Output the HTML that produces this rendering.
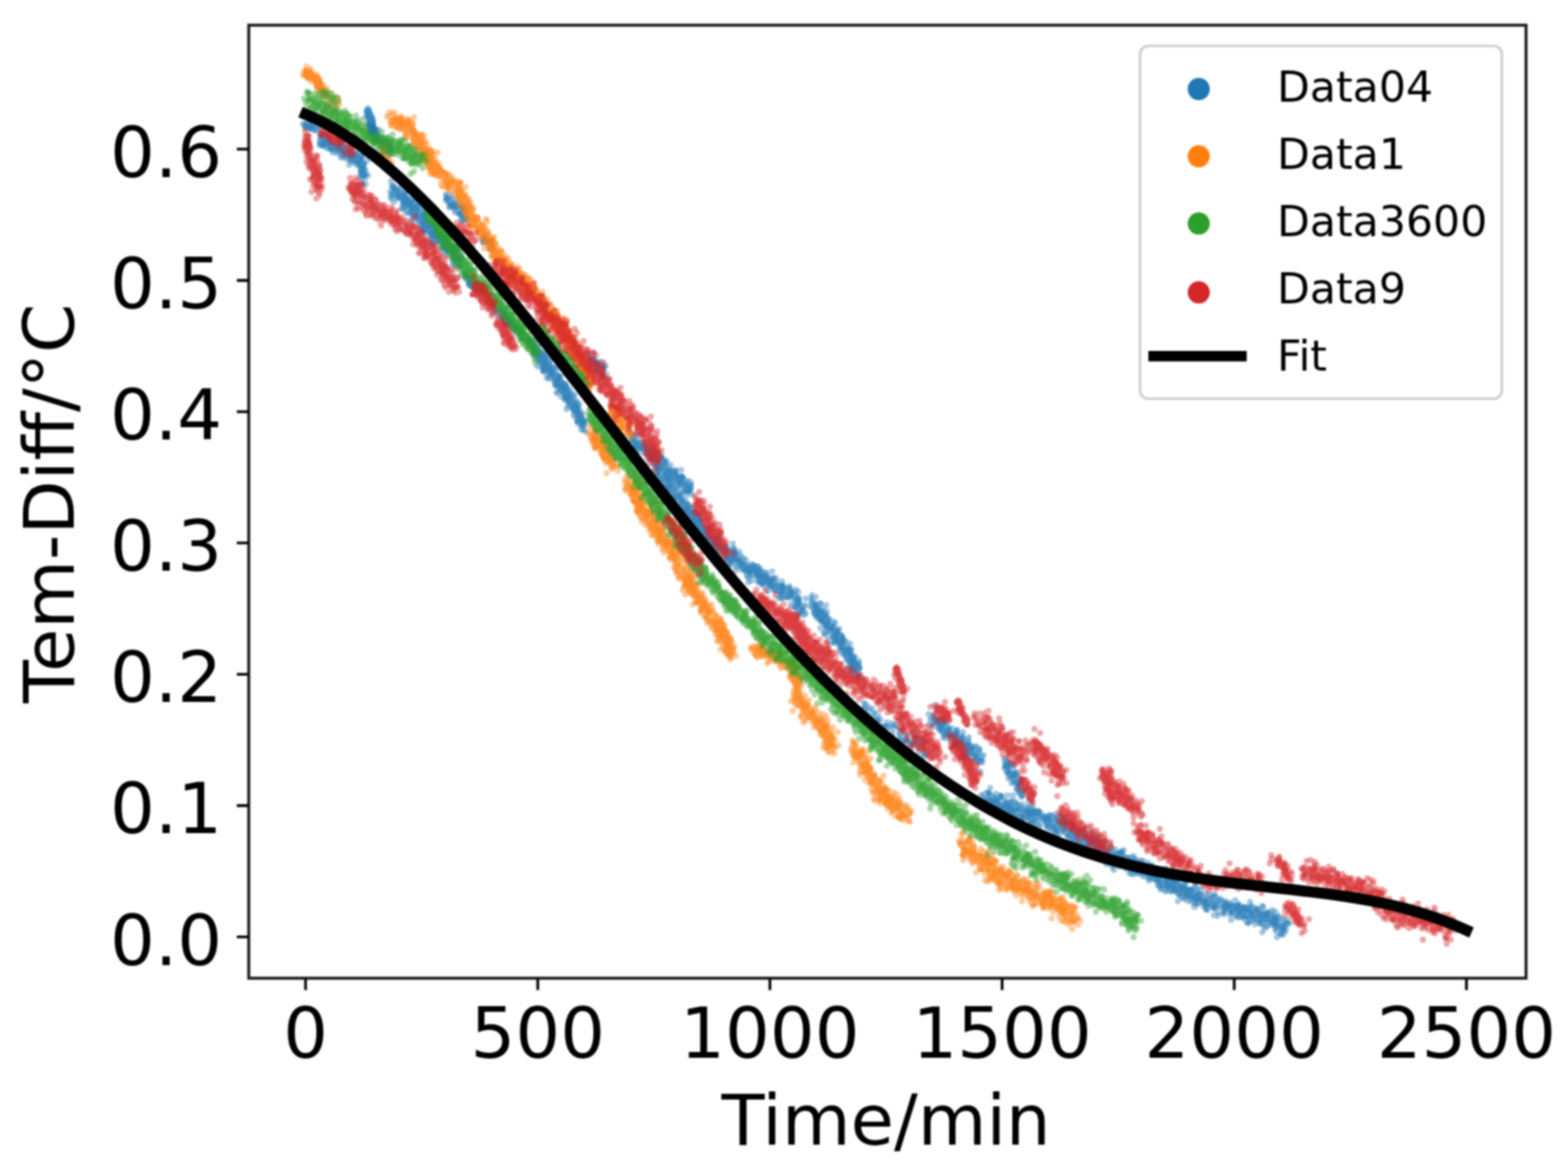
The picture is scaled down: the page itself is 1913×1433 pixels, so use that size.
<!DOCTYPE html>
<html><head><meta charset="utf-8"><title>plot</title>
<style>html,body{margin:0;padding:0;background:#fff;}svg{display:block;filter:blur(1px);}</style>
</head><body>
<svg width="1913" height="1433" viewBox="0 0 1913 1433"><rect width="1913" height="1433" fill="#fff"/><path d="M374 153h0M375 150h0M376 150h0M379 156h0M380 155h0M391 168h0M391 170h0M394 174h0M391 173h0M390 177h0M399 181h0M400 181h0M400 177h0M399 173h0M400 177h0M398 179h0M402 180h0M402 169h0M406 176h0M406 176h0M406 186h0M408 179h0M415 179h0M408 181h0M415 178h0M414 185h0M418 186h0M416 192h0M418 184h0M417 183h0M425 180h0M420 186h0M426 186h0M427 195h0M428 185h0M430 189h0M434 188h0M431 195h0M429 194h0M432 195h0M437 192h0M435 191h0M437 194h0M438 194h0M440 208h0M444 201h0M440 203h0M440 195h0M438 200h0M442 199h0M443 203h0M444 213h0M444 208h0M440 225h0M454 155h0M453 162h0M462 158h0M458 169h0M461 164h0M458 168h0M463 171h0M461 160h0M460 171h0M466 180h0M467 190h0M464 173h0M470 179h0M473 181h0M477 180h0M474 180h0M477 187h0M481 228h0M479 229h0M487 229h0M480 229h0M486 239h0M486 238h0M490 240h0M496 242h0M490 242h0M494 234h0M497 246h0M498 249h0M495 248h0M496 245h0M495 260h0M503 248h0M501 252h0M493 252h0M503 250h0M500 249h0M503 260h0M502 249h0M503 262h0M502 268h0M508 257h0M509 253h0M507 248h0M508 260h0M510 262h0M508 260h0M514 269h0M503 259h0M515 259h0M512 266h0M512 276h0M515 262h0M513 273h0M515 263h0M515 267h0M510 265h0M521 273h0M519 271h0M518 277h0M527 270h0M517 280h0M520 275h0M519 276h0M532 276h0M523 276h0M527 284h0M528 286h0M531 278h0M536 291h0M531 280h0M527 293h0M532 293h0M528 300h0M534 287h0M532 295h0M531 295h0M539 288h0M531 287h0M542 290h0M539 292h0M535 294h0M541 303h0M541 300h0M546 291h0M549 304h0M544 294h0M546 298h0M554 302h0M559 294h0M555 305h0M558 311h0M556 309h0M553 314h0M552 321h0M556 312h0M553 308h0M554 323h0M554 317h0M556 313h0M555 309h0M563 313h0M557 322h0M545 242h0M550 242h0M549 251h0M547 247h0M550 246h0M549 247h0M549 244h0M551 243h0M554 250h0M555 249h0M557 254h0M560 254h0M556 257h0M555 259h0M564 251h0M561 257h0M562 256h0M564 262h0M565 263h0M564 269h0M569 265h0M565 262h0M588 289h0M591 293h0M589 294h0M590 290h0M591 293h0M572 340h0M572 344h0M569 334h0M572 347h0M576 349h0M573 346h0M575 343h0M579 353h0M583 351h0M584 355h0M585 352h0M610 380h0M607 381h0M614 385h0M616 381h0M617 391h0M619 387h0M623 393h0M629 398h0M628 400h0M631 399h0M627 402h0M634 405h0M638 406h0M636 405h0M637 404h0M644 413h0M645 414h0M651 423h0M651 429h0M656 428h0M657 430h0M657 430h0M659 433h0M654 431h0M659 430h0M661 435h0M659 429h0M657 440h0M660 432h0M662 435h0M665 440h0M659 437h0M663 432h0M659 438h0M664 445h0M665 436h0M665 444h0M663 451h0M667 461h0M666 450h0M670 449h0M675 456h0M675 459h0M671 453h0M680 458h0M676 460h0M675 456h0M677 464h0M680 465h0M680 464h0M685 465h0M677 469h0M684 464h0M682 460h0M685 471h0M684 475h0M686 476h0M684 473h0M687 473h0M682 469h0M687 479h0M695 475h0M690 469h0M691 476h0M690 483h0M690 485h0M691 499h0M698 482h0M694 483h0M698 486h0M698 481h0M697 479h0M693 486h0M695 490h0M698 490h0M695 495h0M696 486h0M699 484h0M695 493h0M699 496h0M701 495h0M698 488h0M701 495h0M696 497h0M699 497h0M701 490h0M704 491h0M705 506h0M703 508h0M710 505h0M704 501h0M703 501h0M704 494h0M702 505h0M703 503h0M704 501h0M705 512h0M709 513h0M708 513h0M711 519h0M714 526h0M710 515h0M719 441h0M724 438h0M719 442h0M725 444h0M723 444h0M723 443h0M722 440h0M725 443h0M725 442h0M725 443h0M728 445h0M730 450h0M731 454h0M732 446h0M732 457h0M737 448h0M734 457h0M775 553h0M779 540h0M774 537h0M776 537h0M781 545h0M774 548h0M777 543h0M779 548h0M783 546h0M786 546h0M788 553h0M786 547h0M787 547h0M791 549h0M794 560h0M796 551h0M796 553h0M797 555h0M801 569h0M804 554h0M803 566h0M798 566h0M802 560h0M800 552h0M806 557h0M807 569h0M813 562h0M802 564h0M807 558h0M807 568h0M815 570h0M812 578h0M816 577h0M817 573h0M817 578h0M823 582h0M823 576h0M824 589h0M824 582h0M823 585h0M826 582h0M827 585h0M831 573h0M832 582h0M832 581h0M830 587h0M836 590h0M832 592h0M838 597h0M840 599h0M843 593h0M799 566h0M804 574h0M800 576h0M809 585h0M798 574h0M807 579h0M801 579h0M807 577h0M807 583h0M815 582h0M811 584h0M815 580h0M818 585h0M816 593h0M820 596h0M822 597h0M817 597h0M816 593h0M817 595h0M818 598h0M822 590h0M816 597h0M819 598h0M821 607h0M822 606h0M826 605h0M825 604h0M830 618h0M828 618h0M835 616h0M832 611h0M839 621h0M830 620h0M833 623h0M832 621h0M840 632h0M836 628h0M842 626h0M838 627h0M836 625h0M843 627h0M841 632h0M845 635h0M848 632h0M849 634h0M841 631h0M844 625h0M846 634h0M853 639h0M852 638h0M855 637h0M850 636h0M853 640h0M852 630h0M855 635h0M856 640h0M851 647h0M854 650h0M855 647h0M861 652h0M858 653h0M856 650h0M859 656h0M860 647h0M861 649h0M861 656h0M854 656h0M866 644h0M860 657h0M856 656h0M862 655h0M862 650h0M863 655h0M867 647h0M867 658h0M866 656h0M866 660h0M873 659h0M868 667h0M871 670h0M869 663h0M871 664h0M872 665h0M875 669h0M873 659h0M875 667h0M876 665h0M880 667h0M879 664h0M886 667h0M889 689h0M894 663h0M890 671h0M888 681h0M889 685h0M890 687h0M890 679h0M894 677h0M896 670h0M895 683h0M887 684h0M898 676h0M894 680h0M902 683h0M896 680h0M905 689h0M910 696h0M911 694h0M912 703h0M920 691h0M911 696h0M916 693h0M915 697h0M924 701h0M919 694h0M923 702h0M925 697h0M929 698h0M928 697h0M928 703h0M929 708h0M929 702h0M929 699h0M930 711h0M930 705h0M930 709h0M934 705h0M933 716h0M930 701h0M933 706h0M927 709h0M932 702h0M944 707h0M940 710h0M945 709h0M943 709h0M945 717h0M947 705h0M943 713h0M945 705h0M939 713h0M941 708h0M952 722h0M953 721h0M948 720h0M952 721h0M955 714h0M963 717h0M965 725h0M969 740h0M966 721h0M974 722h0M973 731h0M973 732h0M972 738h0M973 738h0M975 734h0M981 750h0M980 746h0M979 744h0M988 739h0M992 737h0M1001 736h0M990 733h0M992 740h0M992 741h0M999 748h0M992 741h0M994 748h0M995 751h0M990 735h0M1003 755h0M1004 743h0M1002 756h0M996 741h0M999 747h0M1005 746h0M1007 750h0M1011 757h0M1008 763h0M1005 754h0M1008 759h0M1006 759h0M1007 771h0M1020 778h0M1014 767h0M1019 760h0M1017 777h0M1020 771h0M1018 771h0M1021 769h0M1025 774h0M1024 778h0M1027 776h0M1023 782h0M1022 781h0M1024 778h0M1029 786h0M1030 783h0M1029 790h0M1027 789h0M1028 798h0M1029 789h0M1034 790h0M1037 791h0M1030 791h0M1034 789h0M1030 789h0M1034 793h0M1030 790h0M1035 794h0M1039 792h0M1038 800h0M1040 809h0M1039 806h0M1040 804h0M1046 812h0M1040 817h0M1041 811h0M1042 810h0M1045 814h0M1041 813h0M1040 813h0M1049 815h0M1043 815h0M1048 822h0M1047 820h0M1045 818h0M1055 865h0M1058 873h0M1053 864h0M1054 878h0M1061 874h0M1068 879h0M1069 877h0M1082 886h0M1082 888h0M1091 887h0M1089 890h0M1110 905h0M1117 899h0M1116 907h0M1128 921h0M1126 906h0M1130 905h0M1141 877h0M1142 878h0M1141 877h0M1145 883h0M1149 891h0M1148 883h0M1152 890h0M1149 888h0M1154 892h0M1153 900h0M1152 892h0M1154 881h0M1158 899h0M1149 892h0M1153 892h0M1157 888h0M1154 895h0M1156 890h0M1167 890h0M1162 897h0M1164 898h0M1167 892h0M1166 911h0M1165 904h0M1167 899h0M1177 904h0M1171 905h0M1173 906h0M1174 899h0M1177 912h0M1182 899h0M1173 900h0M1176 916h0M1179 913h0M1183 913h0M1178 906h0M1181 917h0M1178 916h0M1174 922h0M1181 914h0M1183 910h0M1181 921h0M1189 911h0M1193 929h0M1190 928h0M1195 915h0M1191 922h0M1196 941h0M1196 928h0M1229 935h0M1226 937h0M1230 941h0M1226 936h0M1230 937h0M1229 934h0M1229 936h0M1226 936h0M1233 932h0M1236 946h0M1229 937h0M1228 942h0M1239 943h0M1239 944h0M1237 954h0M1240 962h0M1242 955h0M1243 967h0M1250 964h0M1242 963h0M1245 966h0M1208 977h0M1206 967h0M1211 981h0M1211 980h0M1206 977h0M1215 968h0M1220 971h0M1211 986h0M1217 977h0M1216 973h0M1216 974h0M1225 986h0M1221 991h0M1219 983h0M1225 986h0M1229 987h0M1220 983h0M1230 991h0M1232 987h0M1230 990h0M1232 983h0M1231 997h0M1235 985h0M1236 970h0M1233 985h0M1239 987h0M1230 980h0M1236 991h0M1239 980h0M1237 997h0M1246 987h0M1246 987h0M1239 996h0M1247 987h0M1248 997h0M1251 996h0M1248 988h0M1252 987h0M1253 985h0M1254 993h0M1258 993h0M1254 991h0M1257 986h0M1259 1005h0M1260 994h0M1266 1003h0M1260 994h0M1262 990h0M1266 1004h0M1268 990h0M1266 1003h0M1268 1010h0M1264 1002h0M1265 1007h0M1275 1000h0M1278 997h0M1279 999h0M1277 998h0M1277 1009h0M1281 1012h0M1289 1014h0M1293 1002h0M1284 1009h0M1288 998h0M1287 1014h0M1300 1010h0M1295 995h0M1304 1002h0M1297 999h0M1298 1004h0M1300 1005h0M1298 1015h0M1304 1018h0M1303 1016h0M1309 1014h0M1302 1019h0M1311 1015h0M1311 1028h0M1311 1023h0M1314 1028h0M1311 1012h0M1313 1019h0M1309 1018h0M1317 1029h0M1306 1014h0M1316 1015h0M1323 1016h0M1324 1034h0M1325 1031h0M1323 1022h0M1331 1029h0M1325 1029h0M1333 1041h0M1340 1026h0M1334 1043h0M1334 1021h0M1335 1024h0M1344 1035h0M1334 1031h0M1339 1047h0M1340 1036h0M1347 1042h0M1346 1047h0M1346 1039h0M1348 1041h0M1351 1041h0M1357 1044h0M1369 1038h0M1357 1041h0M1360 1042h0M1354 1047h0M1364 1041h0M1365 1047h0M1364 1050h0M1361 1050h0M1366 1052h0M1367 1046h0M1372 1050h0M1375 1052h0M1382 1051h0M1379 1061h0M1378 1051h0M1376 1054h0M1381 1046h0M1381 1055h0M1384 1066h0M1379 1056h0M1383 1062h0M1383 1057h0M1382 1054h0M1388 1060h0M1381 1049h0M1386 1061h0M1387 1054h0M1390 1055h0M1386 1062h0M1390 1054h0M1388 1058h0M1389 1051h0M1393 1050h0M1385 1056h0M1386 1052h0M1391 1052h0M1404 1067h0M1400 1063h0M1398 1062h0M1405 1055h0M1407 1071h0M1401 1065h0M1408 1072h0M1411 1070h0M1413 1074h0M1410 1067h0M1412 1071h0M1416 1079h0M1419 1076h0M1416 1072h0M1420 1079h0M1416 1085h0M1421 1075h0M1425 1079h0M1423 1072h0M1425 1072h0M1426 1078h0M1427 1072h0M1429 1087h0M1426 1079h0M1434 1085h0M1426 1083h0M1428 1076h0M1429 1072h0M1430 1068h0M1430 1073h0M1433 1081h0M1429 1085h0M1437 1079h0M1436 1081h0M1434 1078h0M1438 1075h0M1438 1090h0M1435 1081h0M1441 1080h0M1442 1088h0M1435 1076h0M1435 1075h0M1445 1079h0M1445 1083h0M1446 1088h0M1441 1083h0M1447 1074h0M1456 1093h0M1446 1090h0M1451 1088h0M1450 1091h0M1444 1096h0M1454 1085h0M1461 1102h0M1459 1081h0M1456 1101h0M1460 1083h0M1460 1096h0M1459 1094h0M1464 1091h0M1462 1102h0M1464 1097h0M1471 1099h0M1477 1099h0M1468 1105h0M1472 1099h0M1475 1103h0M1482 1105h0M1469 1101h0M1478 1096h0M1481 1116h0M1482 1090h0M1479 1100h0M1493 1107h0M1488 1098h0M1485 1117h0M1495 1104h0M1498 1105h0M1495 1102h0M1509 1108h0M1506 1108h0M1504 1105h0M1502 1111h0M1510 1119h0M1502 1122h0M1511 1103h0M1513 1116h0M1513 1111h0M1520 1109h0M1520 1123h0M1518 1119h0M1519 1106h0M1521 1122h0M1521 1125h0M1526 1110h0M1529 1116h0M1527 1109h0M1527 1105h0M1529 1111h0M1536 1113h0M1539 1127h0M1542 1113h0M1539 1111h0M1545 1119h0M1545 1120h0M1540 1105h0M1550 1114h0M1541 1122h0M1551 1114h0M1550 1124h0M1557 1118h0M1551 1117h0M1555 1129h0M1555 1124h0M1556 1133h0M1560 1118h0M1557 1130h0M1564 1137h0M1569 1133h0M1566 1133h0M1567 1133h0M1568 1137h0M1570 1126h0M1563 1138h0M1565 1140h0" stroke="#1f77b4" stroke-opacity="0.42" stroke-width="7.4" stroke-linecap="round" fill="none"/><path d="M374 153h0M375 152h0M378 151h0M378 156h0M378 157h0M382 156h0M381 155h0M382 158h0M384 156h0M382 156h0M391 176h0M394 165h0M394 164h0M393 177h0M396 169h0M400 174h0M401 167h0M398 175h0M397 170h0M400 175h0M404 182h0M410 177h0M416 171h0M413 179h0M412 180h0M419 178h0M418 177h0M413 182h0M419 181h0M414 176h0M419 180h0M417 186h0M421 185h0M419 183h0M423 194h0M421 190h0M424 190h0M427 188h0M427 183h0M431 193h0M436 199h0M433 193h0M435 188h0M443 200h0M439 196h0M443 190h0M439 200h0M441 205h0M441 206h0M442 199h0M441 213h0M443 211h0M445 214h0M442 213h0M438 201h0M442 225h0M453 164h0M456 171h0M466 167h0M459 159h0M461 166h0M461 172h0M469 178h0M461 174h0M470 179h0M473 181h0M473 186h0M474 188h0M480 229h0M478 227h0M482 236h0M477 242h0M484 233h0M480 235h0M485 237h0M487 239h0M489 235h0M496 247h0M492 238h0M492 247h0M495 245h0M495 248h0M498 243h0M501 248h0M502 257h0M505 247h0M509 256h0M501 250h0M512 248h0M506 255h0M508 257h0M507 269h0M513 267h0M514 269h0M509 267h0M510 265h0M514 267h0M512 270h0M518 261h0M519 262h0M518 269h0M516 278h0M520 269h0M524 282h0M520 279h0M517 282h0M526 276h0M520 275h0M519 277h0M524 283h0M519 275h0M521 276h0M531 278h0M531 282h0M527 274h0M526 287h0M529 287h0M533 288h0M528 296h0M534 293h0M532 282h0M538 286h0M542 295h0M544 294h0M542 293h0M543 301h0M543 292h0M540 307h0M545 303h0M545 311h0M552 299h0M545 298h0M550 306h0M555 300h0M558 311h0M554 312h0M550 312h0M552 310h0M560 315h0M559 305h0M554 313h0M558 306h0M561 324h0M556 323h0M561 312h0M558 316h0M560 313h0M563 312h0M554 324h0M546 243h0M544 244h0M549 249h0M548 253h0M551 251h0M555 248h0M559 251h0M555 253h0M556 256h0M560 260h0M565 255h0M563 252h0M564 254h0M564 263h0M567 256h0M568 268h0M567 266h0M589 296h0M594 295h0M592 295h0M599 293h0M601 303h0M571 338h0M568 340h0M572 338h0M572 346h0M580 347h0M580 352h0M580 350h0M583 345h0M584 350h0M603 375h0M602 370h0M603 376h0M607 385h0M610 380h0M617 384h0M616 392h0M617 388h0M615 389h0M615 387h0M620 389h0M625 397h0M629 399h0M627 392h0M634 400h0M636 403h0M633 401h0M646 420h0M647 416h0M645 417h0M652 421h0M652 425h0M655 428h0M656 436h0M654 437h0M659 429h0M652 433h0M658 441h0M660 441h0M662 435h0M662 436h0M661 443h0M668 443h0M661 442h0M664 432h0M665 436h0M670 442h0M662 436h0M661 438h0M665 442h0M661 447h0M670 444h0M668 454h0M672 454h0M663 450h0M666 448h0M672 450h0M670 439h0M671 451h0M672 452h0M671 455h0M673 457h0M673 448h0M670 459h0M669 452h0M674 452h0M670 457h0M672 451h0M679 451h0M672 451h0M670 462h0M677 456h0M679 462h0M675 461h0M679 455h0M679 462h0M680 468h0M682 465h0M686 470h0M678 467h0M680 461h0M681 479h0M685 466h0M680 470h0M682 461h0M684 483h0M687 468h0M683 470h0M685 484h0M687 473h0M690 469h0M689 475h0M690 475h0M688 474h0M691 475h0M687 482h0M690 484h0M695 481h0M690 479h0M694 486h0M692 483h0M692 481h0M694 482h0M695 491h0M695 488h0M697 484h0M699 494h0M690 488h0M693 487h0M697 485h0M700 491h0M696 487h0M701 499h0M696 486h0M705 498h0M698 492h0M703 493h0M701 502h0M704 499h0M707 505h0M703 501h0M703 497h0M704 502h0M708 507h0M708 505h0M710 513h0M707 509h0M704 513h0M708 508h0M709 511h0M707 507h0M709 518h0M710 510h0M709 512h0M713 517h0M713 515h0M725 437h0M714 442h0M722 433h0M719 443h0M722 438h0M728 442h0M727 448h0M727 450h0M734 449h0M730 450h0M734 451h0M735 460h0M773 531h0M768 532h0M774 542h0M779 542h0M771 538h0M775 542h0M774 542h0M779 546h0M789 546h0M780 550h0M781 541h0M782 543h0M786 545h0M784 551h0M785 552h0M787 540h0M791 550h0M798 552h0M786 552h0M792 554h0M792 556h0M798 558h0M795 557h0M796 558h0M804 565h0M804 574h0M803 568h0M803 553h0M802 568h0M803 561h0M805 564h0M802 570h0M806 559h0M811 565h0M805 565h0M807 555h0M820 574h0M812 576h0M814 579h0M821 581h0M815 581h0M821 575h0M816 580h0M815 574h0M827 584h0M824 579h0M829 585h0M832 582h0M829 587h0M833 590h0M835 603h0M831 591h0M832 588h0M837 596h0M843 595h0M840 598h0M843 589h0M841 587h0M838 596h0M835 605h0M841 599h0M803 568h0M809 588h0M805 577h0M807 574h0M812 575h0M806 576h0M807 575h0M811 581h0M810 581h0M804 578h0M809 590h0M810 586h0M812 583h0M812 587h0M819 594h0M808 594h0M815 592h0M815 587h0M811 589h0M815 589h0M814 586h0M819 596h0M819 598h0M813 598h0M818 596h0M825 595h0M824 600h0M817 593h0M827 606h0M820 604h0M823 607h0M824 598h0M831 614h0M830 604h0M831 607h0M821 602h0M829 611h0M825 612h0M828 606h0M832 601h0M833 616h0M831 623h0M837 605h0M835 613h0M837 603h0M833 621h0M834 627h0M837 615h0M836 625h0M841 624h0M836 621h0M842 624h0M837 625h0M841 618h0M839 623h0M843 627h0M842 626h0M839 623h0M842 625h0M845 628h0M845 626h0M846 632h0M847 634h0M847 635h0M848 624h0M850 635h0M853 644h0M846 637h0M852 631h0M854 629h0M853 637h0M849 643h0M851 638h0M852 642h0M860 647h0M857 657h0M859 651h0M854 659h0M864 656h0M864 660h0M864 661h0M867 656h0M867 660h0M875 663h0M876 667h0M873 670h0M871 665h0M872 673h0M874 670h0M883 668h0M874 670h0M885 671h0M885 668h0M885 679h0M884 680h0M891 681h0M895 679h0M895 684h0M894 673h0M897 675h0M898 679h0M891 689h0M896 680h0M897 680h0M896 681h0M900 691h0M899 688h0M899 683h0M904 678h0M902 686h0M901 687h0M906 688h0M907 689h0M906 693h0M915 698h0M909 691h0M912 689h0M919 689h0M918 690h0M911 694h0M914 694h0M920 694h0M916 692h0M924 691h0M923 697h0M928 694h0M927 702h0M923 700h0M926 703h0M930 706h0M930 709h0M926 706h0M931 704h0M936 709h0M934 703h0M931 710h0M935 707h0M934 703h0M937 710h0M938 714h0M936 705h0M940 706h0M933 708h0M939 711h0M937 711h0M937 703h0M946 715h0M944 705h0M944 717h0M946 717h0M945 720h0M948 717h0M953 723h0M951 716h0M946 721h0M953 727h0M954 714h0M953 717h0M956 716h0M955 721h0M962 727h0M962 725h0M965 725h0M960 728h0M963 726h0M965 723h0M969 724h0M972 730h0M972 729h0M973 745h0M974 731h0M975 738h0M976 741h0M980 742h0M974 747h0M983 748h0M982 738h0M978 744h0M974 744h0M995 736h0M995 742h0M991 741h0M990 729h0M994 740h0M994 740h0M994 738h0M997 754h0M993 744h0M1005 747h0M997 752h0M1000 746h0M1002 758h0M1000 754h0M1004 746h0M1004 756h0M1009 746h0M1007 763h0M1007 753h0M1007 749h0M1007 775h0M1012 761h0M1012 755h0M1009 764h0M1009 763h0M1012 763h0M1008 754h0M1017 758h0M1009 761h0M1015 763h0M1019 773h0M1012 770h0M1015 764h0M1016 772h0M1011 777h0M1018 768h0M1021 776h0M1021 778h0M1018 784h0M1022 769h0M1020 772h0M1024 788h0M1025 779h0M1022 774h0M1025 781h0M1023 783h0M1024 791h0M1024 783h0M1027 775h0M1029 790h0M1025 787h0M1028 778h0M1028 781h0M1029 787h0M1029 789h0M1033 801h0M1032 798h0M1038 801h0M1035 795h0M1036 793h0M1034 799h0M1042 800h0M1039 799h0M1039 811h0M1042 806h0M1039 813h0M1041 805h0M1036 807h0M1044 811h0M1046 810h0M1048 810h0M1048 814h0M1038 820h0M1051 827h0M1042 815h0M1061 883h0M1065 885h0M1081 886h0M1074 877h0M1079 886h0M1086 886h0M1082 886h0M1091 884h0M1094 885h0M1089 896h0M1099 904h0M1098 892h0M1102 906h0M1106 899h0M1108 902h0M1108 908h0M1106 898h0M1110 907h0M1111 908h0M1114 894h0M1115 900h0M1112 913h0M1122 900h0M1118 903h0M1124 906h0M1126 913h0M1134 884h0M1142 877h0M1145 879h0M1149 882h0M1148 886h0M1139 881h0M1149 879h0M1148 884h0M1146 890h0M1153 884h0M1147 884h0M1155 882h0M1151 899h0M1155 883h0M1158 892h0M1161 888h0M1156 894h0M1157 892h0M1167 906h0M1159 894h0M1161 888h0M1167 901h0M1161 898h0M1165 894h0M1167 896h0M1163 902h0M1166 896h0M1169 901h0M1165 901h0M1169 905h0M1165 908h0M1166 893h0M1169 902h0M1175 900h0M1177 905h0M1172 905h0M1176 920h0M1180 906h0M1178 911h0M1181 903h0M1176 915h0M1182 908h0M1177 912h0M1178 909h0M1181 920h0M1172 907h0M1173 910h0M1182 915h0M1177 918h0M1185 914h0M1186 926h0M1183 913h0M1176 913h0M1184 918h0M1186 917h0M1190 924h0M1194 918h0M1187 924h0M1196 924h0M1193 920h0M1197 922h0M1225 926h0M1230 941h0M1226 931h0M1229 930h0M1227 930h0M1229 935h0M1237 951h0M1237 948h0M1233 948h0M1237 944h0M1243 948h0M1239 953h0M1245 953h0M1238 952h0M1242 958h0M1243 951h0M1244 954h0M1246 956h0M1241 962h0M1246 972h0M1200 969h0M1203 977h0M1208 961h0M1206 980h0M1208 969h0M1203 967h0M1211 971h0M1207 981h0M1212 977h0M1209 973h0M1215 974h0M1213 978h0M1216 981h0M1221 971h0M1217 985h0M1222 987h0M1229 990h0M1229 979h0M1226 978h0M1224 994h0M1226 982h0M1233 981h0M1227 978h0M1232 986h0M1236 990h0M1233 985h0M1235 991h0M1231 986h0M1238 992h0M1234 985h0M1238 992h0M1234 977h0M1245 989h0M1243 988h0M1242 995h0M1247 981h0M1242 988h0M1243 990h0M1244 992h0M1251 994h0M1242 989h0M1250 996h0M1253 988h0M1251 996h0M1256 994h0M1253 996h0M1251 991h0M1259 1002h0M1249 999h0M1253 988h0M1264 993h0M1260 989h0M1261 992h0M1265 991h0M1271 996h0M1269 1006h0M1277 998h0M1277 1005h0M1272 997h0M1273 1003h0M1275 1002h0M1284 1005h0M1286 1004h0M1280 995h0M1279 995h0M1285 1001h0M1281 1000h0M1288 993h0M1287 1012h0M1287 1004h0M1299 1003h0M1290 1020h0M1300 1003h0M1298 998h0M1298 1004h0M1294 1007h0M1297 1011h0M1299 1010h0M1303 1019h0M1307 1015h0M1308 1006h0M1306 1012h0M1305 1020h0M1307 1022h0M1307 1007h0M1306 1019h0M1314 1018h0M1310 1025h0M1316 1020h0M1308 1020h0M1309 1021h0M1315 1022h0M1317 1025h0M1314 1027h0M1316 1033h0M1317 1019h0M1318 1032h0M1319 1017h0M1323 1022h0M1322 1041h0M1319 1028h0M1320 1031h0M1331 1023h0M1328 1032h0M1319 1022h0M1325 1031h0M1331 1014h0M1337 1033h0M1328 1024h0M1332 1025h0M1335 1029h0M1347 1035h0M1341 1036h0M1340 1039h0M1340 1037h0M1337 1034h0M1344 1039h0M1349 1028h0M1342 1034h0M1347 1032h0M1351 1028h0M1353 1035h0M1347 1036h0M1351 1034h0M1353 1029h0M1352 1049h0M1347 1030h0M1358 1044h0M1355 1043h0M1355 1034h0M1353 1050h0M1357 1057h0M1360 1054h0M1362 1047h0M1363 1051h0M1360 1047h0M1366 1050h0M1367 1040h0M1370 1043h0M1361 1036h0M1364 1053h0M1371 1047h0M1373 1055h0M1372 1049h0M1374 1056h0M1369 1052h0M1373 1057h0M1376 1046h0M1385 1053h0M1383 1057h0M1385 1052h0M1386 1052h0M1386 1050h0M1381 1066h0M1388 1049h0M1377 1053h0M1392 1054h0M1386 1048h0M1385 1063h0M1389 1059h0M1390 1062h0M1387 1059h0M1389 1057h0M1399 1059h0M1395 1066h0M1397 1060h0M1400 1065h0M1400 1061h0M1402 1059h0M1399 1065h0M1406 1066h0M1402 1065h0M1399 1064h0M1397 1061h0M1403 1063h0M1404 1071h0M1411 1072h0M1417 1069h0M1416 1061h0M1414 1074h0M1413 1080h0M1415 1073h0M1422 1059h0M1427 1075h0M1428 1071h0M1423 1076h0M1426 1084h0M1421 1078h0M1422 1087h0M1421 1080h0M1427 1080h0M1432 1083h0M1429 1087h0M1423 1071h0M1433 1077h0M1431 1081h0M1429 1076h0M1431 1085h0M1434 1087h0M1431 1080h0M1446 1085h0M1441 1081h0M1446 1077h0M1442 1085h0M1449 1086h0M1450 1088h0M1445 1090h0M1450 1099h0M1442 1091h0M1446 1095h0M1441 1092h0M1449 1087h0M1448 1092h0M1445 1088h0M1453 1086h0M1453 1095h0M1448 1098h0M1464 1091h0M1465 1094h0M1459 1096h0M1461 1090h0M1465 1084h0M1462 1095h0M1467 1094h0M1467 1093h0M1470 1100h0M1468 1101h0M1471 1104h0M1471 1089h0M1471 1109h0M1481 1103h0M1486 1113h0M1480 1107h0M1491 1107h0M1495 1099h0M1496 1104h0M1489 1111h0M1493 1099h0M1491 1113h0M1492 1103h0M1491 1108h0M1490 1112h0M1486 1104h0M1494 1110h0M1497 1106h0M1501 1101h0M1493 1107h0M1496 1105h0M1503 1104h0M1499 1102h0M1503 1113h0M1508 1108h0M1511 1113h0M1511 1112h0M1510 1107h0M1512 1106h0M1507 1098h0M1514 1112h0M1512 1110h0M1509 1102h0M1518 1111h0M1520 1110h0M1524 1109h0M1525 1106h0M1519 1107h0M1527 1111h0M1526 1112h0M1526 1117h0M1525 1100h0M1528 1123h0M1519 1115h0M1522 1116h0M1526 1108h0M1531 1127h0M1530 1107h0M1534 1115h0M1533 1108h0M1538 1122h0M1538 1121h0M1535 1125h0M1532 1117h0M1538 1114h0M1543 1115h0M1548 1113h0M1546 1130h0M1552 1110h0M1545 1130h0M1550 1115h0M1545 1129h0M1548 1125h0M1557 1124h0M1553 1121h0M1555 1122h0M1548 1122h0M1555 1123h0M1551 1123h0M1555 1123h0M1556 1119h0M1564 1128h0M1554 1124h0M1554 1126h0M1561 1129h0M1564 1131h0M1566 1123h0M1558 1130h0M1566 1133h0M1564 1139h0M1564 1135h0M1564 1138h0M1566 1135h0" stroke="#1f77b4" stroke-opacity="0.42" stroke-width="7.4" stroke-linecap="round" fill="none"/><path d="M373 156h0M371 152h0M373 155h0M380 155h0M382 153h0M386 158h0M385 155h0M387 159h0M390 163h0M395 166h0M392 165h0M395 168h0M394 169h0M396 175h0M394 177h0M402 176h0M404 170h0M401 172h0M406 180h0M407 178h0M404 182h0M409 182h0M409 178h0M409 171h0M412 180h0M411 187h0M407 182h0M412 179h0M406 172h0M410 174h0M409 183h0M416 185h0M415 169h0M418 176h0M418 181h0M417 188h0M416 184h0M417 176h0M419 192h0M417 190h0M427 191h0M423 186h0M429 197h0M431 198h0M430 195h0M430 193h0M431 187h0M431 186h0M435 187h0M441 194h0M435 201h0M439 190h0M442 205h0M441 206h0M437 199h0M441 206h0M440 208h0M444 205h0M448 196h0M442 216h0M441 211h0M443 214h0M449 214h0M441 207h0M457 167h0M457 159h0M458 164h0M467 175h0M470 178h0M472 183h0M470 172h0M472 174h0M472 174h0M475 174h0M476 185h0M476 178h0M477 239h0M480 246h0M477 234h0M481 232h0M488 232h0M476 234h0M483 241h0M486 235h0M481 246h0M484 235h0M493 235h0M491 255h0M490 243h0M496 244h0M493 247h0M495 241h0M503 236h0M500 252h0M493 252h0M493 255h0M500 246h0M504 243h0M503 253h0M500 252h0M509 264h0M508 252h0M506 262h0M508 261h0M500 259h0M510 261h0M512 255h0M517 270h0M517 270h0M516 263h0M516 279h0M519 284h0M515 276h0M520 278h0M517 262h0M522 277h0M516 275h0M520 273h0M520 284h0M523 285h0M523 278h0M530 273h0M525 277h0M535 279h0M521 281h0M528 285h0M527 279h0M529 282h0M526 283h0M531 292h0M531 277h0M530 286h0M525 294h0M533 287h0M534 290h0M537 284h0M528 290h0M538 294h0M548 300h0M541 288h0M543 301h0M543 289h0M549 304h0M546 297h0M549 304h0M542 300h0M546 302h0M550 302h0M547 306h0M551 302h0M552 299h0M554 308h0M554 303h0M556 314h0M554 304h0M554 312h0M552 306h0M560 317h0M558 316h0M557 314h0M550 238h0M545 239h0M551 251h0M556 252h0M564 253h0M570 267h0M560 261h0M567 266h0M567 268h0M566 266h0M591 288h0M590 291h0M591 290h0M595 296h0M598 296h0M597 297h0M597 304h0M570 337h0M573 344h0M574 346h0M576 350h0M575 348h0M580 351h0M582 345h0M584 353h0M600 371h0M603 373h0M601 372h0M602 373h0M615 386h0M614 388h0M616 389h0M621 392h0M622 391h0M617 396h0M620 396h0M630 401h0M629 405h0M637 410h0M636 407h0M638 406h0M637 411h0M638 406h0M643 412h0M645 418h0M649 414h0M650 421h0M651 430h0M654 425h0M652 417h0M649 419h0M657 423h0M659 431h0M656 434h0M656 431h0M659 439h0M658 431h0M656 429h0M658 432h0M661 430h0M669 434h0M665 437h0M663 436h0M664 451h0M661 437h0M666 443h0M663 442h0M663 445h0M665 443h0M665 440h0M664 454h0M665 445h0M668 443h0M671 452h0M671 441h0M673 449h0M673 456h0M676 449h0M684 459h0M676 464h0M678 469h0M681 464h0M680 465h0M678 471h0M679 479h0M683 470h0M683 469h0M683 476h0M680 472h0M684 471h0M682 474h0M688 468h0M693 476h0M686 477h0M689 474h0M694 484h0M692 473h0M690 484h0M694 490h0M698 497h0M701 494h0M703 498h0M704 500h0M704 502h0M700 499h0M705 497h0M703 499h0M708 507h0M706 507h0M706 507h0M703 500h0M706 506h0M710 516h0M705 516h0M709 509h0M712 514h0M707 518h0M714 513h0M710 511h0M708 517h0M712 524h0M723 439h0M719 439h0M724 448h0M729 442h0M728 445h0M729 450h0M735 453h0M731 449h0M731 450h0M734 448h0M739 446h0M729 447h0M736 451h0M772 536h0M776 546h0M770 528h0M775 544h0M773 533h0M779 544h0M772 538h0M778 541h0M782 542h0M781 546h0M784 539h0M789 549h0M790 551h0M791 552h0M796 551h0M796 546h0M791 548h0M797 560h0M793 559h0M797 557h0M807 560h0M796 561h0M799 564h0M801 570h0M804 564h0M804 570h0M812 564h0M807 571h0M806 561h0M808 568h0M813 567h0M807 570h0M811 565h0M812 578h0M815 570h0M813 571h0M815 586h0M818 567h0M824 573h0M824 577h0M823 574h0M819 575h0M820 578h0M819 586h0M829 589h0M823 575h0M828 581h0M828 588h0M828 586h0M826 581h0M830 596h0M834 583h0M831 585h0M836 599h0M837 592h0M839 594h0M842 600h0M844 603h0M797 566h0M802 574h0M802 576h0M810 593h0M804 585h0M815 583h0M820 587h0M816 593h0M819 586h0M814 598h0M817 590h0M813 593h0M819 606h0M818 607h0M818 606h0M824 610h0M831 608h0M830 605h0M831 601h0M831 610h0M831 608h0M834 614h0M829 617h0M833 612h0M837 612h0M838 614h0M839 618h0M834 614h0M838 634h0M842 618h0M836 622h0M846 621h0M838 623h0M840 626h0M839 622h0M845 623h0M842 625h0M842 628h0M844 628h0M844 633h0M844 635h0M842 627h0M847 631h0M843 637h0M842 634h0M849 633h0M842 631h0M853 635h0M851 626h0M850 646h0M853 637h0M857 639h0M850 640h0M851 638h0M850 646h0M853 649h0M862 645h0M858 646h0M852 657h0M862 655h0M864 651h0M858 649h0M868 658h0M866 647h0M867 658h0M859 651h0M868 658h0M871 657h0M867 657h0M867 667h0M869 661h0M870 669h0M872 664h0M874 667h0M870 668h0M871 666h0M869 660h0M877 670h0M874 673h0M882 672h0M884 674h0M878 656h0M878 669h0M885 666h0M879 674h0M888 678h0M886 677h0M896 675h0M889 687h0M900 681h0M895 681h0M895 674h0M896 673h0M889 682h0M897 673h0M890 684h0M902 673h0M897 691h0M905 682h0M899 680h0M907 681h0M901 683h0M904 695h0M903 688h0M897 696h0M909 695h0M905 690h0M908 694h0M909 692h0M911 701h0M908 688h0M910 691h0M913 691h0M914 698h0M912 701h0M916 705h0M915 696h0M916 698h0M917 708h0M913 704h0M922 691h0M925 694h0M920 696h0M925 691h0M925 695h0M924 699h0M924 700h0M930 698h0M925 701h0M927 711h0M929 704h0M930 710h0M934 700h0M935 708h0M937 721h0M936 710h0M936 705h0M935 710h0M942 706h0M936 705h0M942 697h0M942 718h0M938 720h0M936 707h0M946 720h0M949 717h0M942 716h0M941 711h0M949 714h0M943 717h0M953 716h0M956 724h0M946 716h0M955 718h0M955 724h0M953 723h0M957 727h0M953 730h0M958 718h0M953 722h0M960 723h0M957 725h0M959 721h0M962 721h0M957 725h0M964 719h0M961 728h0M965 728h0M965 725h0M975 729h0M971 733h0M971 739h0M971 741h0M972 739h0M983 730h0M974 737h0M974 739h0M975 747h0M980 740h0M996 740h0M999 739h0M995 739h0M1001 736h0M999 752h0M998 739h0M1001 748h0M996 739h0M995 747h0M1003 752h0M1002 746h0M999 744h0M1008 738h0M1006 752h0M1001 755h0M1004 756h0M1006 758h0M1008 755h0M1008 762h0M1010 755h0M1005 772h0M1010 758h0M1012 770h0M1015 764h0M1008 765h0M1012 770h0M1016 770h0M1017 781h0M1019 782h0M1019 776h0M1017 771h0M1020 770h0M1013 785h0M1025 786h0M1028 779h0M1025 783h0M1029 795h0M1027 794h0M1032 782h0M1026 794h0M1032 797h0M1028 793h0M1036 792h0M1033 800h0M1037 798h0M1035 806h0M1041 804h0M1041 803h0M1036 801h0M1046 809h0M1037 801h0M1041 805h0M1038 813h0M1041 810h0M1044 814h0M1043 821h0M1047 812h0M1041 822h0M1045 823h0M1047 823h0M1048 828h0M1054 857h0M1055 864h0M1056 871h0M1059 862h0M1059 880h0M1064 864h0M1066 877h0M1070 879h0M1068 870h0M1068 882h0M1071 872h0M1079 886h0M1098 905h0M1097 895h0M1098 890h0M1098 901h0M1105 902h0M1105 896h0M1101 906h0M1105 895h0M1120 910h0M1128 918h0M1137 875h0M1133 871h0M1146 877h0M1138 872h0M1142 886h0M1139 885h0M1149 883h0M1144 883h0M1151 889h0M1147 878h0M1145 878h0M1149 891h0M1151 887h0M1150 889h0M1151 881h0M1150 891h0M1157 896h0M1151 884h0M1149 886h0M1155 896h0M1151 895h0M1154 893h0M1158 897h0M1156 894h0M1160 904h0M1158 891h0M1162 896h0M1169 902h0M1168 891h0M1165 906h0M1173 898h0M1167 895h0M1168 909h0M1172 904h0M1169 908h0M1171 898h0M1173 915h0M1170 906h0M1181 911h0M1168 910h0M1178 924h0M1182 909h0M1182 906h0M1186 913h0M1185 910h0M1199 928h0M1188 920h0M1187 918h0M1195 913h0M1193 929h0M1198 930h0M1227 925h0M1228 928h0M1233 931h0M1226 936h0M1228 933h0M1231 930h0M1229 936h0M1235 943h0M1229 940h0M1231 943h0M1235 943h0M1236 931h0M1233 946h0M1237 938h0M1241 946h0M1234 943h0M1234 944h0M1234 955h0M1246 952h0M1244 955h0M1243 957h0M1244 966h0M1248 969h0M1248 970h0M1197 970h0M1204 974h0M1207 976h0M1202 979h0M1207 977h0M1202 981h0M1205 978h0M1211 979h0M1211 977h0M1214 977h0M1219 977h0M1215 987h0M1225 982h0M1217 990h0M1217 981h0M1222 981h0M1218 983h0M1222 991h0M1225 973h0M1224 989h0M1229 970h0M1223 983h0M1232 989h0M1226 981h0M1239 981h0M1238 977h0M1234 998h0M1238 978h0M1230 984h0M1235 989h0M1237 988h0M1239 988h0M1242 983h0M1241 995h0M1235 992h0M1246 996h0M1239 985h0M1254 990h0M1259 986h0M1258 991h0M1260 984h0M1259 994h0M1256 997h0M1256 1000h0M1260 991h0M1261 998h0M1263 998h0M1258 991h0M1262 989h0M1257 992h0M1263 1005h0M1261 990h0M1264 995h0M1267 990h0M1269 998h0M1266 996h0M1271 993h0M1276 1002h0M1275 996h0M1280 1001h0M1279 999h0M1281 994h0M1280 1004h0M1281 1007h0M1280 1009h0M1291 996h0M1292 1011h0M1289 1008h0M1300 997h0M1290 1013h0M1291 998h0M1297 1005h0M1292 1005h0M1294 1008h0M1299 1004h0M1298 1014h0M1309 1006h0M1303 1017h0M1307 1014h0M1307 1014h0M1316 1021h0M1312 1020h0M1310 1022h0M1310 1029h0M1314 1011h0M1315 1021h0M1318 1024h0M1314 1029h0M1321 1013h0M1320 1022h0M1317 1027h0M1320 1015h0M1320 1031h0M1322 1018h0M1325 1020h0M1330 1030h0M1332 1027h0M1328 1030h0M1333 1037h0M1334 1019h0M1336 1025h0M1330 1036h0M1337 1026h0M1339 1034h0M1338 1022h0M1345 1041h0M1338 1036h0M1341 1030h0M1341 1038h0M1343 1025h0M1345 1035h0M1348 1040h0M1347 1043h0M1353 1037h0M1347 1035h0M1350 1041h0M1343 1048h0M1348 1041h0M1352 1042h0M1347 1040h0M1355 1038h0M1357 1038h0M1362 1046h0M1357 1049h0M1359 1046h0M1359 1061h0M1371 1037h0M1358 1055h0M1361 1042h0M1367 1042h0M1361 1046h0M1372 1048h0M1368 1050h0M1373 1046h0M1369 1047h0M1368 1040h0M1372 1053h0M1377 1053h0M1383 1044h0M1387 1060h0M1380 1056h0M1380 1054h0M1378 1046h0M1388 1060h0M1376 1053h0M1385 1060h0M1383 1060h0M1390 1063h0M1393 1058h0M1391 1065h0M1400 1052h0M1396 1063h0M1394 1056h0M1390 1065h0M1399 1060h0M1401 1070h0M1397 1062h0M1394 1050h0M1400 1055h0M1402 1074h0M1402 1067h0M1400 1065h0M1413 1079h0M1408 1069h0M1411 1072h0M1414 1072h0M1410 1074h0M1424 1070h0M1424 1075h0M1415 1081h0M1433 1075h0M1429 1076h0M1425 1081h0M1433 1084h0M1429 1077h0M1429 1082h0M1437 1090h0M1439 1080h0M1447 1085h0M1438 1085h0M1442 1082h0M1445 1083h0M1447 1074h0M1448 1092h0M1457 1089h0M1453 1085h0M1450 1094h0M1451 1085h0M1461 1096h0M1450 1093h0M1457 1091h0M1461 1088h0M1460 1102h0M1456 1094h0M1463 1100h0M1459 1096h0M1463 1100h0M1464 1098h0M1471 1102h0M1474 1096h0M1475 1095h0M1471 1099h0M1473 1110h0M1475 1106h0M1474 1099h0M1481 1107h0M1480 1094h0M1485 1098h0M1483 1094h0M1486 1105h0M1483 1094h0M1494 1112h0M1495 1106h0M1503 1104h0M1501 1109h0M1504 1105h0M1505 1115h0M1504 1105h0M1498 1102h0M1508 1115h0M1508 1106h0M1508 1117h0M1504 1115h0M1503 1111h0M1508 1116h0M1515 1109h0M1516 1119h0M1516 1106h0M1513 1112h0M1518 1118h0M1519 1111h0M1526 1114h0M1513 1105h0M1518 1107h0M1522 1109h0M1524 1107h0M1524 1124h0M1526 1121h0M1524 1120h0M1525 1119h0M1534 1109h0M1539 1115h0M1531 1122h0M1529 1122h0M1535 1115h0M1535 1121h0M1535 1111h0M1538 1115h0M1543 1132h0M1539 1122h0M1541 1106h0M1544 1115h0M1546 1115h0M1542 1122h0M1554 1128h0M1553 1122h0M1555 1121h0M1559 1126h0M1554 1122h0M1558 1123h0M1556 1124h0M1559 1125h0M1573 1126h0M1562 1129h0M1570 1122h0M1558 1143h0M1565 1132h0M1570 1125h0M1566 1129h0" stroke="#1f77b4" stroke-opacity="0.42" stroke-width="7.4" stroke-linecap="round" fill="none"/><path d="M371 153h0M370 151h0M374 154h0M373 156h0M376 156h0M377 155h0M379 157h0M377 153h0M381 156h0M383 150h0M388 157h0M384 159h0M391 170h0M392 163h0M396 173h0M390 173h0M394 171h0M395 165h0M396 163h0M394 166h0M395 178h0M403 169h0M401 174h0M403 173h0M400 179h0M406 177h0M404 174h0M408 181h0M411 183h0M415 170h0M415 181h0M413 179h0M426 179h0M424 179h0M423 185h0M421 189h0M426 185h0M426 191h0M426 201h0M428 189h0M427 189h0M429 190h0M435 191h0M429 198h0M429 190h0M435 196h0M435 191h0M436 195h0M437 197h0M444 200h0M441 191h0M440 199h0M442 203h0M443 212h0M442 204h0M445 212h0M440 215h0M443 210h0M446 208h0M444 207h0M445 213h0M440 217h0M440 213h0M446 212h0M446 225h0M445 220h0M459 161h0M453 163h0M456 155h0M452 164h0M457 167h0M462 171h0M466 172h0M461 168h0M465 172h0M471 178h0M467 173h0M475 177h0M467 183h0M471 184h0M471 179h0M472 180h0M471 176h0M472 179h0M478 237h0M479 225h0M482 230h0M485 234h0M477 221h0M485 241h0M485 242h0M487 241h0M490 239h0M496 246h0M493 241h0M495 238h0M491 250h0M496 242h0M499 259h0M502 245h0M493 248h0M499 243h0M490 254h0M500 252h0M500 254h0M496 253h0M501 246h0M504 252h0M506 256h0M506 263h0M508 256h0M510 251h0M506 265h0M503 264h0M507 260h0M515 262h0M511 269h0M517 255h0M518 273h0M521 267h0M520 264h0M517 272h0M520 263h0M524 259h0M525 271h0M520 264h0M517 274h0M515 281h0M523 273h0M526 285h0M522 281h0M526 278h0M528 289h0M523 277h0M525 280h0M529 284h0M527 283h0M528 284h0M533 285h0M529 286h0M536 295h0M536 287h0M537 291h0M539 285h0M544 294h0M541 295h0M541 291h0M538 301h0M544 291h0M544 292h0M545 300h0M540 301h0M540 292h0M546 298h0M545 307h0M545 304h0M551 303h0M557 303h0M548 300h0M551 308h0M555 317h0M551 310h0M555 304h0M552 308h0M555 314h0M553 310h0M552 306h0M554 318h0M554 310h0M558 320h0M561 316h0M562 316h0M563 328h0M550 248h0M544 237h0M545 242h0M548 246h0M547 244h0M551 249h0M551 246h0M555 244h0M550 248h0M553 248h0M552 253h0M557 251h0M557 243h0M558 250h0M554 246h0M564 261h0M562 261h0M565 259h0M562 268h0M569 258h0M563 263h0M590 292h0M591 293h0M593 292h0M596 294h0M599 297h0M568 338h0M572 343h0M576 330h0M565 333h0M573 347h0M576 341h0M577 347h0M574 349h0M576 349h0M578 350h0M581 347h0M579 346h0M580 353h0M582 354h0M583 353h0M584 353h0M586 353h0M589 353h0M588 352h0M587 354h0M603 377h0M602 375h0M606 377h0M602 380h0M611 372h0M612 379h0M612 388h0M615 387h0M615 391h0M614 384h0M616 387h0M620 393h0M621 390h0M621 393h0M621 397h0M625 398h0M629 402h0M627 399h0M634 410h0M637 413h0M641 415h0M647 417h0M650 420h0M652 427h0M652 427h0M650 427h0M653 430h0M657 434h0M656 447h0M659 433h0M656 420h0M660 433h0M653 429h0M660 444h0M663 439h0M659 436h0M665 440h0M666 441h0M663 434h0M666 443h0M662 441h0M665 444h0M666 447h0M663 437h0M661 445h0M664 437h0M666 445h0M667 445h0M666 450h0M662 452h0M673 451h0M670 447h0M671 445h0M670 449h0M676 448h0M668 445h0M672 454h0M672 457h0M676 457h0M670 459h0M676 452h0M671 448h0M680 469h0M680 463h0M682 459h0M680 469h0M683 473h0M684 467h0M685 470h0M688 478h0M685 475h0M686 471h0M686 475h0M692 479h0M690 472h0M689 487h0M695 480h0M692 479h0M689 483h0M694 482h0M694 480h0M694 487h0M699 487h0M693 495h0M696 485h0M703 489h0M694 486h0M702 495h0M701 482h0M699 498h0M703 500h0M701 495h0M703 496h0M702 496h0M707 493h0M700 507h0M701 494h0M702 500h0M702 495h0M700 502h0M703 501h0M706 506h0M709 509h0M703 507h0M707 504h0M708 501h0M708 501h0M706 508h0M710 512h0M708 511h0M712 513h0M709 524h0M705 514h0M712 518h0M715 439h0M718 433h0M720 444h0M724 441h0M723 440h0M726 443h0M725 452h0M733 441h0M728 451h0M728 444h0M728 450h0M732 457h0M730 445h0M735 445h0M740 456h0M736 459h0M772 530h0M771 536h0M775 542h0M780 531h0M776 538h0M776 545h0M788 544h0M784 546h0M788 545h0M789 555h0M792 554h0M789 547h0M798 562h0M796 550h0M792 560h0M797 553h0M802 562h0M799 566h0M803 557h0M798 557h0M798 562h0M807 571h0M808 561h0M803 563h0M803 564h0M803 568h0M802 565h0M804 563h0M810 567h0M804 566h0M813 574h0M815 578h0M810 561h0M814 581h0M813 577h0M814 575h0M817 577h0M817 576h0M816 584h0M821 586h0M825 582h0M831 581h0M826 584h0M825 575h0M832 582h0M832 586h0M827 589h0M836 598h0M833 587h0M842 597h0M840 596h0M836 589h0M838 587h0M839 596h0M842 596h0M840 594h0M842 591h0M839 599h0M803 571h0M804 573h0M802 580h0M806 584h0M808 584h0M807 586h0M816 581h0M812 583h0M816 582h0M819 588h0M812 591h0M814 596h0M814 593h0M821 598h0M821 593h0M810 595h0M820 604h0M822 597h0M821 591h0M816 589h0M825 595h0M820 597h0M818 601h0M824 600h0M823 611h0M823 600h0M824 605h0M822 606h0M830 604h0M825 605h0M829 603h0M829 604h0M828 604h0M832 611h0M829 605h0M841 619h0M835 621h0M838 620h0M841 622h0M842 626h0M841 633h0M846 626h0M839 615h0M840 629h0M845 629h0M842 629h0M841 630h0M841 626h0M848 637h0M843 647h0M848 634h0M847 630h0M855 636h0M851 634h0M852 629h0M847 639h0M850 644h0M850 636h0M854 639h0M850 643h0M853 642h0M857 646h0M856 650h0M859 645h0M856 650h0M859 662h0M861 652h0M861 648h0M864 659h0M864 658h0M869 656h0M871 654h0M877 654h0M869 660h0M873 655h0M878 667h0M876 661h0M877 664h0M869 667h0M878 667h0M874 666h0M876 668h0M875 677h0M877 677h0M877 665h0M882 673h0M882 676h0M884 677h0M880 672h0M881 677h0M888 670h0M888 681h0M885 678h0M884 673h0M895 679h0M896 675h0M894 684h0M890 684h0M893 681h0M886 675h0M895 681h0M895 669h0M895 677h0M889 678h0M900 684h0M909 694h0M903 688h0M908 692h0M904 686h0M912 693h0M910 683h0M909 696h0M904 688h0M908 687h0M913 710h0M913 695h0M916 691h0M915 697h0M916 702h0M917 688h0M924 704h0M924 694h0M922 695h0M922 701h0M920 699h0M925 706h0M924 709h0M926 703h0M931 704h0M931 704h0M928 703h0M934 707h0M934 706h0M927 701h0M930 713h0M936 707h0M935 698h0M933 700h0M936 705h0M928 702h0M940 711h0M935 704h0M940 713h0M944 709h0M939 712h0M940 713h0M941 714h0M940 715h0M947 710h0M954 709h0M954 726h0M955 720h0M950 729h0M956 720h0M959 719h0M954 715h0M950 714h0M958 720h0M959 725h0M962 726h0M963 715h0M962 717h0M955 729h0M965 737h0M956 721h0M959 724h0M960 729h0M959 726h0M970 726h0M967 729h0M969 727h0M965 723h0M966 737h0M971 732h0M970 732h0M971 719h0M971 735h0M974 736h0M970 740h0M973 731h0M975 735h0M974 753h0M978 745h0M976 750h0M991 735h0M994 737h0M991 726h0M995 744h0M998 744h0M995 728h0M996 748h0M995 747h0M997 742h0M1000 747h0M993 748h0M997 742h0M1001 752h0M1001 745h0M1001 756h0M1002 751h0M997 750h0M1003 758h0M1002 756h0M1001 766h0M1009 764h0M1009 761h0M1006 760h0M1006 760h0M1011 761h0M1008 750h0M1017 764h0M1015 766h0M1016 777h0M1015 765h0M1018 783h0M1024 767h0M1022 772h0M1018 780h0M1018 778h0M1018 778h0M1026 777h0M1021 783h0M1024 781h0M1024 779h0M1027 783h0M1026 788h0M1024 779h0M1028 791h0M1025 776h0M1027 781h0M1028 779h0M1027 778h0M1026 786h0M1037 785h0M1031 791h0M1028 791h0M1032 795h0M1032 804h0M1027 791h0M1033 792h0M1032 798h0M1034 791h0M1030 794h0M1035 798h0M1042 802h0M1038 810h0M1033 800h0M1036 795h0M1039 803h0M1043 811h0M1036 797h0M1038 797h0M1035 805h0M1038 794h0M1040 816h0M1034 814h0M1041 809h0M1040 806h0M1048 815h0M1042 807h0M1038 816h0M1041 809h0M1044 803h0M1044 820h0M1042 811h0M1048 806h0M1047 816h0M1043 825h0M1052 871h0M1056 859h0M1058 870h0M1054 881h0M1066 870h0M1062 876h0M1061 866h0M1072 880h0M1082 881h0M1075 885h0M1087 882h0M1090 883h0M1085 882h0M1098 899h0M1105 903h0M1111 908h0M1115 905h0M1118 905h0M1121 917h0M1124 923h0M1122 915h0M1125 903h0M1129 922h0M1140 860h0M1135 878h0M1138 874h0M1141 877h0M1138 882h0M1147 882h0M1140 879h0M1144 878h0M1146 888h0M1152 877h0M1153 893h0M1145 881h0M1148 887h0M1157 890h0M1159 896h0M1167 895h0M1164 908h0M1175 893h0M1167 906h0M1173 903h0M1177 909h0M1173 924h0M1182 918h0M1181 916h0M1183 916h0M1176 909h0M1180 910h0M1180 916h0M1180 924h0M1189 915h0M1190 925h0M1183 915h0M1191 910h0M1185 918h0M1186 913h0M1193 922h0M1191 924h0M1194 928h0M1194 927h0M1200 921h0M1197 928h0M1233 933h0M1231 934h0M1227 933h0M1227 932h0M1232 943h0M1234 934h0M1230 949h0M1231 944h0M1237 947h0M1235 947h0M1238 950h0M1239 943h0M1242 954h0M1243 957h0M1240 956h0M1247 966h0M1244 961h0M1247 970h0M1244 964h0M1248 963h0M1201 974h0M1202 983h0M1206 967h0M1212 984h0M1208 971h0M1217 981h0M1214 991h0M1213 973h0M1217 984h0M1214 983h0M1217 977h0M1211 977h0M1216 982h0M1221 970h0M1229 980h0M1224 989h0M1218 982h0M1224 982h0M1219 986h0M1221 972h0M1228 979h0M1230 988h0M1233 978h0M1233 985h0M1242 981h0M1235 988h0M1243 987h0M1247 994h0M1247 985h0M1247 991h0M1246 991h0M1252 988h0M1248 998h0M1254 993h0M1253 993h0M1256 994h0M1256 1000h0M1255 977h0M1253 992h0M1255 991h0M1259 994h0M1259 1001h0M1256 996h0M1257 990h0M1255 981h0M1262 999h0M1263 997h0M1264 989h0M1268 996h0M1267 989h0M1273 996h0M1277 998h0M1284 1001h0M1278 1007h0M1284 1004h0M1283 1005h0M1278 1001h0M1286 1001h0M1288 1000h0M1293 1002h0M1292 1005h0M1285 1006h0M1284 995h0M1292 1013h0M1286 1008h0M1286 1003h0M1290 1006h0M1292 1012h0M1284 1010h0M1290 1006h0M1293 1014h0M1287 1016h0M1292 1017h0M1296 1002h0M1300 1008h0M1299 1004h0M1304 1009h0M1307 1010h0M1308 1007h0M1313 1016h0M1317 1014h0M1313 1016h0M1305 1023h0M1323 1010h0M1320 1032h0M1324 1025h0M1316 1019h0M1332 1024h0M1327 1028h0M1324 1020h0M1324 1038h0M1330 1028h0M1338 1023h0M1338 1032h0M1336 1041h0M1337 1038h0M1341 1029h0M1341 1030h0M1343 1034h0M1345 1034h0M1352 1038h0M1351 1051h0M1350 1041h0M1350 1054h0M1362 1044h0M1364 1051h0M1360 1048h0M1363 1052h0M1362 1046h0M1368 1046h0M1366 1040h0M1363 1048h0M1368 1042h0M1366 1057h0M1373 1046h0M1370 1055h0M1365 1054h0M1374 1055h0M1371 1055h0M1374 1060h0M1374 1058h0M1377 1054h0M1385 1050h0M1379 1050h0M1378 1065h0M1379 1060h0M1384 1052h0M1392 1066h0M1389 1053h0M1387 1061h0M1389 1065h0M1397 1067h0M1390 1065h0M1393 1063h0M1395 1069h0M1402 1056h0M1406 1057h0M1401 1071h0M1399 1064h0M1403 1067h0M1405 1062h0M1402 1062h0M1411 1068h0M1409 1068h0M1409 1059h0M1412 1069h0M1413 1071h0M1412 1073h0M1417 1065h0M1415 1063h0M1411 1059h0M1423 1076h0M1422 1076h0M1418 1077h0M1421 1079h0M1424 1071h0M1418 1083h0M1428 1069h0M1422 1076h0M1423 1086h0M1429 1069h0M1436 1076h0M1432 1076h0M1432 1086h0M1427 1081h0M1438 1082h0M1432 1084h0M1435 1071h0M1440 1071h0M1433 1081h0M1436 1085h0M1439 1071h0M1442 1091h0M1442 1087h0M1437 1099h0M1440 1095h0M1443 1084h0M1443 1090h0M1444 1083h0M1449 1084h0M1452 1091h0M1444 1085h0M1457 1106h0M1449 1093h0M1454 1090h0M1450 1089h0M1453 1097h0M1457 1105h0M1456 1092h0M1458 1079h0M1456 1095h0M1458 1091h0M1457 1083h0M1458 1101h0M1460 1095h0M1458 1106h0M1465 1091h0M1471 1095h0M1463 1097h0M1471 1099h0M1475 1102h0M1471 1102h0M1472 1108h0M1479 1100h0M1482 1101h0M1477 1092h0M1474 1093h0M1480 1100h0M1482 1094h0M1482 1108h0M1493 1104h0M1493 1115h0M1488 1098h0M1489 1096h0M1493 1103h0M1494 1101h0M1496 1108h0M1495 1108h0M1500 1109h0M1517 1110h0M1501 1113h0M1510 1111h0M1500 1115h0M1500 1105h0M1511 1114h0M1514 1118h0M1509 1108h0M1509 1116h0M1510 1106h0M1516 1108h0M1522 1111h0M1526 1115h0M1522 1118h0M1519 1117h0M1523 1117h0M1524 1116h0M1519 1112h0M1528 1117h0M1528 1115h0M1523 1126h0M1522 1116h0M1527 1113h0M1533 1109h0M1536 1123h0M1532 1120h0M1537 1126h0M1536 1121h0M1535 1120h0M1538 1117h0M1540 1137h0M1540 1127h0M1547 1119h0M1543 1117h0M1547 1126h0M1545 1123h0M1546 1112h0M1548 1128h0M1556 1112h0M1555 1116h0M1557 1118h0M1556 1120h0M1558 1116h0M1557 1134h0M1556 1127h0M1557 1136h0M1551 1125h0M1557 1127h0M1558 1122h0M1566 1128h0M1556 1124h0M1563 1120h0M1562 1139h0M1558 1117h0M1563 1138h0M1562 1134h0M1567 1130h0M1571 1126h0M1560 1120h0M1566 1134h0M1565 1134h0M1561 1132h0" stroke="#1f77b4" stroke-opacity="0.42" stroke-width="7.4" stroke-linecap="round" fill="none"/><path d="M373 93h0M373 87h0M374 92h0M375 91h0M373 92h0M376 95h0M374 86h0M380 93h0M378 88h0M381 93h0M382 92h0M380 98h0M383 99h0M386 92h0M379 99h0M386 93h0M388 105h0M386 105h0M384 99h0M390 98h0M389 97h0M389 104h0M388 106h0M391 102h0M387 104h0M390 105h0M389 104h0M396 117h0M394 108h0M396 112h0M397 117h0M394 116h0M404 126h0M403 114h0M405 131h0M406 132h0M410 130h0M412 129h0M409 135h0M414 128h0M411 119h0M479 140h0M477 152h0M482 144h0M476 142h0M480 147h0M482 144h0M478 147h0M477 153h0M483 154h0M486 147h0M497 145h0M496 147h0M488 146h0M495 148h0M491 152h0M497 151h0M497 147h0M496 158h0M498 150h0M499 158h0M500 148h0M502 156h0M505 168h0M505 159h0M503 161h0M501 159h0M504 151h0M503 159h0M507 168h0M504 165h0M506 162h0M506 171h0M507 176h0M510 175h0M513 165h0M505 172h0M507 174h0M509 173h0M510 169h0M520 182h0M514 169h0M511 173h0M514 174h0M514 181h0M520 183h0M520 192h0M521 186h0M522 192h0M523 188h0M516 190h0M519 182h0M527 192h0M523 192h0M525 199h0M526 194h0M529 189h0M523 204h0M525 197h0M524 195h0M528 199h0M525 212h0M527 193h0M531 213h0M531 200h0M528 205h0M527 204h0M528 211h0M537 214h0M531 212h0M537 211h0M535 211h0M534 205h0M537 208h0M544 226h0M541 212h0M534 207h0M544 212h0M543 211h0M538 213h0M541 220h0M538 213h0M540 228h0M552 227h0M545 228h0M549 223h0M550 224h0M551 224h0M555 228h0M555 222h0M559 227h0M558 224h0M557 230h0M559 240h0M562 240h0M563 231h0M562 244h0M564 239h0M566 243h0M565 238h0M565 239h0M566 242h0M564 240h0M570 242h0M568 238h0M571 260h0M567 251h0M568 256h0M572 247h0M568 252h0M571 260h0M566 257h0M570 251h0M572 259h0M567 261h0M570 259h0M569 264h0M570 250h0M571 268h0M573 252h0M573 255h0M576 259h0M579 268h0M579 268h0M580 272h0M577 269h0M580 272h0M574 276h0M581 270h0M580 271h0M577 274h0M582 265h0M588 280h0M580 273h0M594 270h0M582 282h0M593 286h0M585 285h0M585 281h0M595 285h0M596 290h0M603 289h0M599 291h0M601 298h0M600 292h0M597 302h0M603 295h0M601 311h0M603 311h0M602 306h0M603 311h0M600 301h0M605 305h0M603 306h0M611 314h0M608 310h0M602 314h0M606 319h0M610 314h0M609 317h0M616 316h0M616 317h0M612 318h0M616 321h0M612 332h0M622 335h0M619 329h0M621 332h0M617 321h0M623 327h0M624 333h0M633 337h0M632 334h0M629 330h0M630 342h0M636 334h0M639 336h0M634 337h0M632 338h0M639 340h0M635 344h0M639 347h0M635 340h0M645 342h0M644 348h0M642 350h0M643 347h0M652 349h0M640 347h0M645 350h0M652 346h0M653 354h0M659 371h0M662 364h0M652 364h0M658 366h0M659 371h0M662 374h0M666 377h0M663 376h0M672 372h0M667 370h0M665 376h0M668 376h0M669 375h0M670 386h0M673 381h0M674 383h0M676 379h0M675 389h0M678 381h0M677 387h0M675 385h0M682 394h0M673 402h0M678 386h0M672 392h0M676 387h0M677 394h0M675 390h0M674 393h0M682 395h0M683 397h0M688 403h0M682 395h0M683 406h0M687 403h0M691 395h0M688 408h0M692 410h0M693 415h0M689 411h0M691 415h0M694 402h0M687 400h0M692 407h0M686 411h0M694 415h0M692 414h0M693 416h0M694 414h0M692 409h0M692 415h0M695 420h0M699 432h0M701 412h0M697 421h0M696 426h0M693 423h0M688 415h0M695 421h0M697 432h0M708 422h0M707 430h0M700 441h0M711 437h0M706 437h0M704 443h0M704 431h0M712 441h0M702 443h0M705 435h0M710 438h0M709 453h0M710 443h0M712 439h0M708 445h0M708 443h0M714 447h0M714 452h0M711 449h0M708 460h0M717 462h0M717 461h0M713 466h0M718 455h0M716 459h0M719 449h0M720 460h0M719 457h0M722 464h0M718 465h0M719 468h0M724 462h0M718 481h0M718 463h0M723 468h0M724 460h0M467 187h0M471 182h0M472 198h0M474 194h0M477 201h0M753 497h0M747 506h0M748 513h0M755 508h0M759 510h0M751 514h0M757 516h0M758 521h0M756 526h0M766 516h0M767 528h0M771 533h0M723 521h0M719 527h0M721 526h0M724 533h0M726 525h0M725 532h0M724 528h0M726 536h0M731 534h0M727 534h0M727 540h0M725 535h0M728 535h0M731 545h0M734 541h0M728 540h0M727 547h0M738 542h0M737 555h0M733 548h0M738 552h0M731 545h0M738 554h0M741 541h0M744 558h0M734 553h0M741 552h0M739 552h0M743 553h0M740 561h0M738 557h0M746 554h0M747 554h0M745 563h0M746 565h0M750 562h0M742 556h0M740 577h0M749 569h0M745 560h0M752 569h0M754 574h0M746 570h0M771 595h0M774 600h0M771 598h0M779 595h0M778 603h0M773 607h0M777 596h0M772 597h0M776 599h0M775 597h0M770 603h0M783 606h0M773 602h0M778 605h0M771 602h0M777 610h0M777 608h0M778 612h0M779 616h0M773 610h0M780 604h0M784 620h0M781 613h0M776 609h0M777 622h0M784 613h0M783 615h0M780 626h0M779 611h0M784 621h0M780 619h0M782 622h0M783 626h0M783 617h0M782 616h0M782 631h0M790 624h0M784 623h0M784 615h0M793 624h0M786 632h0M784 630h0M786 616h0M793 629h0M784 621h0M793 643h0M790 630h0M805 626h0M799 612h0M792 647h0M793 629h0M791 635h0M800 637h0M793 636h0M800 635h0M802 642h0M798 650h0M796 650h0M799 652h0M807 650h0M801 652h0M802 649h0M806 641h0M802 637h0M808 640h0M802 644h0M805 655h0M799 650h0M806 650h0M801 652h0M806 646h0M808 648h0M812 656h0M808 670h0M806 659h0M810 662h0M811 653h0M812 666h0M811 669h0M817 660h0M809 664h0M813 665h0M820 673h0M814 659h0M813 660h0M821 665h0M815 672h0M817 673h0M826 680h0M831 680h0M825 681h0M827 676h0M821 678h0M826 697h0M822 680h0M824 693h0M826 691h0M829 695h0M834 682h0M841 697h0M841 704h0M838 705h0M838 706h0M836 707h0M835 696h0M837 701h0M836 709h0M836 704h0M834 716h0M841 712h0M838 712h0M843 707h0M842 700h0M839 709h0M840 717h0M846 714h0M842 714h0M845 714h0M847 714h0M845 721h0M850 719h0M848 722h0M848 727h0M845 716h0M849 725h0M854 733h0M845 737h0M853 730h0M850 723h0M859 737h0M857 732h0M851 721h0M852 736h0M857 740h0M855 747h0M857 741h0M864 745h0M864 745h0M865 747h0M859 751h0M858 741h0M865 746h0M873 749h0M873 759h0M869 757h0M866 758h0M870 755h0M872 769h0M869 763h0M879 756h0M882 761h0M881 772h0M882 768h0M877 766h0M879 774h0M883 772h0M882 776h0M883 772h0M881 776h0M887 773h0M886 782h0M884 778h0M887 781h0M890 787h0M889 777h0M888 789h0M888 791h0M891 785h0M892 797h0M887 775h0M894 794h0M884 792h0M888 791h0M890 784h0M889 790h0M886 791h0M889 800h0M890 800h0M917 789h0M922 790h0M930 800h0M930 801h0M926 786h0M927 795h0M929 790h0M932 792h0M934 800h0M933 799h0M936 809h0M940 796h0M942 802h0M942 806h0M944 797h0M944 806h0M950 799h0M948 806h0M945 796h0M951 795h0M951 809h0M958 814h0M960 808h0M961 813h0M961 810h0M968 815h0M966 819h0M966 813h0M965 820h0M964 820h0M966 829h0M971 832h0M969 829h0M971 823h0M972 817h0M971 833h0M971 821h0M963 825h0M971 832h0M976 837h0M974 834h0M972 839h0M978 836h0M976 843h0M974 842h0M970 841h0M971 840h0M965 855h0M968 843h0M968 849h0M975 851h0M976 850h0M982 848h0M979 849h0M967 867h0M979 849h0M984 862h0M980 859h0M982 865h0M984 866h0M979 857h0M983 870h0M982 862h0M987 869h0M985 862h0M979 869h0M981 865h0M989 874h0M986 872h0M991 878h0M988 872h0M992 873h0M983 879h0M992 866h0M990 875h0M991 880h0M998 887h0M999 880h0M1001 891h0M1007 887h0M1004 886h0M1001 883h0M1010 879h0M1015 893h0M1005 892h0M1001 895h0M1015 893h0M1002 889h0M1012 907h0M1014 893h0M1013 901h0M1014 904h0M1011 905h0M1008 903h0M1011 904h0M1014 901h0M1018 919h0M1022 893h0M1016 907h0M1047 921h0M1043 915h0M1046 921h0M1044 924h0M1044 922h0M1053 914h0M1053 916h0M1052 920h0M1043 920h0M1049 932h0M1050 922h0M1048 925h0M1057 936h0M1054 935h0M1062 925h0M1053 934h0M1053 940h0M1062 937h0M1056 938h0M1056 937h0M1058 934h0M1058 932h0M1059 934h0M1059 948h0M1056 939h0M1059 937h0M1052 941h0M1058 937h0M1062 946h0M1064 951h0M1061 946h0M1065 944h0M1065 967h0M1070 952h0M1063 952h0M1071 963h0M1065 948h0M1068 960h0M1067 944h0M1067 958h0M1064 956h0M1066 975h0M1074 953h0M1070 954h0M1072 974h0M1077 966h0M1080 961h0M1076 971h0M1076 964h0M1083 982h0M1074 966h0M1078 970h0M1079 976h0M1084 972h0M1088 972h0M1082 980h0M1079 978h0M1084 975h0M1089 981h0M1087 983h0M1091 978h0M1087 978h0M1093 981h0M1089 986h0M1093 975h0M1092 979h0M1095 983h0M1089 989h0M1095 987h0M1100 995h0M1098 980h0M1098 995h0M1102 994h0M1175 1035h0M1183 1022h0M1174 1023h0M1177 1034h0M1175 1034h0M1184 1031h0M1178 1028h0M1176 1044h0M1172 1031h0M1178 1033h0M1188 1039h0M1178 1035h0M1178 1040h0M1179 1033h0M1187 1045h0M1184 1041h0M1179 1040h0M1185 1035h0M1181 1039h0M1184 1039h0M1185 1041h0M1186 1047h0M1186 1044h0M1189 1047h0M1197 1045h0M1193 1044h0M1195 1058h0M1204 1049h0M1198 1060h0M1198 1046h0M1197 1058h0M1200 1048h0M1205 1046h0M1202 1058h0M1202 1045h0M1197 1057h0M1205 1060h0M1204 1049h0M1203 1058h0M1211 1049h0M1209 1054h0M1207 1054h0M1213 1057h0M1217 1065h0M1215 1051h0M1213 1069h0M1208 1073h0M1213 1061h0M1219 1085h0M1210 1048h0M1213 1071h0M1218 1078h0M1219 1062h0M1224 1057h0M1222 1057h0M1218 1073h0M1215 1070h0M1223 1063h0M1218 1069h0M1229 1074h0M1225 1068h0M1223 1075h0M1224 1070h0M1227 1069h0M1229 1076h0M1230 1063h0M1233 1076h0M1234 1080h0M1237 1073h0M1239 1076h0M1236 1085h0M1239 1082h0M1242 1085h0M1243 1076h0M1245 1079h0M1248 1074h0M1248 1085h0M1252 1084h0M1242 1076h0M1251 1087h0M1255 1077h0M1259 1087h0M1248 1092h0M1260 1091h0M1250 1084h0M1255 1082h0M1262 1103h0M1263 1091h0M1254 1094h0M1268 1082h0M1260 1096h0M1273 1089h0M1271 1101h0M1262 1095h0M1262 1095h0M1271 1098h0M1271 1093h0M1272 1099h0M1277 1089h0M1283 1100h0M1277 1098h0M1269 1098h0M1280 1095h0M1275 1098h0M1274 1097h0M1276 1096h0M1279 1108h0M1273 1100h0M1281 1096h0M1275 1099h0M1273 1106h0M1283 1102h0M1277 1103h0M1283 1120h0M1280 1087h0M1299 1100h0M1291 1106h0M1297 1100h0M1296 1102h0M1296 1109h0M1293 1108h0M1305 1113h0M1300 1118h0M1300 1110h0M1298 1115h0M1307 1104h0M1303 1112h0M1302 1112h0M1302 1110h0M1302 1113h0M1311 1107h0M1309 1114h0M1308 1117h0M1309 1117h0M1304 1122h0M1305 1111h0M1303 1127h0M1311 1123h0" stroke="#ff7f0e" stroke-opacity="0.42" stroke-width="7.4" stroke-linecap="round" fill="none"/><path d="M376 88h0M372 92h0M374 81h0M379 84h0M374 89h0M375 87h0M380 94h0M376 95h0M375 92h0M376 90h0M380 91h0M377 93h0M379 90h0M380 93h0M381 94h0M382 94h0M384 95h0M385 95h0M389 102h0M389 97h0M387 98h0M389 106h0M389 96h0M385 100h0M388 103h0M390 100h0M387 104h0M389 104h0M389 105h0M393 108h0M391 102h0M394 116h0M395 109h0M398 117h0M401 119h0M479 147h0M481 147h0M485 145h0M490 150h0M480 149h0M486 145h0M487 150h0M493 151h0M485 156h0M489 142h0M489 146h0M490 157h0M487 157h0M490 147h0M501 147h0M499 151h0M495 166h0M495 152h0M505 143h0M503 151h0M503 153h0M503 164h0M506 161h0M503 160h0M503 169h0M507 163h0M507 163h0M509 169h0M506 175h0M508 178h0M508 167h0M506 168h0M517 174h0M518 184h0M512 184h0M520 185h0M515 175h0M519 182h0M513 178h0M513 179h0M523 180h0M521 178h0M521 192h0M520 173h0M520 175h0M515 196h0M517 182h0M519 188h0M519 191h0M517 196h0M526 192h0M525 195h0M525 205h0M524 182h0M525 201h0M528 198h0M522 200h0M525 199h0M526 187h0M527 211h0M535 199h0M528 202h0M529 213h0M536 203h0M539 209h0M535 210h0M536 214h0M540 211h0M539 212h0M538 215h0M539 214h0M544 212h0M543 212h0M541 212h0M544 218h0M548 227h0M545 223h0M547 227h0M549 231h0M549 222h0M549 229h0M547 220h0M552 220h0M548 226h0M559 224h0M550 232h0M554 230h0M559 231h0M556 233h0M561 224h0M556 227h0M558 238h0M561 231h0M562 245h0M560 235h0M564 235h0M562 241h0M562 232h0M565 242h0M561 245h0M566 238h0M565 235h0M567 238h0M564 243h0M571 259h0M571 248h0M573 256h0M571 257h0M570 251h0M568 258h0M577 265h0M576 266h0M570 258h0M573 267h0M572 273h0M576 276h0M582 269h0M583 266h0M582 269h0M582 265h0M583 272h0M584 271h0M581 271h0M583 269h0M582 275h0M593 267h0M589 281h0M585 280h0M588 290h0M589 275h0M590 287h0M590 289h0M592 292h0M597 290h0M599 298h0M596 292h0M600 293h0M599 298h0M597 302h0M599 312h0M602 302h0M601 310h0M605 300h0M601 310h0M606 317h0M607 303h0M604 313h0M606 309h0M607 313h0M606 317h0M612 306h0M612 322h0M616 312h0M610 311h0M612 318h0M613 321h0M618 320h0M616 322h0M614 326h0M621 320h0M616 334h0M614 317h0M617 324h0M626 336h0M623 333h0M632 326h0M627 339h0M628 333h0M628 336h0M633 330h0M626 337h0M633 332h0M634 333h0M639 337h0M631 334h0M634 337h0M635 336h0M634 346h0M635 339h0M636 341h0M642 337h0M636 343h0M635 338h0M638 334h0M637 349h0M640 348h0M643 349h0M647 347h0M643 358h0M645 351h0M650 359h0M651 346h0M649 356h0M657 362h0M657 367h0M656 365h0M663 373h0M655 357h0M660 370h0M662 362h0M660 362h0M662 361h0M661 376h0M663 377h0M662 369h0M665 380h0M664 370h0M666 383h0M666 382h0M672 384h0M663 377h0M667 378h0M675 389h0M669 382h0M673 381h0M673 393h0M679 387h0M681 385h0M680 379h0M675 398h0M677 385h0M679 398h0M685 400h0M680 409h0M681 390h0M679 389h0M688 390h0M679 397h0M679 397h0M687 395h0M683 396h0M678 399h0M684 399h0M687 401h0M690 411h0M689 414h0M693 417h0M695 405h0M697 421h0M692 418h0M695 428h0M688 428h0M698 420h0M696 411h0M702 418h0M695 427h0M699 433h0M699 435h0M701 432h0M702 436h0M702 429h0M703 437h0M707 433h0M704 436h0M712 437h0M712 442h0M709 445h0M706 439h0M711 441h0M708 436h0M707 445h0M712 455h0M705 444h0M714 444h0M710 455h0M714 451h0M712 458h0M712 448h0M720 452h0M718 468h0M711 461h0M714 450h0M721 466h0M723 461h0M721 461h0M721 465h0M720 467h0M720 472h0M466 181h0M467 183h0M467 180h0M467 182h0M473 199h0M752 508h0M745 497h0M745 504h0M751 504h0M750 503h0M748 508h0M753 498h0M755 513h0M752 505h0M757 508h0M756 522h0M755 509h0M757 509h0M757 510h0M758 514h0M762 522h0M766 521h0M761 522h0M770 518h0M718 530h0M719 530h0M726 519h0M725 533h0M724 532h0M730 524h0M721 535h0M727 543h0M732 540h0M728 535h0M724 541h0M735 533h0M726 541h0M731 543h0M735 550h0M725 546h0M731 540h0M737 554h0M729 541h0M735 554h0M739 559h0M741 548h0M735 544h0M742 546h0M737 560h0M740 556h0M743 560h0M742 562h0M746 561h0M743 563h0M743 562h0M747 561h0M743 560h0M748 567h0M745 564h0M766 591h0M766 590h0M765 586h0M763 589h0M765 579h0M763 590h0M762 597h0M763 597h0M766 589h0M771 602h0M769 596h0M774 601h0M774 588h0M773 604h0M777 597h0M773 602h0M773 599h0M788 602h0M778 598h0M773 610h0M776 605h0M779 622h0M783 614h0M781 615h0M781 615h0M780 617h0M780 606h0M784 625h0M784 617h0M781 612h0M776 624h0M780 619h0M777 617h0M783 611h0M780 620h0M780 610h0M773 611h0M785 622h0M778 625h0M784 623h0M785 624h0M791 629h0M783 636h0M790 622h0M787 623h0M785 634h0M797 629h0M786 635h0M794 622h0M798 633h0M797 632h0M796 644h0M792 638h0M801 646h0M800 635h0M796 637h0M800 647h0M799 637h0M805 628h0M804 650h0M806 654h0M807 644h0M805 651h0M803 646h0M802 639h0M810 654h0M809 651h0M803 659h0M816 659h0M807 659h0M806 656h0M812 662h0M812 656h0M803 663h0M805 659h0M810 674h0M817 658h0M815 664h0M818 666h0M816 668h0M818 674h0M815 662h0M816 660h0M819 673h0M819 671h0M817 679h0M826 670h0M824 676h0M825 679h0M824 683h0M825 687h0M825 699h0M831 697h0M839 690h0M828 687h0M838 701h0M833 694h0M835 705h0M832 704h0M829 705h0M838 713h0M839 700h0M842 698h0M841 714h0M839 719h0M839 707h0M847 705h0M836 713h0M845 700h0M840 714h0M844 708h0M844 711h0M848 723h0M845 718h0M848 721h0M852 713h0M846 726h0M850 721h0M852 722h0M854 725h0M857 727h0M856 730h0M850 726h0M855 742h0M849 735h0M857 728h0M859 732h0M857 734h0M856 741h0M861 741h0M861 733h0M860 736h0M862 754h0M860 739h0M865 746h0M865 744h0M862 745h0M863 744h0M863 744h0M863 738h0M864 747h0M873 760h0M863 760h0M862 745h0M862 744h0M868 766h0M863 746h0M870 758h0M871 761h0M874 761h0M875 762h0M876 760h0M882 764h0M877 772h0M873 768h0M884 767h0M880 774h0M877 767h0M876 771h0M879 766h0M880 773h0M876 773h0M879 773h0M880 773h0M879 777h0M878 777h0M876 774h0M879 792h0M891 778h0M884 784h0M876 781h0M881 786h0M887 771h0M887 792h0M887 776h0M889 785h0M890 788h0M887 783h0M893 784h0M884 785h0M893 786h0M889 796h0M893 801h0M898 800h0M896 789h0M918 793h0M924 793h0M924 796h0M922 798h0M922 793h0M927 792h0M925 800h0M927 795h0M924 802h0M932 791h0M934 793h0M924 797h0M930 790h0M933 795h0M937 800h0M942 800h0M942 794h0M948 798h0M947 804h0M944 799h0M948 800h0M953 815h0M952 813h0M949 798h0M951 804h0M948 801h0M953 809h0M960 809h0M961 805h0M962 813h0M961 813h0M968 814h0M966 813h0M965 808h0M962 811h0M965 819h0M973 815h0M968 823h0M969 828h0M972 826h0M969 830h0M973 831h0M974 841h0M976 828h0M974 857h0M975 844h0M970 849h0M970 836h0M979 858h0M973 849h0M970 850h0M970 844h0M976 854h0M969 847h0M973 850h0M971 860h0M972 855h0M969 856h0M980 858h0M982 858h0M976 859h0M978 855h0M983 869h0M977 873h0M978 851h0M985 859h0M980 881h0M981 864h0M993 871h0M983 869h0M986 875h0M991 871h0M986 873h0M995 884h0M991 875h0M998 878h0M1004 883h0M1003 889h0M1000 875h0M1004 882h0M1008 886h0M1003 880h0M1001 891h0M1002 879h0M1013 897h0M1010 907h0M1007 892h0M1005 888h0M1007 897h0M1009 892h0M1010 903h0M1007 901h0M1012 904h0M1015 901h0M1011 904h0M1009 897h0M1007 903h0M1009 905h0M1019 902h0M1017 900h0M1010 905h0M1005 912h0M1010 910h0M1010 903h0M1015 910h0M1005 898h0M1015 911h0M1019 912h0M1010 906h0M1011 911h0M1011 914h0M1016 914h0M1012 917h0M1042 906h0M1046 914h0M1043 910h0M1040 917h0M1050 915h0M1043 921h0M1044 919h0M1041 922h0M1052 919h0M1046 920h0M1039 914h0M1041 919h0M1047 920h0M1047 924h0M1046 923h0M1041 930h0M1046 929h0M1051 931h0M1049 929h0M1043 910h0M1049 927h0M1050 929h0M1055 923h0M1052 933h0M1059 917h0M1054 931h0M1050 935h0M1057 938h0M1056 930h0M1056 942h0M1067 946h0M1072 963h0M1062 940h0M1073 962h0M1063 954h0M1073 961h0M1074 967h0M1074 975h0M1079 963h0M1079 967h0M1081 968h0M1085 980h0M1081 978h0M1084 972h0M1084 971h0M1087 984h0M1082 980h0M1083 979h0M1087 981h0M1095 970h0M1097 982h0M1094 980h0M1096 985h0M1096 983h0M1090 977h0M1094 981h0M1099 992h0M1096 996h0M1097 994h0M1098 996h0M1099 993h0M1106 982h0M1106 984h0M1112 989h0M1109 1001h0M1107 984h0M1106 995h0M1173 1029h0M1176 1028h0M1173 1017h0M1183 1036h0M1179 1037h0M1183 1025h0M1175 1042h0M1185 1037h0M1188 1041h0M1176 1035h0M1189 1050h0M1185 1042h0M1195 1054h0M1200 1052h0M1189 1033h0M1190 1050h0M1197 1035h0M1197 1044h0M1186 1051h0M1198 1047h0M1201 1048h0M1209 1069h0M1196 1060h0M1199 1049h0M1202 1057h0M1208 1050h0M1206 1061h0M1205 1062h0M1208 1048h0M1203 1054h0M1206 1055h0M1207 1058h0M1209 1052h0M1216 1070h0M1214 1070h0M1212 1062h0M1219 1076h0M1214 1073h0M1217 1065h0M1214 1061h0M1211 1057h0M1215 1065h0M1222 1060h0M1218 1072h0M1231 1062h0M1227 1067h0M1215 1072h0M1217 1072h0M1215 1072h0M1220 1066h0M1222 1071h0M1220 1072h0M1221 1073h0M1228 1070h0M1230 1078h0M1235 1074h0M1230 1067h0M1229 1083h0M1230 1083h0M1232 1083h0M1242 1084h0M1241 1076h0M1240 1076h0M1241 1069h0M1240 1074h0M1244 1074h0M1249 1072h0M1236 1082h0M1245 1084h0M1243 1086h0M1244 1077h0M1247 1099h0M1250 1086h0M1249 1087h0M1246 1090h0M1250 1083h0M1246 1082h0M1250 1083h0M1250 1078h0M1248 1080h0M1258 1087h0M1260 1088h0M1255 1088h0M1247 1085h0M1264 1093h0M1264 1082h0M1264 1089h0M1270 1097h0M1279 1103h0M1271 1100h0M1274 1091h0M1275 1100h0M1275 1104h0M1280 1100h0M1282 1093h0M1276 1098h0M1278 1093h0M1278 1098h0M1279 1099h0M1280 1095h0M1284 1088h0M1280 1098h0M1283 1105h0M1284 1096h0M1284 1091h0M1285 1094h0M1288 1105h0M1279 1095h0M1287 1096h0M1286 1095h0M1293 1108h0M1288 1108h0M1292 1102h0M1293 1097h0M1284 1098h0M1302 1104h0M1292 1101h0M1296 1100h0M1292 1108h0M1295 1113h0M1295 1108h0M1298 1110h0M1297 1115h0M1298 1117h0M1296 1109h0M1289 1107h0M1295 1123h0M1303 1105h0M1298 1108h0M1307 1120h0M1298 1122h0M1310 1121h0M1309 1117h0M1311 1113h0M1315 1119h0M1313 1115h0" stroke="#ff7f0e" stroke-opacity="0.42" stroke-width="7.4" stroke-linecap="round" fill="none"/><path d="M373 87h0M374 91h0M378 94h0M376 95h0M374 88h0M377 94h0M378 87h0M378 90h0M376 90h0M380 92h0M381 93h0M377 89h0M382 94h0M382 97h0M380 92h0M386 97h0M386 95h0M388 101h0M388 107h0M385 100h0M387 103h0M390 101h0M390 109h0M392 107h0M390 106h0M394 109h0M393 114h0M396 114h0M399 108h0M402 122h0M402 129h0M413 122h0M480 146h0M472 142h0M481 148h0M481 137h0M476 148h0M482 147h0M481 138h0M482 149h0M484 145h0M489 152h0M489 153h0M489 148h0M488 144h0M495 151h0M488 155h0M494 161h0M497 147h0M494 154h0M495 160h0M499 150h0M501 164h0M501 160h0M499 156h0M501 158h0M500 166h0M504 158h0M501 165h0M496 168h0M506 165h0M502 159h0M504 178h0M498 159h0M513 172h0M505 166h0M505 172h0M515 164h0M508 167h0M511 176h0M513 177h0M518 176h0M517 165h0M513 177h0M516 180h0M516 180h0M514 182h0M519 183h0M515 185h0M520 183h0M521 186h0M524 188h0M525 194h0M525 187h0M524 186h0M521 189h0M524 187h0M527 185h0M515 190h0M525 193h0M518 193h0M523 199h0M522 200h0M525 196h0M524 191h0M525 203h0M527 203h0M525 192h0M530 198h0M528 198h0M528 204h0M525 205h0M533 209h0M531 208h0M533 202h0M530 210h0M533 205h0M539 209h0M546 214h0M538 207h0M546 215h0M546 221h0M549 220h0M547 223h0M546 228h0M551 222h0M546 215h0M552 216h0M552 224h0M556 221h0M561 224h0M560 237h0M554 235h0M556 237h0M557 224h0M559 233h0M559 224h0M560 222h0M558 235h0M568 228h0M560 238h0M562 237h0M565 245h0M564 248h0M560 250h0M562 251h0M567 243h0M561 237h0M565 245h0M567 246h0M569 253h0M567 251h0M568 244h0M571 255h0M569 253h0M566 250h0M572 251h0M572 265h0M574 275h0M572 265h0M577 254h0M577 263h0M570 260h0M578 271h0M577 268h0M580 271h0M576 267h0M579 268h0M583 278h0M581 274h0M589 275h0M577 271h0M587 273h0M583 276h0M587 273h0M591 285h0M586 274h0M592 280h0M593 279h0M586 281h0M592 292h0M594 285h0M590 294h0M596 287h0M594 291h0M592 277h0M597 298h0M594 286h0M594 290h0M591 303h0M600 291h0M600 290h0M597 294h0M596 300h0M602 300h0M600 295h0M599 296h0M598 304h0M600 306h0M605 297h0M601 312h0M608 313h0M607 312h0M609 312h0M607 311h0M609 322h0M612 313h0M606 308h0M610 305h0M617 318h0M617 319h0M619 327h0M619 324h0M618 323h0M626 324h0M619 330h0M626 333h0M623 327h0M624 338h0M623 335h0M625 338h0M638 335h0M633 338h0M633 341h0M631 350h0M639 342h0M634 352h0M635 340h0M640 348h0M642 352h0M644 339h0M642 348h0M644 359h0M643 346h0M641 343h0M649 353h0M650 352h0M645 359h0M654 352h0M646 356h0M651 358h0M656 359h0M657 362h0M654 365h0M662 356h0M655 357h0M659 357h0M664 374h0M661 360h0M662 368h0M662 362h0M661 363h0M663 364h0M667 365h0M663 368h0M666 377h0M671 379h0M666 374h0M666 376h0M672 381h0M669 380h0M673 376h0M676 378h0M671 387h0M673 391h0M677 389h0M680 385h0M674 380h0M674 385h0M673 384h0M674 397h0M675 394h0M676 393h0M673 395h0M681 404h0M688 400h0M679 398h0M677 392h0M676 395h0M683 398h0M680 393h0M682 391h0M681 404h0M683 396h0M678 413h0M688 408h0M688 408h0M690 400h0M686 394h0M689 402h0M688 413h0M692 420h0M698 427h0M692 420h0M695 420h0M690 423h0M697 426h0M699 421h0M699 418h0M699 427h0M699 421h0M701 428h0M707 438h0M702 431h0M702 432h0M697 435h0M698 431h0M709 431h0M700 445h0M712 442h0M712 439h0M706 438h0M704 440h0M706 446h0M713 449h0M714 445h0M711 449h0M711 454h0M714 447h0M712 450h0M708 454h0M716 448h0M715 458h0M716 460h0M715 462h0M712 464h0M720 466h0M720 454h0M719 458h0M717 463h0M720 465h0M721 462h0M719 466h0M720 460h0M717 472h0M725 467h0M723 463h0M467 183h0M469 177h0M470 184h0M470 187h0M471 190h0M471 196h0M477 198h0M474 200h0M744 511h0M747 506h0M751 497h0M752 501h0M752 515h0M754 500h0M749 511h0M752 495h0M758 506h0M755 514h0M761 513h0M767 522h0M760 521h0M767 520h0M758 521h0M766 526h0M770 530h0M763 531h0M719 519h0M724 536h0M727 527h0M726 531h0M728 528h0M726 531h0M724 536h0M730 529h0M730 531h0M723 536h0M730 527h0M731 533h0M726 538h0M729 538h0M727 543h0M735 539h0M731 547h0M731 534h0M733 553h0M733 553h0M733 553h0M734 546h0M736 557h0M738 547h0M735 553h0M744 564h0M742 557h0M745 557h0M745 563h0M747 561h0M746 568h0M748 561h0M747 572h0M765 595h0M767 593h0M765 591h0M770 605h0M771 588h0M768 595h0M770 584h0M772 600h0M775 601h0M773 602h0M772 597h0M773 587h0M782 587h0M774 598h0M775 602h0M775 603h0M772 610h0M771 598h0M775 597h0M775 598h0M782 615h0M779 607h0M784 624h0M777 611h0M775 597h0M777 615h0M790 612h0M780 622h0M774 612h0M786 610h0M781 620h0M783 624h0M779 624h0M783 631h0M791 622h0M794 626h0M787 625h0M788 627h0M788 631h0M791 626h0M787 640h0M795 615h0M787 635h0M797 635h0M781 630h0M797 625h0M795 640h0M792 623h0M801 648h0M803 647h0M794 643h0M802 648h0M802 648h0M800 642h0M799 652h0M798 646h0M807 646h0M805 657h0M800 655h0M808 661h0M802 659h0M804 651h0M809 666h0M806 659h0M812 660h0M814 659h0M809 665h0M811 663h0M814 668h0M818 662h0M816 670h0M820 664h0M819 673h0M818 670h0M826 666h0M818 673h0M822 682h0M817 680h0M827 675h0M828 681h0M822 674h0M825 685h0M827 684h0M828 688h0M830 683h0M824 680h0M829 684h0M825 695h0M832 681h0M840 705h0M828 705h0M837 699h0M835 701h0M836 699h0M832 702h0M834 708h0M839 704h0M834 703h0M837 713h0M840 706h0M840 715h0M840 708h0M845 715h0M840 709h0M844 706h0M842 719h0M849 723h0M846 714h0M840 722h0M844 725h0M844 711h0M846 723h0M843 715h0M850 731h0M857 723h0M845 722h0M854 726h0M852 727h0M848 730h0M852 734h0M850 724h0M855 744h0M857 741h0M860 735h0M867 745h0M860 741h0M865 742h0M868 746h0M863 752h0M865 758h0M869 743h0M865 739h0M863 744h0M876 754h0M869 760h0M870 760h0M879 760h0M873 764h0M875 752h0M874 768h0M879 754h0M882 781h0M881 769h0M885 778h0M877 776h0M883 768h0M884 763h0M878 778h0M881 778h0M881 775h0M884 768h0M883 764h0M880 771h0M880 781h0M886 777h0M885 795h0M892 780h0M887 785h0M887 783h0M888 787h0M889 789h0M889 787h0M895 796h0M894 793h0M889 786h0M889 798h0M921 798h0M920 797h0M928 792h0M925 791h0M929 796h0M931 782h0M928 794h0M929 797h0M928 783h0M938 806h0M935 796h0M935 799h0M943 794h0M938 798h0M940 802h0M949 801h0M948 799h0M950 799h0M951 797h0M955 812h0M961 806h0M959 813h0M972 815h0M969 821h0M969 808h0M965 827h0M971 825h0M968 814h0M973 827h0M968 828h0M975 834h0M978 827h0M970 853h0M972 838h0M975 847h0M973 846h0M971 854h0M980 862h0M976 851h0M976 855h0M976 859h0M986 859h0M975 861h0M984 868h0M981 860h0M981 863h0M987 854h0M984 867h0M979 866h0M982 860h0M990 868h0M987 867h0M987 866h0M994 879h0M995 885h0M993 887h0M995 883h0M998 877h0M998 869h0M996 874h0M996 883h0M997 880h0M994 881h0M1004 876h0M999 880h0M1003 890h0M1006 897h0M1007 884h0M1008 891h0M1010 888h0M1008 889h0M1006 896h0M1002 891h0M1009 891h0M1012 901h0M1013 895h0M1005 907h0M1008 890h0M1014 905h0M1014 905h0M1014 899h0M1011 912h0M1010 917h0M1014 916h0M1019 910h0M1023 909h0M1008 912h0M1042 906h0M1045 920h0M1045 921h0M1044 924h0M1050 922h0M1050 916h0M1049 919h0M1049 940h0M1052 916h0M1054 934h0M1053 933h0M1058 929h0M1055 943h0M1061 939h0M1059 945h0M1058 933h0M1059 940h0M1062 945h0M1063 949h0M1064 947h0M1064 947h0M1067 951h0M1064 950h0M1069 951h0M1066 946h0M1061 937h0M1064 948h0M1066 959h0M1062 951h0M1063 956h0M1069 959h0M1071 958h0M1067 955h0M1070 967h0M1064 949h0M1064 952h0M1073 951h0M1063 962h0M1074 956h0M1078 946h0M1079 959h0M1075 953h0M1076 965h0M1075 980h0M1074 976h0M1080 966h0M1079 959h0M1084 964h0M1073 969h0M1083 969h0M1081 977h0M1081 972h0M1086 974h0M1078 976h0M1084 982h0M1080 974h0M1084 980h0M1091 966h0M1082 968h0M1084 979h0M1088 992h0M1089 974h0M1084 987h0M1082 984h0M1087 988h0M1092 995h0M1095 979h0M1099 999h0M1098 975h0M1088 984h0M1100 986h0M1094 989h0M1097 997h0M1094 986h0M1095 988h0M1101 985h0M1104 996h0M1105 988h0M1102 991h0M1109 991h0M1110 992h0M1179 1039h0M1176 1035h0M1181 1026h0M1170 1026h0M1186 1032h0M1184 1039h0M1174 1042h0M1182 1047h0M1188 1033h0M1191 1039h0M1187 1053h0M1192 1047h0M1192 1048h0M1190 1041h0M1195 1047h0M1186 1040h0M1197 1048h0M1196 1044h0M1194 1040h0M1196 1052h0M1203 1048h0M1198 1051h0M1206 1039h0M1197 1060h0M1201 1052h0M1208 1054h0M1200 1039h0M1205 1049h0M1201 1052h0M1205 1075h0M1215 1050h0M1201 1052h0M1212 1072h0M1207 1063h0M1219 1066h0M1215 1075h0M1210 1066h0M1215 1067h0M1219 1071h0M1220 1061h0M1212 1064h0M1208 1068h0M1215 1075h0M1227 1085h0M1220 1061h0M1222 1079h0M1223 1079h0M1223 1064h0M1221 1077h0M1225 1067h0M1234 1081h0M1234 1066h0M1228 1085h0M1241 1067h0M1233 1075h0M1228 1072h0M1233 1070h0M1233 1072h0M1235 1082h0M1238 1070h0M1244 1078h0M1235 1073h0M1244 1076h0M1237 1087h0M1245 1080h0M1244 1083h0M1250 1078h0M1257 1086h0M1248 1086h0M1252 1085h0M1258 1093h0M1251 1082h0M1257 1078h0M1257 1084h0M1254 1082h0M1264 1092h0M1265 1093h0M1254 1092h0M1267 1077h0M1257 1088h0M1257 1096h0M1262 1094h0M1260 1105h0M1266 1102h0M1270 1102h0M1275 1087h0M1277 1102h0M1279 1102h0M1278 1089h0M1273 1108h0M1285 1107h0M1282 1099h0M1284 1096h0M1283 1095h0M1281 1106h0M1274 1095h0M1285 1102h0M1282 1093h0M1285 1112h0M1280 1097h0M1292 1107h0M1289 1100h0M1294 1095h0M1292 1108h0M1293 1106h0M1285 1103h0M1294 1113h0M1298 1109h0M1289 1103h0M1294 1105h0M1292 1118h0M1298 1124h0M1302 1106h0M1301 1106h0M1312 1106h0M1303 1111h0M1307 1113h0M1310 1107h0M1309 1109h0M1304 1124h0M1314 1120h0M1308 1133h0M1310 1124h0" stroke="#ff7f0e" stroke-opacity="0.42" stroke-width="7.4" stroke-linecap="round" fill="none"/><path d="M369 91h0M374 88h0M371 87h0M377 92h0M376 94h0M380 91h0M377 90h0M383 90h0M385 97h0M383 93h0M382 94h0M387 92h0M386 99h0M389 98h0M387 107h0M387 101h0M392 103h0M394 104h0M388 111h0M391 106h0M390 108h0M392 107h0M391 102h0M394 107h0M391 115h0M396 126h0M410 127h0M475 137h0M478 153h0M483 155h0M483 144h0M490 147h0M488 157h0M491 144h0M490 145h0M486 155h0M488 149h0M491 147h0M493 152h0M495 160h0M498 149h0M495 163h0M493 153h0M500 157h0M503 157h0M500 157h0M505 161h0M507 163h0M509 173h0M512 168h0M508 163h0M514 165h0M512 177h0M508 188h0M511 172h0M516 168h0M517 171h0M511 182h0M513 178h0M515 182h0M518 188h0M520 186h0M521 189h0M523 184h0M523 187h0M527 184h0M521 188h0M523 183h0M522 190h0M523 192h0M531 194h0M526 197h0M521 189h0M518 199h0M521 198h0M521 187h0M526 183h0M522 192h0M527 198h0M521 195h0M526 205h0M528 210h0M529 200h0M524 202h0M534 186h0M531 201h0M524 206h0M533 205h0M529 211h0M532 211h0M531 206h0M531 211h0M534 215h0M535 207h0M535 204h0M540 223h0M537 214h0M547 220h0M538 223h0M544 222h0M542 222h0M541 210h0M538 225h0M544 222h0M548 213h0M545 215h0M543 227h0M547 231h0M543 223h0M544 217h0M547 227h0M549 218h0M551 221h0M562 222h0M561 231h0M560 230h0M559 236h0M562 234h0M559 237h0M561 244h0M561 243h0M562 242h0M563 241h0M562 246h0M566 239h0M574 247h0M569 250h0M566 250h0M572 243h0M576 253h0M570 258h0M570 249h0M570 252h0M571 253h0M572 262h0M568 260h0M572 255h0M572 263h0M577 256h0M576 269h0M577 264h0M580 266h0M576 272h0M582 266h0M583 266h0M579 268h0M580 277h0M577 277h0M584 284h0M588 285h0M584 281h0M591 282h0M590 279h0M585 280h0M585 282h0M592 281h0M588 275h0M593 285h0M590 286h0M596 283h0M595 297h0M593 297h0M601 294h0M595 297h0M600 297h0M601 293h0M599 295h0M589 290h0M601 298h0M599 300h0M602 301h0M600 297h0M602 304h0M604 308h0M603 302h0M604 318h0M605 316h0M601 305h0M605 318h0M604 313h0M605 311h0M606 316h0M609 315h0M611 323h0M605 311h0M609 320h0M609 315h0M610 317h0M614 322h0M606 327h0M612 308h0M608 320h0M608 316h0M608 323h0M618 322h0M615 329h0M622 325h0M620 315h0M617 329h0M616 328h0M621 329h0M623 327h0M621 338h0M624 322h0M624 335h0M628 336h0M627 336h0M625 343h0M633 329h0M619 346h0M633 328h0M630 340h0M635 337h0M639 342h0M634 338h0M640 340h0M640 350h0M640 350h0M636 345h0M641 341h0M647 340h0M642 344h0M642 348h0M647 352h0M644 346h0M647 358h0M643 358h0M641 364h0M649 358h0M649 354h0M643 356h0M650 353h0M652 353h0M654 365h0M656 358h0M657 363h0M654 364h0M653 361h0M658 363h0M657 359h0M657 370h0M663 367h0M666 373h0M665 366h0M663 367h0M665 371h0M664 378h0M671 371h0M664 386h0M673 381h0M677 389h0M670 384h0M673 388h0M679 398h0M677 381h0M684 394h0M680 393h0M679 387h0M672 387h0M687 395h0M677 395h0M681 398h0M683 392h0M677 399h0M678 395h0M679 401h0M678 401h0M688 388h0M680 403h0M685 399h0M680 393h0M686 404h0M689 405h0M687 406h0M688 412h0M687 407h0M690 411h0M691 407h0M688 411h0M698 410h0M693 415h0M689 416h0M696 414h0M697 409h0M698 412h0M689 422h0M695 422h0M703 422h0M700 415h0M698 424h0M704 426h0M701 429h0M704 427h0M706 440h0M700 433h0M708 423h0M703 435h0M705 436h0M707 435h0M711 439h0M707 434h0M707 435h0M712 445h0M710 440h0M709 439h0M710 439h0M709 451h0M712 449h0M710 449h0M711 440h0M710 449h0M711 443h0M713 455h0M712 453h0M713 453h0M709 444h0M713 449h0M711 453h0M717 465h0M713 456h0M717 441h0M715 462h0M715 459h0M721 466h0M719 476h0M721 465h0M719 466h0M466 189h0M474 192h0M474 200h0M478 203h0M750 505h0M745 506h0M748 499h0M745 503h0M746 496h0M746 497h0M752 504h0M750 507h0M753 505h0M757 513h0M757 519h0M756 517h0M763 517h0M764 513h0M764 515h0M763 521h0M761 523h0M764 527h0M766 522h0M770 527h0M768 525h0M724 530h0M725 526h0M730 534h0M723 537h0M722 532h0M723 540h0M728 534h0M726 545h0M734 547h0M730 537h0M729 540h0M734 539h0M738 542h0M735 547h0M735 543h0M736 549h0M736 547h0M737 550h0M734 546h0M736 539h0M742 546h0M737 550h0M740 554h0M741 543h0M736 558h0M741 556h0M744 552h0M737 553h0M739 556h0M744 561h0M739 565h0M752 568h0M766 588h0M766 600h0M774 581h0M764 596h0M770 594h0M762 585h0M768 597h0M767 597h0M775 590h0M768 598h0M771 601h0M776 598h0M765 595h0M775 590h0M780 599h0M780 613h0M781 606h0M778 594h0M775 601h0M774 612h0M781 620h0M778 618h0M785 621h0M783 616h0M778 622h0M779 616h0M789 625h0M788 628h0M790 629h0M789 630h0M783 621h0M790 626h0M788 627h0M795 628h0M789 626h0M800 630h0M802 636h0M797 635h0M794 644h0M796 650h0M801 639h0M797 647h0M791 640h0M795 653h0M798 644h0M803 646h0M809 647h0M806 646h0M804 660h0M803 653h0M806 660h0M806 657h0M808 655h0M805 652h0M805 653h0M804 653h0M809 657h0M808 661h0M812 662h0M822 666h0M811 665h0M812 661h0M818 663h0M814 662h0M813 666h0M818 682h0M822 684h0M820 681h0M821 679h0M821 674h0M828 670h0M821 674h0M821 675h0M832 675h0M826 692h0M822 692h0M834 692h0M823 692h0M829 701h0M829 690h0M842 707h0M836 687h0M833 690h0M838 692h0M838 706h0M839 705h0M836 706h0M840 705h0M840 705h0M840 704h0M841 723h0M844 713h0M836 713h0M843 718h0M836 725h0M844 702h0M846 723h0M847 721h0M847 719h0M846 723h0M850 714h0M833 720h0M845 723h0M856 728h0M851 727h0M850 734h0M857 738h0M856 737h0M860 735h0M857 737h0M856 745h0M857 740h0M860 730h0M858 742h0M862 741h0M864 747h0M857 747h0M861 754h0M868 737h0M859 746h0M866 747h0M865 747h0M869 745h0M861 745h0M871 755h0M869 755h0M868 755h0M872 752h0M875 755h0M872 755h0M880 758h0M875 765h0M877 771h0M874 762h0M873 774h0M874 760h0M880 767h0M875 768h0M882 769h0M879 771h0M882 772h0M884 770h0M882 782h0M879 779h0M886 779h0M875 782h0M879 776h0M887 772h0M879 779h0M883 789h0M889 788h0M882 782h0M891 795h0M885 792h0M888 790h0M889 782h0M888 785h0M890 789h0M886 797h0M891 804h0M891 800h0M894 790h0M921 788h0M916 791h0M926 790h0M927 798h0M923 800h0M922 793h0M926 798h0M928 799h0M931 790h0M928 795h0M939 796h0M932 799h0M941 802h0M947 807h0M952 806h0M949 804h0M950 806h0M963 813h0M967 807h0M965 812h0M965 824h0M962 815h0M969 818h0M970 818h0M969 821h0M968 816h0M971 833h0M974 826h0M966 819h0M968 812h0M971 824h0M971 826h0M968 823h0M969 833h0M974 836h0M975 831h0M972 841h0M972 848h0M973 852h0M974 853h0M972 858h0M975 861h0M976 856h0M984 859h0M973 858h0M980 855h0M975 859h0M978 861h0M979 858h0M981 856h0M982 854h0M978 875h0M983 875h0M978 875h0M986 864h0M988 873h0M984 863h0M994 877h0M990 876h0M993 863h0M990 870h0M994 865h0M995 864h0M996 877h0M1004 871h0M999 889h0M1009 884h0M997 882h0M999 884h0M1003 879h0M1005 885h0M1002 892h0M1003 897h0M1003 886h0M1016 887h0M1008 873h0M1010 887h0M1005 892h0M1000 888h0M1009 903h0M1002 880h0M1011 886h0M1010 896h0M1008 899h0M1007 899h0M1016 900h0M1009 912h0M1012 909h0M1012 904h0M1012 906h0M1008 905h0M1015 909h0M1042 921h0M1040 903h0M1042 915h0M1045 909h0M1039 911h0M1039 917h0M1043 919h0M1053 928h0M1047 922h0M1050 918h0M1051 927h0M1049 945h0M1053 930h0M1059 933h0M1056 924h0M1062 936h0M1055 951h0M1062 945h0M1057 941h0M1055 936h0M1061 949h0M1058 931h0M1060 945h0M1069 954h0M1066 949h0M1059 954h0M1062 947h0M1061 950h0M1065 948h0M1068 956h0M1069 969h0M1066 966h0M1071 961h0M1073 954h0M1072 953h0M1071 965h0M1071 954h0M1069 971h0M1071 977h0M1074 962h0M1068 956h0M1070 971h0M1073 959h0M1078 967h0M1068 976h0M1076 967h0M1081 975h0M1075 972h0M1074 969h0M1078 963h0M1085 975h0M1081 967h0M1084 972h0M1089 971h0M1082 964h0M1082 973h0M1085 973h0M1081 976h0M1086 984h0M1081 980h0M1083 964h0M1086 983h0M1087 975h0M1088 981h0M1093 985h0M1097 997h0M1096 978h0M1085 981h0M1094 986h0M1090 988h0M1094 986h0M1095 985h0M1102 987h0M1101 992h0M1094 981h0M1099 980h0M1102 986h0M1104 983h0M1102 1000h0M1101 986h0M1104 985h0M1108 987h0M1105 998h0M1108 1001h0M1110 1002h0M1110 993h0M1178 1029h0M1179 1041h0M1171 1028h0M1175 1015h0M1183 1022h0M1177 1040h0M1176 1044h0M1175 1049h0M1181 1025h0M1180 1040h0M1178 1036h0M1184 1043h0M1185 1041h0M1189 1040h0M1179 1037h0M1185 1045h0M1183 1043h0M1187 1044h0M1187 1040h0M1187 1027h0M1192 1050h0M1190 1043h0M1197 1048h0M1195 1043h0M1194 1045h0M1196 1050h0M1197 1049h0M1195 1045h0M1202 1044h0M1200 1052h0M1191 1064h0M1199 1049h0M1201 1063h0M1206 1052h0M1202 1067h0M1200 1052h0M1211 1043h0M1204 1040h0M1203 1067h0M1200 1062h0M1206 1059h0M1215 1058h0M1210 1053h0M1207 1071h0M1202 1074h0M1212 1052h0M1213 1049h0M1213 1066h0M1219 1078h0M1210 1065h0M1220 1081h0M1222 1084h0M1228 1068h0M1224 1065h0M1219 1061h0M1224 1079h0M1237 1072h0M1232 1063h0M1228 1082h0M1236 1073h0M1236 1082h0M1235 1079h0M1238 1075h0M1235 1067h0M1232 1067h0M1240 1077h0M1237 1078h0M1242 1081h0M1240 1092h0M1241 1085h0M1253 1073h0M1253 1078h0M1258 1090h0M1254 1083h0M1250 1086h0M1254 1082h0M1258 1098h0M1254 1076h0M1263 1079h0M1257 1100h0M1256 1088h0M1259 1102h0M1261 1102h0M1255 1089h0M1273 1092h0M1264 1084h0M1264 1085h0M1268 1094h0M1268 1093h0M1264 1094h0M1265 1095h0M1272 1104h0M1270 1091h0M1268 1090h0M1277 1089h0M1285 1098h0M1281 1094h0M1274 1099h0M1282 1087h0M1278 1092h0M1275 1093h0M1279 1091h0M1283 1103h0M1282 1094h0M1278 1094h0M1288 1098h0M1284 1102h0M1283 1103h0M1290 1097h0M1300 1108h0M1297 1094h0M1298 1101h0M1287 1103h0M1290 1107h0M1297 1110h0M1296 1113h0M1293 1106h0M1292 1111h0M1301 1118h0M1295 1099h0M1297 1115h0M1300 1105h0M1308 1106h0M1305 1116h0M1315 1128h0M1306 1114h0M1318 1123h0M1308 1125h0" stroke="#ff7f0e" stroke-opacity="0.42" stroke-width="7.4" stroke-linecap="round" fill="none"/><path d="M383 128h0M378 121h0M377 114h0M387 131h0M378 132h0M384 126h0M388 130h0M385 119h0M390 122h0M393 136h0M398 140h0M398 131h0M400 127h0M398 145h0M398 148h0M401 127h0M402 144h0M401 143h0M412 134h0M405 139h0M408 152h0M405 141h0M414 145h0M413 139h0M416 139h0M421 144h0M417 148h0M412 147h0M418 148h0M417 139h0M419 145h0M420 141h0M418 151h0M422 139h0M421 154h0M420 145h0M427 142h0M423 151h0M429 148h0M424 151h0M427 155h0M435 155h0M437 151h0M428 153h0M436 147h0M429 150h0M436 153h0M434 153h0M436 173h0M432 154h0M442 159h0M440 146h0M448 161h0M443 158h0M450 164h0M444 169h0M440 173h0M446 150h0M447 160h0M453 164h0M449 167h0M458 163h0M453 172h0M459 180h0M456 167h0M455 169h0M460 166h0M454 164h0M454 159h0M456 157h0M458 166h0M452 161h0M467 168h0M454 171h0M455 173h0M461 172h0M463 176h0M467 168h0M462 177h0M466 169h0M470 179h0M467 175h0M461 167h0M472 183h0M470 171h0M467 179h0M470 175h0M478 172h0M473 172h0M478 171h0M480 181h0M485 183h0M478 184h0M489 171h0M486 182h0M482 172h0M487 176h0M486 177h0M486 178h0M494 187h0M493 185h0M495 188h0M498 196h0M494 183h0M498 184h0M494 193h0M499 191h0M498 180h0M502 200h0M504 194h0M505 190h0M506 189h0M498 185h0M504 186h0M511 199h0M508 197h0M504 195h0M516 205h0M513 194h0M519 193h0M513 188h0M398 112h0M399 117h0M408 123h0M409 124h0M412 119h0M413 123h0M518 251h0M522 256h0M522 255h0M523 257h0M523 263h0M527 259h0M526 260h0M527 262h0M524 267h0M527 267h0M528 264h0M526 263h0M527 268h0M534 278h0M533 273h0M533 275h0M533 270h0M536 274h0M535 277h0M532 274h0M536 273h0M536 289h0M537 282h0M534 281h0M541 287h0M541 276h0M537 283h0M539 276h0M541 280h0M542 290h0M538 292h0M537 287h0M542 287h0M549 286h0M546 290h0M542 290h0M542 293h0M544 292h0M541 287h0M545 295h0M546 290h0M545 293h0M547 296h0M546 297h0M552 289h0M549 294h0M546 296h0M550 301h0M541 303h0M546 306h0M549 306h0M555 305h0M555 312h0M554 308h0M556 305h0M556 310h0M554 315h0M557 317h0M556 314h0M555 311h0M559 311h0M560 315h0M559 315h0M560 321h0M563 322h0M567 322h0M566 321h0M563 314h0M563 318h0M562 321h0M567 325h0M568 329h0M560 325h0M564 323h0M567 323h0M568 337h0M568 328h0M567 332h0M573 323h0M573 314h0M572 323h0M570 326h0M569 328h0M571 331h0M572 332h0M580 334h0M580 337h0M580 344h0M579 345h0M576 340h0M585 341h0M586 340h0M590 344h0M590 355h0M589 345h0M590 347h0M590 355h0M593 346h0M592 352h0M593 353h0M589 354h0M595 356h0M592 357h0M596 354h0M591 354h0M597 352h0M595 349h0M594 348h0M595 360h0M600 357h0M603 351h0M599 360h0M600 359h0M600 364h0M599 355h0M596 360h0M603 354h0M607 367h0M604 360h0M605 372h0M607 362h0M605 359h0M608 366h0M609 359h0M606 368h0M607 367h0M605 365h0M607 371h0M606 372h0M613 379h0M613 380h0M611 375h0M615 374h0M610 374h0M614 379h0M617 382h0M615 382h0M619 374h0M618 383h0M613 383h0M616 383h0M623 383h0M624 384h0M624 389h0M619 386h0M628 382h0M627 386h0M626 395h0M627 396h0M628 391h0M628 385h0M621 391h0M626 386h0M632 390h0M626 389h0M628 393h0M632 395h0M629 396h0M630 394h0M634 402h0M639 400h0M635 405h0M642 409h0M637 402h0M635 404h0M635 407h0M638 402h0M635 410h0M634 415h0M641 408h0M640 419h0M641 411h0M642 412h0M641 413h0M645 415h0M643 417h0M641 420h0M646 409h0M643 424h0M648 424h0M649 427h0M644 420h0M649 420h0M651 426h0M648 430h0M655 430h0M650 431h0M660 399h0M661 398h0M659 403h0M663 402h0M667 407h0M670 413h0M673 413h0M672 418h0M676 419h0M676 420h0M677 419h0M679 422h0M678 426h0M681 422h0M681 427h0M684 429h0M683 430h0M683 433h0M683 430h0M686 435h0M687 431h0M683 434h0M691 433h0M688 433h0M690 437h0M692 438h0M694 436h0M695 439h0M698 448h0M698 448h0M702 447h0M700 453h0M703 454h0M704 457h0M709 457h0M711 460h0M710 461h0M712 469h0M715 467h0M713 468h0M717 504h0M719 500h0M721 505h0M724 511h0M724 501h0M728 511h0M724 511h0M725 505h0M728 515h0M727 524h0M725 517h0M722 516h0M730 516h0M728 511h0M729 527h0M734 522h0M732 525h0M734 522h0M738 532h0M735 528h0M737 537h0M737 526h0M738 539h0M737 534h0M740 527h0M742 533h0M742 539h0M744 534h0M741 543h0M741 547h0M740 540h0M743 532h0M740 543h0M743 544h0M742 539h0M749 533h0M744 540h0M745 548h0M751 542h0M751 548h0M752 553h0M752 548h0M751 554h0M756 546h0M750 558h0M751 544h0M756 550h0M751 552h0M756 552h0M756 561h0M757 554h0M754 553h0M752 560h0M757 568h0M761 559h0M757 555h0M761 567h0M767 564h0M764 571h0M766 571h0M764 564h0M763 571h0M767 561h0M761 570h0M765 570h0M767 575h0M768 580h0M774 581h0M775 575h0M771 577h0M773 576h0M774 573h0M777 581h0M773 578h0M771 578h0M779 577h0M778 581h0M777 576h0M775 588h0M777 589h0M777 585h0M778 590h0M783 592h0M777 588h0M782 593h0M781 595h0M790 602h0M788 589h0M790 599h0M800 607h0M787 602h0M793 602h0M792 609h0M793 604h0M793 615h0M796 608h0M797 607h0M796 609h0M803 616h0M800 613h0M801 611h0M802 614h0M804 613h0M804 621h0M803 620h0M803 627h0M809 631h0M805 623h0M805 632h0M808 630h0M809 630h0M811 631h0M807 631h0M815 628h0M814 629h0M818 634h0M812 634h0M814 633h0M818 636h0M819 638h0M818 638h0M818 646h0M823 651h0M822 647h0M821 646h0M828 646h0M827 653h0M828 657h0M829 643h0M824 651h0M822 648h0M828 654h0M823 666h0M833 652h0M831 656h0M830 651h0M833 669h0M830 671h0M836 653h0M828 666h0M834 661h0M833 665h0M834 661h0M829 665h0M832 666h0M834 673h0M836 665h0M837 674h0M840 672h0M838 677h0M834 666h0M839 676h0M844 681h0M838 670h0M842 680h0M843 686h0M844 677h0M840 679h0M842 679h0M847 680h0M844 676h0M845 682h0M847 679h0M844 682h0M843 680h0M843 692h0M844 680h0M846 686h0M851 679h0M847 689h0M851 685h0M852 696h0M855 684h0M852 701h0M858 696h0M857 693h0M856 701h0M860 700h0M860 692h0M857 697h0M857 700h0M851 710h0M862 697h0M856 705h0M860 704h0M859 705h0M865 712h0M861 703h0M865 709h0M865 711h0M868 710h0M858 702h0M873 712h0M873 709h0M866 711h0M867 707h0M870 714h0M870 723h0M874 714h0M873 720h0M876 723h0M871 709h0M880 724h0M880 721h0M878 721h0M876 716h0M880 733h0M884 731h0M877 722h0M885 725h0M883 730h0M883 733h0M888 736h0M887 737h0M889 730h0M889 732h0M886 745h0M892 741h0M893 744h0M891 745h0M895 738h0M897 746h0M896 733h0M896 745h0M895 741h0M896 744h0M894 747h0M899 740h0M901 754h0M909 747h0M904 754h0M909 745h0M906 756h0M906 752h0M907 747h0M911 752h0M915 758h0M912 760h0M917 759h0M914 759h0M916 758h0M918 756h0M916 764h0M919 769h0M918 762h0M918 764h0M929 775h0M919 766h0M923 778h0M926 768h0M926 773h0M924 773h0M926 779h0M924 770h0M932 776h0M928 782h0M931 774h0M929 777h0M928 774h0M933 783h0M935 784h0M932 783h0M930 786h0M937 779h0M937 779h0M937 781h0M933 778h0M939 787h0M942 779h0M944 786h0M946 792h0M942 788h0M946 789h0M944 776h0M944 785h0M952 791h0M951 788h0M950 799h0M941 790h0M942 782h0M950 789h0M960 795h0M954 804h0M952 800h0M955 791h0M952 793h0M955 796h0M960 785h0M966 804h0M958 792h0M967 801h0M967 801h0M969 803h0M971 806h0M963 810h0M969 805h0M966 822h0M972 815h0M969 820h0M972 810h0M976 813h0M972 810h0M988 801h0M982 807h0M984 810h0M980 811h0M985 816h0M990 826h0M983 824h0M990 826h0M997 827h0M992 831h0M990 835h0M995 830h0M995 835h0M997 833h0M991 824h0M990 834h0M1000 827h0M999 841h0M1007 836h0M997 858h0M1008 839h0M1002 835h0M1004 837h0M1005 842h0M1011 838h0M1006 833h0M1009 844h0M1011 851h0M1002 853h0M1003 857h0M1007 852h0M1005 843h0M1021 841h0M1020 857h0M1023 856h0M1021 852h0M1020 844h0M1014 865h0M1022 859h0M1022 868h0M1017 853h0M1030 859h0M1026 859h0M1024 865h0M1026 855h0M1026 867h0M1030 853h0M1023 872h0M1028 866h0M1025 866h0M1030 860h0M1029 867h0M1035 866h0M1042 859h0M1025 856h0M1031 866h0M1031 868h0M1034 869h0M1028 872h0M1033 878h0M1025 878h0M1032 873h0M1035 863h0M1040 871h0M1039 858h0M1038 864h0M1037 873h0M1043 874h0M1044 882h0M1048 887h0M1042 887h0M1052 887h0M1045 877h0M1047 880h0M1051 885h0M1042 880h0M1052 880h0M1056 890h0M1052 892h0M1054 894h0M1045 889h0M1058 888h0M1053 891h0M1056 891h0M1057 886h0M1054 881h0M1063 890h0M1055 889h0M1062 896h0M1059 902h0M1057 893h0M1055 903h0M1067 893h0M1061 899h0M1063 900h0M1067 892h0M1066 896h0M1066 909h0M1065 906h0M1069 895h0M1063 909h0M1064 904h0M1070 905h0M1069 908h0M1071 908h0M1072 905h0M1076 915h0M1074 918h0M1082 915h0M1083 918h0M1076 913h0M1075 912h0M1083 910h0M1082 909h0M1086 921h0M1082 919h0M1081 921h0M1091 917h0M1087 923h0M1083 917h0M1085 906h0M1085 912h0M1081 912h0M1088 922h0M1092 920h0M1093 924h0M1089 930h0M1091 925h0M1091 918h0M1098 926h0M1095 924h0M1099 941h0M1097 922h0M1097 930h0M1096 937h0M1099 927h0M1100 929h0M1105 926h0M1106 937h0M1103 949h0M1100 942h0M1100 940h0M1104 929h0M1097 939h0M1103 939h0M1101 939h0M1104 943h0M1108 942h0M1109 943h0M1107 950h0M1108 942h0M1115 945h0M1107 942h0M1115 943h0M1119 939h0M1107 942h0M1114 940h0M1114 948h0M1110 953h0M1115 939h0M1119 947h0M1128 959h0M1123 959h0M1121 969h0M1123 958h0M1126 966h0M1129 959h0M1123 958h0M1123 959h0M1133 950h0M1129 968h0M1135 968h0M1129 968h0M1128 958h0M1132 966h0M1135 963h0M1140 957h0M1147 967h0M1140 968h0M1144 978h0M1148 978h0M1145 978h0M1144 963h0M1152 974h0M1150 992h0M1158 983h0M1146 979h0M1148 988h0M1157 980h0M1156 979h0M1160 998h0M1150 980h0M1158 988h0M1152 970h0M1162 983h0M1158 985h0M1158 981h0M1159 983h0M1156 986h0M1166 993h0M1164 982h0M1162 982h0M1163 985h0M1162 992h0M1163 984h0M1166 992h0M1165 988h0M1166 995h0M1173 989h0M1173 997h0M1177 1005h0M1173 1002h0M1170 1001h0M1170 1000h0M1178 1010h0M1178 982h0M1173 997h0M1172 990h0M1172 1001h0M1181 1008h0M1178 993h0M1178 1001h0M1180 1000h0M1193 1005h0M1181 1010h0M1185 1010h0M1192 1003h0M1184 1006h0M1190 1000h0M1192 1000h0M1186 1009h0M1189 1006h0M1198 1009h0M1187 1003h0M1190 1011h0M1190 1006h0M1191 1008h0M1189 1010h0M1203 1012h0M1199 1014h0M1201 1009h0M1193 1020h0M1197 1023h0M1204 1014h0M1197 1017h0M1205 1022h0M1211 1022h0M1209 1022h0M1207 1025h0M1211 1035h0M1209 1020h0M1209 1022h0M1213 1038h0M1213 1018h0M1212 1024h0M1219 1021h0M1223 1024h0M1212 1029h0M1208 1033h0M1215 1019h0M1218 1024h0M1219 1027h0M1218 1033h0M1216 1033h0M1224 1021h0M1224 1031h0M1225 1027h0M1226 1041h0M1221 1020h0M1224 1020h0M1228 1039h0M1228 1027h0M1228 1018h0M1229 1033h0M1232 1029h0M1229 1034h0M1237 1056h0M1237 1027h0M1238 1046h0M1239 1037h0M1241 1043h0M1237 1035h0M1240 1034h0M1243 1040h0M1249 1050h0M1254 1042h0M1249 1055h0M1251 1045h0M1252 1047h0M1263 1039h0M1251 1047h0M1259 1053h0M1259 1052h0M1255 1049h0M1255 1051h0M1258 1058h0M1259 1058h0M1257 1048h0M1259 1061h0M1258 1059h0M1264 1054h0M1258 1067h0M1262 1060h0M1260 1055h0M1261 1056h0M1265 1052h0M1266 1060h0M1268 1053h0M1274 1060h0M1273 1055h0M1277 1054h0M1273 1063h0M1276 1067h0M1278 1065h0M1271 1058h0M1281 1056h0M1280 1061h0M1279 1062h0M1274 1072h0M1280 1065h0M1276 1065h0M1280 1056h0M1287 1068h0M1288 1069h0M1276 1072h0M1289 1088h0M1289 1067h0M1297 1067h0M1297 1084h0M1295 1071h0M1294 1074h0M1293 1074h0M1299 1070h0M1290 1066h0M1287 1062h0M1288 1072h0M1292 1071h0M1294 1075h0M1300 1073h0M1297 1073h0M1301 1069h0M1302 1078h0M1310 1083h0M1312 1076h0M1312 1082h0M1303 1078h0M1309 1077h0M1307 1083h0M1313 1086h0M1317 1079h0M1312 1087h0M1317 1085h0M1316 1081h0M1314 1080h0M1320 1096h0M1319 1082h0M1318 1095h0M1322 1088h0M1326 1084h0M1326 1093h0M1325 1100h0M1322 1090h0M1322 1085h0M1324 1076h0M1328 1105h0M1324 1091h0M1324 1086h0M1339 1101h0M1333 1090h0M1328 1101h0M1331 1100h0M1329 1094h0M1334 1083h0M1330 1086h0M1337 1085h0M1337 1094h0M1332 1098h0M1330 1086h0M1339 1085h0M1340 1100h0M1333 1099h0M1339 1091h0M1339 1101h0M1336 1093h0M1347 1100h0M1344 1093h0M1341 1096h0M1345 1099h0M1341 1105h0M1346 1108h0M1349 1107h0M1346 1099h0M1348 1107h0M1351 1106h0M1358 1109h0M1353 1108h0M1358 1102h0M1356 1110h0M1356 1096h0M1360 1100h0M1366 1107h0M1360 1116h0M1361 1100h0M1364 1100h0M1360 1106h0M1367 1106h0M1370 1113h0M1371 1104h0M1370 1117h0M1370 1115h0M1379 1110h0M1375 1122h0M1384 1123h0M1375 1122h0M1382 1119h0M1378 1122h0M1388 1116h0M1374 1123h0M1384 1127h0M1382 1128h0M1385 1130h0M1383 1143h0M627 392h0M629 394h0M627 394h0M627 402h0M637 404h0M639 418h0M637 407h0M643 412h0M653 429h0M648 425h0M651 428h0" stroke="#2ca02c" stroke-opacity="0.42" stroke-width="7.4" stroke-linecap="round" fill="none"/><path d="M377 124h0M377 118h0M376 122h0M371 120h0M374 120h0M377 124h0M375 112h0M375 122h0M378 123h0M379 115h0M379 116h0M382 126h0M390 128h0M386 137h0M384 130h0M390 134h0M395 135h0M386 130h0M388 131h0M400 133h0M391 143h0M393 136h0M395 129h0M392 131h0M396 140h0M403 131h0M406 146h0M403 131h0M409 138h0M404 143h0M406 134h0M400 137h0M406 135h0M409 132h0M401 142h0M401 139h0M410 144h0M410 138h0M411 148h0M405 145h0M409 146h0M415 153h0M414 138h0M416 148h0M417 153h0M418 149h0M421 135h0M423 145h0M420 146h0M426 142h0M421 155h0M421 159h0M425 144h0M423 152h0M428 157h0M428 153h0M420 152h0M430 157h0M427 157h0M427 156h0M431 157h0M429 156h0M426 145h0M433 163h0M428 152h0M431 150h0M434 141h0M434 149h0M428 155h0M433 155h0M437 153h0M439 157h0M432 156h0M438 168h0M432 159h0M439 151h0M443 163h0M438 158h0M440 153h0M448 172h0M444 173h0M445 165h0M448 161h0M451 155h0M451 166h0M450 168h0M455 155h0M451 167h0M456 166h0M456 175h0M453 160h0M458 164h0M458 170h0M457 172h0M470 172h0M472 169h0M465 169h0M462 177h0M465 175h0M476 168h0M476 173h0M475 181h0M475 174h0M479 164h0M477 176h0M489 186h0M483 183h0M487 178h0M488 183h0M494 172h0M491 178h0M487 176h0M486 189h0M492 186h0M488 176h0M493 193h0M492 181h0M507 196h0M499 179h0M501 182h0M501 181h0M506 192h0M496 184h0M501 199h0M501 191h0M503 194h0M515 195h0M507 198h0M518 188h0M512 195h0M392 111h0M400 113h0M401 118h0M406 120h0M409 126h0M520 269h0M524 257h0M520 255h0M522 253h0M526 268h0M525 264h0M529 270h0M527 275h0M532 264h0M532 264h0M524 266h0M529 268h0M532 276h0M533 272h0M530 273h0M535 277h0M535 273h0M541 277h0M537 277h0M537 284h0M538 285h0M535 283h0M538 286h0M538 280h0M535 280h0M546 284h0M537 287h0M545 286h0M545 289h0M538 300h0M543 292h0M548 289h0M546 287h0M545 292h0M546 296h0M547 299h0M549 297h0M550 300h0M554 306h0M551 299h0M557 302h0M555 305h0M548 301h0M556 304h0M556 310h0M552 316h0M552 310h0M555 313h0M559 319h0M563 315h0M559 313h0M562 309h0M556 320h0M563 320h0M557 322h0M566 317h0M561 320h0M562 321h0M568 323h0M560 328h0M561 322h0M570 321h0M568 331h0M566 331h0M570 338h0M572 327h0M570 330h0M570 331h0M570 332h0M579 329h0M575 337h0M572 333h0M576 335h0M572 332h0M575 333h0M577 342h0M579 330h0M579 337h0M579 338h0M579 344h0M581 343h0M581 338h0M581 341h0M580 343h0M586 346h0M584 338h0M585 342h0M591 348h0M582 338h0M589 337h0M588 353h0M586 342h0M587 345h0M592 342h0M587 352h0M591 347h0M598 346h0M593 348h0M591 350h0M597 353h0M596 353h0M598 358h0M597 355h0M600 361h0M597 354h0M595 366h0M598 360h0M600 364h0M596 354h0M601 365h0M605 370h0M599 367h0M605 362h0M611 368h0M607 369h0M611 369h0M608 361h0M609 364h0M608 371h0M611 379h0M610 378h0M614 386h0M617 376h0M619 383h0M618 379h0M618 382h0M618 384h0M622 384h0M626 392h0M625 388h0M624 387h0M627 393h0M621 392h0M622 383h0M627 382h0M624 386h0M626 391h0M628 398h0M631 403h0M625 397h0M629 394h0M631 402h0M631 395h0M629 390h0M631 395h0M634 400h0M631 400h0M633 406h0M635 396h0M637 405h0M634 401h0M635 404h0M635 407h0M638 401h0M639 413h0M640 411h0M645 420h0M642 409h0M640 412h0M641 410h0M643 414h0M646 414h0M645 419h0M645 422h0M646 421h0M645 413h0M646 421h0M651 417h0M650 422h0M649 419h0M652 415h0M651 422h0M650 432h0M651 421h0M652 433h0M663 404h0M663 406h0M667 409h0M667 410h0M668 405h0M668 412h0M672 415h0M675 421h0M681 426h0M680 425h0M681 425h0M680 425h0M680 424h0M679 425h0M684 431h0M681 430h0M689 435h0M692 434h0M691 438h0M692 444h0M693 443h0M695 439h0M698 441h0M694 446h0M699 447h0M698 448h0M702 451h0M703 449h0M708 459h0M707 453h0M709 459h0M710 464h0M711 461h0M711 464h0M710 463h0M722 507h0M721 507h0M720 512h0M721 506h0M727 509h0M728 503h0M720 509h0M725 513h0M729 507h0M731 510h0M730 512h0M729 518h0M727 520h0M726 517h0M734 520h0M731 523h0M736 532h0M738 525h0M736 526h0M737 530h0M740 527h0M739 531h0M740 526h0M740 537h0M744 536h0M735 525h0M738 530h0M741 536h0M736 538h0M739 532h0M746 537h0M742 535h0M746 540h0M741 534h0M745 543h0M749 542h0M746 547h0M748 550h0M749 542h0M752 551h0M750 552h0M753 550h0M754 554h0M750 554h0M751 557h0M755 554h0M753 547h0M754 556h0M755 557h0M758 554h0M757 558h0M758 555h0M762 562h0M758 553h0M762 559h0M763 558h0M761 566h0M759 562h0M763 565h0M759 566h0M768 565h0M768 565h0M768 569h0M767 572h0M770 573h0M771 574h0M771 571h0M768 577h0M770 570h0M773 577h0M772 581h0M774 580h0M778 580h0M776 582h0M777 580h0M777 583h0M782 587h0M775 587h0M780 585h0M781 586h0M779 582h0M779 588h0M786 585h0M786 594h0M785 591h0M785 594h0M780 594h0M788 594h0M786 586h0M788 593h0M786 588h0M791 600h0M789 607h0M789 600h0M787 604h0M794 596h0M791 606h0M792 603h0M797 607h0M796 608h0M793 611h0M799 600h0M796 614h0M798 625h0M799 612h0M798 614h0M795 616h0M801 618h0M805 618h0M805 624h0M807 622h0M808 623h0M807 614h0M801 627h0M806 627h0M808 621h0M806 621h0M804 622h0M803 634h0M806 618h0M806 632h0M809 625h0M811 630h0M811 631h0M810 631h0M814 628h0M815 624h0M812 636h0M812 635h0M817 635h0M819 644h0M820 637h0M820 645h0M820 642h0M823 642h0M819 652h0M822 641h0M820 649h0M823 647h0M823 644h0M821 650h0M823 642h0M822 649h0M824 650h0M828 652h0M824 661h0M828 657h0M824 650h0M826 653h0M826 658h0M830 656h0M826 662h0M827 663h0M830 655h0M832 648h0M833 665h0M832 667h0M834 663h0M838 667h0M840 665h0M833 671h0M837 671h0M835 674h0M841 666h0M838 667h0M840 668h0M837 673h0M844 668h0M838 673h0M843 670h0M841 667h0M841 680h0M839 682h0M847 682h0M847 677h0M845 685h0M843 687h0M843 681h0M847 677h0M844 689h0M850 689h0M853 687h0M848 692h0M851 695h0M853 684h0M847 689h0M850 689h0M854 698h0M856 689h0M854 690h0M852 689h0M853 693h0M861 693h0M859 697h0M858 699h0M857 705h0M860 700h0M859 711h0M860 700h0M866 705h0M857 702h0M867 705h0M860 708h0M865 708h0M861 710h0M861 708h0M861 712h0M865 710h0M864 708h0M861 705h0M871 706h0M872 708h0M876 718h0M872 712h0M879 723h0M877 717h0M881 731h0M881 725h0M883 727h0M886 725h0M886 722h0M891 726h0M884 726h0M889 737h0M883 732h0M887 727h0M884 739h0M890 735h0M891 728h0M887 737h0M894 740h0M890 736h0M892 736h0M892 743h0M892 737h0M895 738h0M894 732h0M898 735h0M895 732h0M897 740h0M897 737h0M895 745h0M899 745h0M904 746h0M901 742h0M899 750h0M902 747h0M903 744h0M906 746h0M904 747h0M906 753h0M908 755h0M906 754h0M908 757h0M908 757h0M907 760h0M907 759h0M908 748h0M909 752h0M914 761h0M913 756h0M916 759h0M913 760h0M913 759h0M910 762h0M914 764h0M916 758h0M916 761h0M916 763h0M914 761h0M918 766h0M919 761h0M920 767h0M920 760h0M919 762h0M921 753h0M918 763h0M921 770h0M926 761h0M927 770h0M926 773h0M927 778h0M929 774h0M930 770h0M929 777h0M932 783h0M933 779h0M931 770h0M932 778h0M939 776h0M935 778h0M940 795h0M944 786h0M944 792h0M954 791h0M946 793h0M941 792h0M951 794h0M953 779h0M955 794h0M954 792h0M951 805h0M948 802h0M951 788h0M956 807h0M955 798h0M964 804h0M958 795h0M952 793h0M958 794h0M957 797h0M965 805h0M959 805h0M966 810h0M962 803h0M963 805h0M963 805h0M967 803h0M966 804h0M972 801h0M969 820h0M973 803h0M969 802h0M969 804h0M978 821h0M977 809h0M976 806h0M981 805h0M973 815h0M972 820h0M982 806h0M975 819h0M981 818h0M979 826h0M982 822h0M982 808h0M981 812h0M985 823h0M990 824h0M985 827h0M988 821h0M992 829h0M995 833h0M988 836h0M998 818h0M990 834h0M996 831h0M997 835h0M1007 836h0M1002 847h0M997 841h0M1007 849h0M1008 836h0M1001 837h0M1009 841h0M1008 841h0M1006 850h0M1002 837h0M1003 840h0M1007 851h0M1008 844h0M1004 836h0M1007 843h0M1010 842h0M1015 851h0M1012 841h0M1014 849h0M1017 858h0M1017 856h0M1023 850h0M1018 858h0M1018 850h0M1024 867h0M1027 864h0M1023 860h0M1016 860h0M1030 866h0M1030 859h0M1030 863h0M1032 866h0M1024 861h0M1027 860h0M1027 865h0M1034 855h0M1035 872h0M1025 862h0M1028 867h0M1030 873h0M1026 860h0M1026 866h0M1034 867h0M1043 873h0M1040 875h0M1036 880h0M1033 869h0M1043 874h0M1039 877h0M1045 876h0M1043 883h0M1047 885h0M1048 880h0M1048 881h0M1046 874h0M1057 891h0M1053 878h0M1050 882h0M1056 882h0M1058 887h0M1052 883h0M1055 881h0M1054 890h0M1061 902h0M1056 897h0M1059 899h0M1062 889h0M1061 889h0M1066 896h0M1063 894h0M1063 914h0M1069 897h0M1063 904h0M1065 905h0M1070 900h0M1072 907h0M1067 905h0M1075 910h0M1073 899h0M1072 912h0M1078 916h0M1082 908h0M1082 910h0M1076 921h0M1076 911h0M1080 911h0M1081 910h0M1083 917h0M1084 918h0M1088 920h0M1083 925h0M1093 920h0M1088 922h0M1088 923h0M1093 915h0M1098 926h0M1095 933h0M1091 930h0M1090 926h0M1097 927h0M1102 932h0M1098 940h0M1099 937h0M1102 936h0M1102 927h0M1095 927h0M1101 938h0M1104 947h0M1109 937h0M1105 942h0M1106 940h0M1109 944h0M1105 950h0M1111 945h0M1105 941h0M1110 942h0M1110 955h0M1106 941h0M1107 942h0M1103 953h0M1107 950h0M1112 943h0M1106 953h0M1114 946h0M1113 938h0M1116 954h0M1115 948h0M1116 936h0M1119 944h0M1112 941h0M1116 944h0M1118 943h0M1121 952h0M1125 946h0M1127 953h0M1118 947h0M1118 953h0M1118 942h0M1127 951h0M1117 949h0M1125 959h0M1130 964h0M1126 955h0M1121 961h0M1130 969h0M1134 949h0M1132 970h0M1137 966h0M1142 971h0M1137 960h0M1135 959h0M1134 975h0M1133 974h0M1136 980h0M1136 970h0M1141 967h0M1139 971h0M1135 973h0M1135 971h0M1149 978h0M1146 973h0M1141 973h0M1138 975h0M1147 983h0M1146 978h0M1153 980h0M1155 973h0M1150 982h0M1157 984h0M1149 975h0M1161 987h0M1154 990h0M1157 986h0M1158 988h0M1162 994h0M1165 987h0M1160 992h0M1157 995h0M1158 990h0M1167 988h0M1167 1006h0M1175 998h0M1179 1000h0M1171 1006h0M1178 1001h0M1180 993h0M1179 1001h0M1176 998h0M1177 1011h0M1180 992h0M1186 1007h0M1182 1001h0M1177 1006h0M1184 999h0M1183 1007h0M1188 1006h0M1179 1014h0M1186 1011h0M1190 1004h0M1183 1018h0M1187 1014h0M1185 1011h0M1192 1006h0M1189 1013h0M1191 1013h0M1190 1006h0M1196 1012h0M1194 1014h0M1194 1002h0M1190 1005h0M1193 1008h0M1192 1020h0M1194 1019h0M1201 1013h0M1196 1013h0M1199 1002h0M1197 1021h0M1204 1010h0M1201 1011h0M1200 1023h0M1201 1019h0M1211 1020h0M1212 1013h0M1217 1025h0M1215 1027h0M1209 1032h0M1214 1019h0M1210 1024h0M1221 1030h0M1217 1028h0M1220 1040h0M1226 1025h0M1226 1033h0M1230 1040h0M1231 1036h0M1241 1034h0M1237 1039h0M1238 1034h0M1239 1039h0M1238 1043h0M1232 1032h0M1235 1049h0M1235 1049h0M1242 1029h0M1230 1037h0M1242 1043h0M1240 1048h0M1242 1027h0M1240 1043h0M1244 1031h0M1253 1049h0M1240 1042h0M1252 1031h0M1256 1046h0M1250 1040h0M1251 1052h0M1248 1048h0M1254 1051h0M1251 1043h0M1252 1049h0M1259 1050h0M1271 1062h0M1265 1058h0M1259 1052h0M1264 1065h0M1268 1063h0M1263 1063h0M1265 1051h0M1263 1057h0M1270 1049h0M1270 1057h0M1272 1056h0M1273 1062h0M1270 1056h0M1276 1061h0M1283 1070h0M1289 1072h0M1285 1074h0M1277 1061h0M1286 1069h0M1281 1067h0M1283 1058h0M1285 1071h0M1282 1070h0M1294 1076h0M1286 1073h0M1282 1072h0M1287 1068h0M1289 1074h0M1292 1075h0M1293 1075h0M1294 1080h0M1303 1067h0M1296 1069h0M1290 1078h0M1290 1067h0M1298 1070h0M1290 1078h0M1292 1078h0M1295 1075h0M1291 1079h0M1300 1066h0M1302 1078h0M1300 1078h0M1295 1074h0M1302 1081h0M1302 1087h0M1302 1070h0M1303 1079h0M1307 1092h0M1310 1080h0M1313 1084h0M1306 1085h0M1313 1087h0M1313 1086h0M1310 1080h0M1318 1091h0M1316 1087h0M1318 1077h0M1322 1076h0M1321 1089h0M1323 1085h0M1315 1097h0M1318 1092h0M1322 1091h0M1326 1098h0M1325 1100h0M1328 1078h0M1328 1092h0M1330 1089h0M1334 1089h0M1334 1104h0M1338 1104h0M1337 1103h0M1342 1105h0M1347 1085h0M1349 1103h0M1348 1103h0M1345 1100h0M1346 1084h0M1353 1104h0M1356 1099h0M1345 1098h0M1346 1104h0M1349 1105h0M1349 1102h0M1352 1104h0M1355 1104h0M1361 1104h0M1363 1098h0M1359 1105h0M1360 1103h0M1362 1096h0M1358 1103h0M1363 1114h0M1358 1102h0M1359 1104h0M1366 1105h0M1366 1101h0M1367 1111h0M1371 1120h0M1375 1104h0M1369 1105h0M1360 1112h0M1377 1122h0M1371 1113h0M1374 1117h0M1375 1103h0M1378 1121h0M1376 1113h0M1375 1127h0M1376 1118h0M1372 1114h0M1385 1123h0M1375 1113h0M1382 1129h0M1385 1121h0M1379 1122h0M1377 1135h0M1378 1129h0M1381 1122h0M1385 1135h0M648 419h0M650 423h0M648 422h0" stroke="#2ca02c" stroke-opacity="0.42" stroke-width="7.4" stroke-linecap="round" fill="none"/><path d="M374 124h0M373 125h0M374 131h0M376 130h0M382 122h0M383 135h0M384 122h0M386 125h0M386 125h0M388 127h0M391 128h0M394 130h0M399 133h0M395 138h0M396 133h0M397 134h0M398 135h0M393 126h0M409 139h0M402 131h0M409 147h0M407 133h0M400 138h0M405 136h0M402 148h0M408 134h0M409 141h0M406 137h0M407 142h0M410 147h0M412 143h0M410 144h0M409 147h0M417 143h0M416 150h0M416 148h0M417 142h0M423 139h0M418 149h0M417 150h0M423 140h0M424 139h0M424 149h0M423 154h0M432 160h0M422 147h0M437 157h0M434 162h0M434 163h0M432 151h0M429 148h0M434 148h0M435 158h0M438 161h0M438 171h0M432 159h0M447 166h0M440 160h0M439 159h0M446 157h0M444 162h0M446 165h0M443 166h0M450 162h0M445 166h0M442 168h0M448 153h0M448 163h0M448 160h0M447 163h0M446 157h0M447 159h0M455 162h0M453 156h0M447 169h0M455 160h0M455 165h0M454 169h0M454 163h0M454 170h0M458 173h0M455 166h0M456 168h0M448 169h0M460 172h0M456 174h0M463 167h0M462 165h0M468 169h0M464 189h0M468 172h0M464 177h0M472 175h0M471 175h0M473 175h0M470 173h0M470 177h0M477 180h0M475 178h0M466 161h0M472 169h0M475 177h0M474 178h0M479 176h0M475 180h0M474 188h0M483 176h0M484 181h0M487 185h0M487 174h0M483 183h0M490 181h0M481 186h0M480 173h0M480 188h0M486 172h0M495 187h0M490 179h0M491 180h0M497 178h0M492 179h0M492 181h0M491 193h0M502 194h0M498 190h0M496 181h0M502 191h0M495 191h0M492 186h0M505 183h0M502 189h0M510 193h0M507 197h0M501 212h0M506 188h0M506 197h0M501 193h0M508 195h0M512 191h0M508 196h0M520 197h0M385 114h0M385 117h0M395 117h0M396 115h0M405 114h0M407 117h0M520 261h0M520 263h0M522 259h0M523 261h0M527 264h0M523 265h0M528 258h0M528 263h0M528 267h0M528 264h0M525 267h0M525 258h0M524 267h0M531 265h0M525 268h0M530 270h0M533 269h0M529 271h0M532 276h0M535 279h0M533 281h0M534 273h0M536 287h0M534 282h0M534 284h0M538 287h0M543 284h0M540 285h0M541 294h0M539 288h0M542 285h0M540 288h0M545 293h0M544 286h0M539 297h0M549 300h0M543 293h0M547 292h0M548 295h0M548 291h0M546 288h0M546 297h0M555 300h0M551 296h0M549 303h0M552 315h0M553 304h0M558 304h0M559 308h0M556 309h0M556 314h0M555 316h0M554 315h0M554 309h0M556 316h0M558 316h0M559 317h0M561 319h0M562 320h0M567 322h0M565 324h0M566 319h0M567 318h0M561 323h0M568 322h0M563 335h0M572 333h0M564 336h0M571 331h0M571 329h0M573 331h0M574 341h0M569 331h0M575 341h0M573 337h0M572 330h0M575 328h0M576 337h0M575 342h0M578 337h0M576 343h0M574 329h0M574 341h0M581 340h0M577 336h0M577 336h0M577 343h0M578 339h0M583 350h0M582 349h0M584 345h0M584 348h0M579 348h0M584 346h0M587 352h0M589 357h0M594 352h0M590 353h0M587 349h0M590 351h0M597 353h0M596 351h0M595 353h0M595 349h0M592 353h0M597 359h0M602 362h0M599 362h0M596 369h0M596 362h0M599 361h0M605 367h0M606 361h0M601 367h0M606 370h0M606 371h0M605 362h0M609 362h0M604 368h0M609 367h0M612 364h0M610 370h0M612 374h0M614 371h0M622 376h0M621 375h0M611 375h0M614 379h0M615 377h0M617 388h0M624 385h0M622 383h0M626 392h0M627 393h0M632 404h0M632 393h0M637 406h0M631 405h0M630 401h0M632 408h0M635 407h0M636 399h0M639 396h0M637 413h0M639 411h0M637 411h0M637 414h0M641 412h0M645 415h0M642 414h0M642 419h0M642 421h0M644 422h0M638 420h0M644 423h0M652 422h0M645 425h0M649 426h0M649 420h0M644 411h0M648 425h0M651 427h0M654 433h0M653 443h0M658 398h0M664 400h0M662 405h0M669 413h0M670 412h0M672 413h0M672 412h0M674 419h0M675 417h0M678 416h0M678 422h0M676 423h0M678 425h0M680 429h0M681 423h0M692 437h0M699 448h0M697 449h0M706 457h0M703 455h0M705 458h0M707 458h0M709 463h0M715 471h0M720 509h0M726 515h0M723 515h0M725 516h0M722 514h0M724 516h0M729 511h0M727 505h0M724 508h0M732 517h0M726 523h0M727 524h0M732 516h0M735 522h0M740 536h0M739 530h0M739 531h0M741 536h0M743 533h0M749 540h0M745 546h0M745 546h0M746 541h0M743 548h0M746 541h0M747 552h0M744 549h0M748 543h0M751 543h0M753 551h0M751 553h0M755 553h0M757 546h0M755 556h0M753 558h0M758 554h0M757 558h0M759 554h0M760 551h0M760 561h0M764 556h0M767 561h0M767 570h0M770 570h0M765 569h0M768 567h0M767 572h0M770 575h0M770 580h0M774 579h0M776 579h0M770 580h0M774 575h0M771 577h0M772 579h0M777 588h0M776 586h0M779 585h0M774 581h0M777 579h0M777 576h0M778 583h0M783 591h0M778 586h0M779 590h0M781 583h0M783 590h0M786 590h0M783 591h0M785 594h0M786 601h0M786 597h0M786 597h0M788 594h0M789 601h0M791 598h0M792 603h0M790 612h0M795 602h0M796 610h0M796 618h0M799 607h0M793 607h0M799 607h0M796 619h0M797 608h0M795 615h0M801 614h0M797 619h0M801 610h0M798 622h0M807 617h0M804 619h0M806 626h0M802 614h0M804 623h0M808 631h0M809 625h0M808 630h0M813 630h0M812 633h0M811 636h0M812 626h0M815 638h0M813 634h0M817 637h0M820 641h0M816 642h0M817 643h0M815 652h0M820 643h0M820 648h0M821 650h0M823 648h0M824 649h0M820 650h0M824 653h0M828 654h0M832 658h0M828 655h0M824 657h0M830 660h0M828 661h0M829 652h0M832 661h0M831 661h0M833 662h0M832 667h0M836 659h0M837 677h0M835 668h0M838 672h0M838 675h0M839 671h0M839 665h0M842 676h0M843 668h0M845 687h0M844 678h0M845 686h0M844 687h0M848 682h0M852 684h0M854 687h0M844 680h0M845 685h0M847 695h0M849 691h0M854 688h0M852 694h0M855 689h0M849 689h0M857 694h0M853 699h0M857 710h0M861 702h0M861 700h0M860 700h0M861 709h0M864 707h0M869 704h0M861 707h0M865 706h0M864 710h0M864 715h0M868 719h0M869 710h0M868 711h0M869 712h0M866 712h0M873 712h0M870 719h0M871 717h0M872 718h0M876 710h0M877 720h0M874 720h0M876 727h0M877 713h0M876 721h0M882 724h0M878 723h0M881 728h0M877 724h0M883 733h0M884 730h0M894 733h0M890 731h0M895 737h0M888 729h0M890 733h0M889 736h0M888 732h0M888 743h0M894 734h0M894 736h0M894 739h0M893 741h0M896 736h0M896 744h0M899 743h0M901 740h0M897 741h0M901 746h0M899 751h0M905 752h0M903 747h0M904 747h0M909 751h0M908 750h0M904 745h0M909 749h0M907 755h0M908 758h0M915 759h0M916 760h0M914 761h0M912 764h0M919 768h0M921 765h0M920 759h0M925 760h0M921 764h0M922 776h0M921 764h0M919 773h0M920 771h0M923 772h0M926 775h0M923 778h0M925 777h0M926 778h0M929 770h0M931 781h0M930 778h0M931 782h0M936 776h0M938 786h0M936 775h0M934 782h0M940 793h0M939 785h0M933 783h0M930 788h0M935 780h0M939 788h0M940 798h0M934 777h0M941 785h0M946 785h0M943 784h0M952 796h0M946 804h0M951 790h0M958 797h0M958 805h0M953 800h0M957 799h0M959 803h0M966 802h0M964 805h0M961 814h0M963 794h0M962 811h0M965 806h0M965 816h0M967 805h0M966 810h0M970 807h0M969 809h0M968 807h0M973 809h0M972 812h0M979 806h0M968 819h0M975 823h0M979 813h0M975 811h0M975 825h0M980 809h0M985 817h0M986 818h0M981 816h0M982 823h0M984 815h0M979 830h0M988 824h0M982 830h0M987 823h0M993 806h0M990 821h0M988 825h0M987 829h0M989 821h0M996 828h0M986 825h0M998 828h0M997 823h0M994 839h0M996 822h0M1003 837h0M999 835h0M991 842h0M1001 837h0M994 847h0M998 843h0M1008 845h0M1012 840h0M1016 834h0M1015 838h0M1009 837h0M1016 848h0M1008 847h0M1009 834h0M1012 845h0M1004 843h0M1008 843h0M1010 841h0M1012 850h0M1013 843h0M1012 855h0M1017 849h0M1020 859h0M1017 842h0M1008 843h0M1013 855h0M1024 853h0M1023 851h0M1020 862h0M1020 869h0M1020 867h0M1028 872h0M1028 862h0M1031 866h0M1037 863h0M1032 860h0M1035 874h0M1042 880h0M1033 871h0M1042 867h0M1037 878h0M1047 870h0M1036 871h0M1043 863h0M1047 880h0M1041 881h0M1048 877h0M1042 884h0M1046 870h0M1044 893h0M1050 886h0M1054 894h0M1050 892h0M1052 886h0M1050 886h0M1059 890h0M1056 886h0M1051 875h0M1048 901h0M1063 886h0M1057 890h0M1064 901h0M1057 888h0M1064 894h0M1066 892h0M1066 894h0M1067 910h0M1070 894h0M1065 902h0M1062 912h0M1067 894h0M1070 903h0M1068 901h0M1065 908h0M1073 897h0M1072 901h0M1081 914h0M1073 918h0M1074 906h0M1079 914h0M1072 917h0M1081 904h0M1073 925h0M1072 927h0M1081 912h0M1087 920h0M1084 909h0M1083 924h0M1080 913h0M1086 916h0M1091 915h0M1080 911h0M1080 922h0M1087 921h0M1089 926h0M1082 934h0M1084 906h0M1091 921h0M1086 920h0M1091 911h0M1091 926h0M1087 931h0M1096 933h0M1090 929h0M1090 922h0M1090 926h0M1095 917h0M1092 929h0M1099 927h0M1092 924h0M1099 936h0M1097 923h0M1097 924h0M1096 930h0M1101 930h0M1103 939h0M1100 932h0M1102 936h0M1100 942h0M1107 937h0M1106 927h0M1107 940h0M1105 937h0M1110 933h0M1104 937h0M1105 946h0M1110 938h0M1107 946h0M1110 942h0M1113 931h0M1109 939h0M1109 946h0M1112 942h0M1111 945h0M1118 952h0M1110 950h0M1124 960h0M1114 958h0M1113 959h0M1110 947h0M1118 945h0M1120 965h0M1116 953h0M1129 944h0M1129 967h0M1124 957h0M1128 964h0M1131 963h0M1128 958h0M1126 956h0M1121 958h0M1127 962h0M1129 963h0M1129 963h0M1128 959h0M1131 964h0M1127 967h0M1139 967h0M1138 971h0M1135 955h0M1129 961h0M1127 970h0M1144 968h0M1137 974h0M1138 965h0M1145 975h0M1137 972h0M1140 968h0M1142 964h0M1151 977h0M1144 978h0M1151 978h0M1142 977h0M1147 966h0M1150 979h0M1146 965h0M1153 979h0M1153 984h0M1154 990h0M1149 974h0M1155 989h0M1151 977h0M1160 990h0M1156 980h0M1163 989h0M1158 981h0M1158 982h0M1161 978h0M1163 985h0M1167 988h0M1169 975h0M1162 988h0M1170 979h0M1170 994h0M1165 994h0M1167 988h0M1166 992h0M1173 992h0M1170 990h0M1168 999h0M1182 1002h0M1172 1006h0M1180 1006h0M1174 1007h0M1174 995h0M1185 998h0M1178 1002h0M1174 999h0M1179 1008h0M1191 1014h0M1183 1009h0M1188 1002h0M1191 1010h0M1192 1001h0M1185 999h0M1193 1010h0M1192 994h0M1184 1006h0M1187 1006h0M1206 1014h0M1192 1013h0M1195 1004h0M1199 1011h0M1205 1019h0M1201 1020h0M1197 1014h0M1199 1014h0M1204 1025h0M1203 1027h0M1203 1019h0M1205 1017h0M1203 1012h0M1203 1013h0M1203 1018h0M1203 1022h0M1215 1033h0M1211 1022h0M1215 1021h0M1217 1020h0M1210 1024h0M1217 1021h0M1215 1024h0M1216 1016h0M1221 1033h0M1219 1033h0M1212 1027h0M1217 1030h0M1222 1036h0M1227 1028h0M1228 1032h0M1221 1040h0M1221 1026h0M1224 1026h0M1218 1025h0M1224 1036h0M1224 1035h0M1230 1027h0M1228 1024h0M1230 1037h0M1234 1034h0M1234 1030h0M1230 1036h0M1233 1030h0M1234 1026h0M1237 1046h0M1237 1035h0M1236 1036h0M1237 1037h0M1241 1053h0M1247 1058h0M1245 1038h0M1242 1045h0M1255 1053h0M1244 1049h0M1244 1049h0M1246 1044h0M1248 1037h0M1257 1051h0M1259 1053h0M1253 1053h0M1254 1042h0M1257 1053h0M1254 1046h0M1252 1048h0M1260 1051h0M1259 1047h0M1261 1066h0M1269 1054h0M1262 1056h0M1262 1048h0M1268 1063h0M1267 1059h0M1265 1047h0M1264 1068h0M1279 1065h0M1273 1061h0M1280 1075h0M1282 1065h0M1275 1062h0M1284 1074h0M1285 1073h0M1296 1068h0M1288 1080h0M1294 1067h0M1291 1076h0M1300 1084h0M1297 1079h0M1295 1074h0M1294 1083h0M1295 1079h0M1299 1066h0M1303 1064h0M1301 1072h0M1309 1080h0M1302 1082h0M1306 1085h0M1311 1081h0M1310 1074h0M1307 1066h0M1309 1089h0M1310 1085h0M1315 1085h0M1316 1078h0M1316 1089h0M1322 1082h0M1323 1093h0M1317 1082h0M1316 1082h0M1320 1085h0M1316 1078h0M1322 1087h0M1324 1090h0M1319 1088h0M1331 1096h0M1326 1092h0M1326 1095h0M1326 1093h0M1325 1086h0M1332 1093h0M1334 1095h0M1326 1080h0M1342 1097h0M1332 1095h0M1329 1097h0M1337 1087h0M1340 1084h0M1339 1085h0M1342 1107h0M1337 1112h0M1342 1096h0M1342 1094h0M1344 1097h0M1346 1095h0M1335 1102h0M1351 1101h0M1349 1105h0M1350 1103h0M1349 1095h0M1354 1103h0M1346 1103h0M1344 1093h0M1359 1096h0M1351 1106h0M1356 1103h0M1362 1109h0M1351 1104h0M1361 1102h0M1357 1111h0M1353 1099h0M1360 1109h0M1360 1103h0M1365 1098h0M1361 1104h0M1363 1112h0M1370 1105h0M1364 1108h0M1364 1116h0M1374 1108h0M1374 1112h0M1369 1115h0M1369 1125h0M1375 1100h0M1374 1109h0M1376 1110h0M1375 1128h0M1369 1119h0M1378 1128h0M1377 1121h0M1381 1116h0M1377 1121h0M1374 1123h0M1385 1122h0M1380 1122h0M1387 1124h0M1377 1132h0M1385 1132h0M1387 1132h0M1386 1120h0M1378 1126h0M1388 1116h0M1384 1131h0M1392 1123h0M1382 1132h0M624 396h0M633 393h0M633 407h0M644 415h0M649 425h0M656 427h0M654 429h0" stroke="#2ca02c" stroke-opacity="0.42" stroke-width="7.4" stroke-linecap="round" fill="none"/><path d="M375 113h0M386 130h0M377 121h0M380 132h0M386 129h0M381 122h0M383 128h0M388 125h0M384 133h0M390 144h0M393 135h0M386 131h0M400 135h0M384 133h0M389 129h0M399 132h0M398 132h0M397 125h0M397 136h0M401 150h0M406 136h0M410 139h0M417 137h0M410 139h0M411 139h0M403 141h0M409 141h0M414 154h0M415 155h0M423 151h0M411 154h0M420 149h0M411 147h0M413 157h0M422 150h0M422 142h0M413 153h0M413 142h0M424 151h0M425 148h0M425 156h0M433 157h0M431 155h0M436 153h0M440 155h0M441 159h0M438 156h0M442 154h0M435 166h0M439 154h0M441 160h0M442 163h0M447 166h0M444 158h0M445 158h0M450 163h0M452 155h0M448 157h0M449 163h0M452 152h0M457 164h0M454 167h0M452 171h0M456 157h0M454 166h0M460 169h0M459 164h0M455 175h0M453 163h0M463 183h0M468 185h0M472 174h0M470 174h0M475 177h0M473 167h0M479 171h0M470 179h0M472 170h0M473 176h0M479 175h0M475 175h0M478 175h0M472 176h0M478 171h0M480 187h0M478 181h0M481 178h0M487 178h0M486 184h0M491 170h0M487 175h0M489 175h0M488 185h0M495 184h0M497 193h0M491 178h0M496 193h0M500 191h0M500 177h0M494 191h0M499 189h0M503 198h0M496 185h0M502 184h0M498 182h0M505 199h0M506 184h0M507 182h0M507 201h0M511 196h0M505 209h0M503 191h0M507 189h0M511 201h0M512 198h0M513 189h0M390 118h0M394 113h0M390 115h0M394 122h0M405 123h0M406 119h0M525 260h0M528 257h0M526 264h0M527 267h0M521 262h0M525 261h0M524 260h0M529 272h0M527 268h0M527 268h0M533 273h0M531 268h0M535 270h0M533 279h0M533 279h0M532 273h0M533 283h0M535 278h0M537 285h0M535 286h0M533 277h0M535 282h0M540 278h0M539 285h0M535 281h0M539 281h0M536 279h0M537 282h0M539 283h0M541 288h0M541 288h0M540 286h0M540 287h0M549 287h0M542 301h0M544 296h0M544 296h0M543 293h0M548 293h0M544 299h0M546 305h0M549 303h0M551 304h0M551 306h0M561 300h0M555 300h0M548 302h0M549 309h0M551 310h0M553 308h0M560 305h0M560 320h0M560 318h0M561 320h0M560 320h0M567 318h0M562 325h0M565 324h0M566 323h0M571 324h0M570 322h0M568 331h0M569 329h0M574 322h0M567 330h0M570 324h0M578 330h0M567 337h0M573 333h0M577 334h0M570 327h0M577 337h0M585 347h0M584 346h0M581 351h0M585 350h0M587 347h0M590 355h0M588 352h0M594 351h0M593 352h0M590 345h0M590 352h0M593 352h0M593 351h0M592 357h0M592 361h0M600 359h0M597 370h0M598 366h0M601 361h0M606 375h0M608 370h0M608 369h0M603 364h0M612 371h0M615 376h0M610 376h0M612 378h0M612 376h0M611 370h0M614 374h0M615 385h0M617 378h0M617 376h0M617 381h0M620 379h0M617 388h0M624 383h0M624 388h0M625 393h0M621 398h0M625 389h0M624 391h0M636 396h0M626 399h0M629 394h0M627 397h0M631 398h0M632 394h0M633 393h0M633 397h0M636 405h0M634 406h0M636 413h0M638 402h0M636 408h0M637 408h0M643 406h0M636 408h0M637 411h0M640 408h0M643 418h0M644 419h0M644 426h0M646 419h0M648 415h0M646 422h0M650 423h0M648 426h0M651 415h0M656 425h0M651 427h0M652 438h0M655 425h0M657 429h0M656 429h0M662 399h0M662 396h0M663 400h0M663 403h0M667 405h0M667 408h0M669 412h0M675 417h0M675 415h0M677 420h0M676 423h0M676 423h0M679 420h0M677 424h0M681 428h0M681 428h0M686 431h0M686 431h0M690 430h0M687 432h0M687 433h0M685 436h0M688 434h0M691 441h0M694 439h0M692 440h0M691 439h0M695 442h0M696 441h0M693 441h0M697 448h0M698 446h0M700 454h0M699 451h0M704 453h0M705 454h0M711 459h0M708 465h0M710 459h0M710 465h0M708 463h0M715 465h0M713 468h0M713 467h0M720 499h0M720 507h0M724 514h0M721 503h0M722 500h0M719 511h0M722 509h0M724 507h0M723 506h0M731 513h0M729 514h0M730 514h0M731 518h0M732 523h0M734 516h0M736 528h0M730 526h0M736 532h0M736 532h0M739 534h0M739 531h0M741 538h0M744 538h0M744 536h0M745 535h0M745 541h0M754 546h0M748 547h0M745 552h0M746 553h0M751 553h0M751 550h0M754 549h0M757 558h0M758 550h0M754 557h0M753 553h0M756 560h0M757 559h0M758 562h0M762 563h0M760 560h0M759 566h0M765 563h0M762 568h0M767 562h0M763 571h0M765 572h0M769 569h0M769 572h0M767 574h0M774 576h0M778 586h0M779 584h0M778 587h0M783 582h0M779 589h0M778 590h0M782 586h0M778 587h0M783 589h0M773 594h0M780 594h0M784 589h0M784 588h0M781 592h0M784 592h0M784 588h0M784 593h0M783 608h0M785 605h0M787 596h0M788 592h0M786 598h0M786 600h0M792 599h0M792 603h0M789 598h0M792 607h0M794 602h0M793 601h0M794 608h0M795 606h0M795 612h0M797 607h0M797 620h0M796 612h0M799 611h0M796 615h0M795 612h0M800 612h0M798 611h0M803 620h0M800 609h0M798 615h0M798 614h0M797 621h0M800 621h0M804 631h0M798 618h0M807 621h0M807 613h0M805 624h0M805 626h0M809 623h0M811 633h0M808 628h0M809 623h0M803 630h0M804 624h0M811 621h0M806 631h0M809 624h0M811 637h0M813 638h0M814 628h0M813 643h0M817 634h0M813 642h0M816 636h0M823 641h0M818 647h0M815 643h0M822 645h0M820 647h0M829 641h0M822 651h0M824 652h0M822 653h0M828 654h0M823 650h0M824 649h0M827 657h0M827 662h0M827 653h0M827 668h0M832 662h0M833 668h0M832 666h0M835 652h0M835 666h0M835 662h0M834 661h0M836 671h0M841 668h0M841 670h0M839 673h0M840 671h0M840 668h0M842 671h0M844 678h0M841 672h0M844 684h0M846 682h0M838 674h0M847 678h0M842 682h0M844 680h0M845 684h0M852 681h0M853 686h0M847 680h0M850 688h0M854 690h0M852 687h0M849 696h0M857 698h0M856 701h0M854 700h0M857 698h0M860 699h0M857 707h0M856 706h0M860 693h0M862 698h0M862 701h0M862 704h0M861 705h0M868 713h0M869 701h0M864 710h0M866 710h0M867 710h0M868 709h0M867 707h0M869 716h0M874 717h0M872 715h0M872 717h0M871 720h0M872 719h0M874 713h0M872 715h0M876 715h0M877 730h0M879 731h0M881 723h0M880 724h0M884 736h0M885 724h0M883 725h0M885 724h0M886 736h0M888 737h0M886 730h0M889 726h0M892 734h0M891 731h0M892 731h0M892 736h0M890 741h0M891 737h0M895 739h0M892 736h0M893 743h0M896 737h0M898 733h0M895 744h0M893 742h0M897 732h0M897 748h0M898 747h0M898 742h0M901 739h0M896 739h0M901 742h0M899 743h0M899 740h0M901 740h0M905 756h0M905 756h0M909 755h0M906 752h0M910 747h0M906 754h0M912 754h0M912 745h0M911 755h0M916 761h0M915 759h0M919 761h0M922 757h0M920 762h0M920 765h0M921 773h0M924 765h0M922 762h0M929 772h0M928 767h0M922 770h0M927 770h0M924 770h0M928 775h0M929 774h0M935 776h0M936 778h0M934 772h0M931 777h0M934 777h0M933 780h0M933 777h0M935 783h0M938 777h0M934 784h0M938 777h0M942 779h0M942 777h0M938 780h0M936 794h0M944 786h0M939 787h0M943 790h0M944 790h0M944 777h0M946 779h0M945 782h0M947 788h0M948 785h0M947 788h0M945 792h0M952 785h0M948 790h0M947 804h0M956 803h0M954 797h0M951 795h0M952 790h0M946 799h0M957 797h0M953 801h0M952 794h0M949 795h0M955 798h0M955 795h0M961 798h0M958 800h0M961 806h0M963 798h0M964 796h0M961 799h0M961 797h0M970 808h0M960 801h0M969 804h0M970 812h0M968 804h0M971 795h0M967 814h0M972 813h0M974 798h0M976 816h0M976 819h0M977 801h0M979 809h0M985 811h0M983 819h0M988 828h0M986 823h0M991 831h0M994 813h0M985 830h0M992 833h0M990 823h0M988 825h0M992 833h0M991 828h0M990 828h0M996 833h0M993 825h0M997 823h0M998 830h0M994 822h0M996 830h0M995 826h0M1001 832h0M998 831h0M1001 833h0M996 838h0M1005 835h0M1002 843h0M1004 828h0M1002 850h0M1012 849h0M1016 851h0M1010 841h0M1009 833h0M1011 842h0M1006 849h0M1007 840h0M1004 851h0M1007 850h0M1010 836h0M1016 843h0M1008 853h0M1019 844h0M1013 853h0M1010 847h0M1011 851h0M1015 844h0M1013 848h0M1014 849h0M1019 856h0M1018 858h0M1017 869h0M1017 854h0M1017 859h0M1016 856h0M1024 841h0M1017 855h0M1026 845h0M1023 862h0M1028 855h0M1030 866h0M1027 860h0M1026 856h0M1030 859h0M1025 860h0M1031 862h0M1030 862h0M1029 855h0M1034 870h0M1032 857h0M1034 869h0M1033 869h0M1035 877h0M1039 873h0M1035 871h0M1033 866h0M1041 872h0M1037 868h0M1045 881h0M1049 882h0M1049 871h0M1050 883h0M1051 886h0M1052 873h0M1058 887h0M1055 895h0M1053 897h0M1056 881h0M1059 902h0M1051 893h0M1059 883h0M1070 891h0M1064 894h0M1069 902h0M1068 892h0M1063 902h0M1069 914h0M1072 901h0M1063 891h0M1065 907h0M1071 903h0M1066 911h0M1069 903h0M1076 918h0M1077 897h0M1076 907h0M1076 902h0M1080 903h0M1078 910h0M1081 912h0M1080 916h0M1087 919h0M1079 919h0M1081 915h0M1084 913h0M1086 929h0M1085 914h0M1074 927h0M1085 925h0M1090 912h0M1088 922h0M1089 922h0M1083 922h0M1087 921h0M1090 925h0M1088 926h0M1096 925h0M1093 935h0M1089 927h0M1095 926h0M1103 932h0M1103 923h0M1100 929h0M1092 937h0M1097 924h0M1103 935h0M1102 932h0M1100 931h0M1106 928h0M1101 933h0M1100 932h0M1102 944h0M1103 934h0M1102 934h0M1108 939h0M1106 952h0M1109 945h0M1105 932h0M1101 934h0M1109 946h0M1106 939h0M1110 949h0M1115 946h0M1116 944h0M1110 941h0M1112 943h0M1119 943h0M1112 942h0M1115 949h0M1116 961h0M1118 959h0M1113 938h0M1118 946h0M1124 945h0M1123 949h0M1122 954h0M1120 958h0M1121 962h0M1121 965h0M1123 949h0M1117 950h0M1123 957h0M1125 957h0M1122 961h0M1120 959h0M1129 958h0M1131 961h0M1122 964h0M1129 958h0M1131 952h0M1129 958h0M1128 963h0M1126 959h0M1128 958h0M1129 964h0M1128 961h0M1131 971h0M1135 972h0M1135 961h0M1131 964h0M1133 967h0M1135 986h0M1137 971h0M1137 973h0M1133 970h0M1143 971h0M1139 968h0M1138 964h0M1140 969h0M1146 973h0M1142 979h0M1147 971h0M1154 981h0M1153 986h0M1151 978h0M1157 986h0M1150 974h0M1153 991h0M1152 983h0M1160 982h0M1155 984h0M1166 983h0M1163 985h0M1158 986h0M1161 986h0M1161 1001h0M1161 991h0M1165 982h0M1163 989h0M1166 990h0M1161 996h0M1164 991h0M1167 984h0M1168 1000h0M1172 1003h0M1173 998h0M1169 991h0M1173 993h0M1171 991h0M1174 999h0M1177 989h0M1174 1003h0M1172 984h0M1174 998h0M1180 1004h0M1187 996h0M1176 1002h0M1184 1005h0M1188 995h0M1184 1003h0M1185 1002h0M1189 1009h0M1186 1010h0M1186 1013h0M1189 1012h0M1194 1011h0M1188 1019h0M1191 1008h0M1191 1017h0M1189 1014h0M1189 1012h0M1198 1009h0M1196 1015h0M1198 1022h0M1203 1018h0M1199 1015h0M1205 1009h0M1202 1009h0M1204 1025h0M1206 1009h0M1204 1017h0M1206 1028h0M1196 1023h0M1207 1023h0M1210 1016h0M1205 1043h0M1209 1028h0M1214 1022h0M1224 1033h0M1214 1019h0M1222 1034h0M1217 1030h0M1220 1023h0M1222 1030h0M1218 1028h0M1219 1030h0M1230 1026h0M1221 1028h0M1229 1020h0M1223 1029h0M1234 1025h0M1221 1018h0M1228 1041h0M1235 1037h0M1227 1039h0M1235 1038h0M1236 1046h0M1233 1034h0M1237 1034h0M1242 1040h0M1238 1043h0M1234 1054h0M1235 1040h0M1239 1059h0M1248 1048h0M1251 1057h0M1248 1047h0M1257 1042h0M1250 1048h0M1252 1044h0M1257 1055h0M1255 1045h0M1255 1042h0M1254 1047h0M1254 1052h0M1255 1045h0M1259 1055h0M1261 1065h0M1259 1066h0M1266 1057h0M1267 1049h0M1264 1073h0M1275 1063h0M1271 1063h0M1272 1056h0M1270 1060h0M1272 1069h0M1273 1055h0M1272 1063h0M1284 1068h0M1279 1068h0M1281 1068h0M1283 1066h0M1286 1066h0M1284 1079h0M1289 1067h0M1289 1061h0M1292 1073h0M1290 1072h0M1290 1066h0M1291 1074h0M1291 1074h0M1291 1065h0M1296 1066h0M1301 1083h0M1298 1083h0M1297 1074h0M1301 1078h0M1300 1084h0M1304 1085h0M1305 1080h0M1303 1070h0M1310 1086h0M1312 1088h0M1313 1077h0M1309 1092h0M1318 1080h0M1311 1090h0M1315 1082h0M1313 1085h0M1318 1080h0M1316 1073h0M1317 1097h0M1323 1091h0M1317 1090h0M1326 1068h0M1323 1071h0M1323 1092h0M1318 1090h0M1324 1086h0M1322 1077h0M1326 1087h0M1320 1089h0M1325 1086h0M1325 1088h0M1330 1073h0M1334 1083h0M1329 1094h0M1329 1092h0M1324 1091h0M1334 1092h0M1332 1092h0M1330 1091h0M1336 1091h0M1341 1096h0M1329 1100h0M1337 1101h0M1333 1089h0M1339 1098h0M1334 1092h0M1341 1096h0M1340 1101h0M1344 1100h0M1345 1097h0M1341 1101h0M1346 1105h0M1350 1112h0M1351 1102h0M1349 1103h0M1347 1101h0M1353 1107h0M1358 1099h0M1358 1100h0M1362 1110h0M1361 1115h0M1358 1105h0M1362 1112h0M1358 1109h0M1361 1118h0M1362 1113h0M1369 1127h0M1366 1115h0M1373 1120h0M1372 1109h0M1371 1107h0M1374 1117h0M1374 1123h0M1374 1112h0M1383 1113h0M1379 1124h0M1376 1128h0M1378 1128h0M1379 1122h0M1380 1122h0M1387 1123h0M1375 1123h0M1385 1116h0M1380 1130h0M628 402h0M637 401h0M638 404h0M642 401h0M641 408h0M642 418h0M652 427h0M654 427h0" stroke="#2ca02c" stroke-opacity="0.42" stroke-width="7.4" stroke-linecap="round" fill="none"/><path d="M448 136h0M449 142h0M450 139h0M450 133h0M449 132h0M449 135h0M450 143h0M452 146h0M451 141h0M453 141h0M452 142h0M453 149h0M453 145h0M452 149h0M453 150h0M452 150h0M455 149h0M453 151h0M452 152h0M454 152h0M454 149h0M457 157h0" stroke="#1f77b4" stroke-opacity="0.42" stroke-width="7.4" stroke-linecap="round" fill="none"/><path d="M448 134h0M448 136h0M452 139h0M446 143h0M451 143h0M452 147h0M453 146h0M454 149h0M455 150h0M455 151h0M454 155h0M455 152h0M455 156h0M454 152h0M453 152h0M453 157h0M456 157h0M455 159h0M454 160h0" stroke="#1f77b4" stroke-opacity="0.42" stroke-width="7.4" stroke-linecap="round" fill="none"/><path d="M450 135h0M447 136h0M450 138h0M449 137h0M450 141h0M452 142h0M451 140h0M454 144h0M452 149h0M452 146h0M452 147h0M453 146h0M454 148h0M451 150h0M455 150h0M455 156h0M451 151h0M455 150h0M455 156h0M454 154h0M455 157h0M454 157h0M455 160h0M452 159h0" stroke="#1f77b4" stroke-opacity="0.42" stroke-width="7.4" stroke-linecap="round" fill="none"/><path d="M450 137h0M448 140h0M450 139h0M450 142h0M452 146h0M450 144h0M451 143h0M451 148h0M455 145h0M450 153h0M452 149h0M451 149h0M455 152h0M453 155h0M455 151h0M455 155h0M454 155h0M455 155h0M452 155h0M455 162h0M455 158h0" stroke="#1f77b4" stroke-opacity="0.42" stroke-width="7.4" stroke-linecap="round" fill="none"/><path d="M373 167h0M375 177h0M377 174h0M375 171h0M373 175h0M375 166h0M376 175h0M374 177h0M371 178h0M373 177h0M374 183h0M374 182h0M378 182h0M379 181h0M377 190h0M377 192h0M377 184h0M378 188h0M377 189h0M381 196h0M384 206h0M384 197h0M385 197h0M382 211h0M383 207h0M383 205h0M382 205h0M383 214h0M388 211h0M386 209h0M388 214h0M386 214h0M393 227h0M389 218h0M389 239h0M382 227h0M380 234h0M378 219h0M386 227h0M386 227h0M389 227h0M386 242h0M399 165h0M393 164h0M394 160h0M403 169h0M405 173h0M403 161h0M411 172h0M407 169h0M412 171h0M414 169h0M411 169h0M412 171h0M415 175h0M418 183h0M417 172h0M428 177h0M431 177h0M430 183h0M425 180h0M428 182h0M427 231h0M430 228h0M432 226h0M434 233h0M427 217h0M429 223h0M435 231h0M432 236h0M433 230h0M434 234h0M434 247h0M439 233h0M436 240h0M435 239h0M445 241h0M451 243h0M455 251h0M450 256h0M462 254h0M455 248h0M460 254h0M462 249h0M462 252h0M464 253h0M459 252h0M471 259h0M468 255h0M468 261h0M465 263h0M465 264h0M480 263h0M466 264h0M475 263h0M474 266h0M476 269h0M477 259h0M481 272h0M475 267h0M482 266h0M477 267h0M483 263h0M482 279h0M483 266h0M485 268h0M479 269h0M488 268h0M486 272h0M488 279h0M497 279h0M497 276h0M495 283h0M500 273h0M501 272h0M501 271h0M500 277h0M496 282h0M502 285h0M503 287h0M505 276h0M506 289h0M505 286h0M508 292h0M510 285h0M513 284h0M516 289h0M504 298h0M511 293h0M511 287h0M515 283h0M512 290h0M515 299h0M514 297h0M519 294h0M521 294h0M507 298h0M522 300h0M522 303h0M519 309h0M524 299h0M520 304h0M515 301h0M514 293h0M519 300h0M522 312h0M530 300h0M531 313h0M529 308h0M522 301h0M529 322h0M532 318h0M535 320h0M531 304h0M534 309h0M529 317h0M538 324h0M539 322h0M532 324h0M532 323h0M535 330h0M539 312h0M539 316h0M539 327h0M540 341h0M546 329h0M536 322h0M538 331h0M541 326h0M543 334h0M543 335h0M540 327h0M541 343h0M539 338h0M550 334h0M550 332h0M549 332h0M546 341h0M554 339h0M549 341h0M544 351h0M549 343h0M549 350h0M551 341h0M549 353h0M558 340h0M553 351h0M548 356h0M553 337h0M557 281h0M559 279h0M568 281h0M573 288h0M574 285h0M574 290h0M574 294h0M576 291h0M581 292h0M576 300h0M578 294h0M581 352h0M579 352h0M577 359h0M585 353h0M579 346h0M582 354h0M584 357h0M585 356h0M588 361h0M585 358h0M587 367h0M593 368h0M593 359h0M597 365h0M594 362h0M597 372h0M594 372h0M580 344h0M581 351h0M578 346h0M585 347h0M588 348h0M585 348h0M582 345h0M593 356h0M588 355h0M582 359h0M588 354h0M590 363h0M593 360h0M594 359h0M592 363h0M591 360h0M598 359h0M589 375h0M593 373h0M598 367h0M595 377h0M597 374h0M598 363h0M599 372h0M602 372h0M610 392h0M608 396h0M606 395h0M613 396h0M616 397h0M615 419h0M614 408h0M613 403h0M621 404h0M621 412h0M621 408h0M622 415h0M620 415h0M620 419h0M625 416h0M624 424h0M627 424h0M604 328h0M605 319h0M609 326h0M599 330h0M609 318h0M607 333h0M613 331h0M610 329h0M614 318h0M613 331h0M621 338h0M614 337h0M610 330h0M615 338h0M616 329h0M614 335h0M612 346h0M611 329h0M624 345h0M630 351h0M614 327h0M616 341h0M617 343h0M628 340h0M624 339h0M625 328h0M623 344h0M621 342h0M633 341h0M633 343h0M620 345h0M624 349h0M627 334h0M630 351h0M628 351h0M629 355h0M634 340h0M633 353h0M625 351h0M635 359h0M642 346h0M630 355h0M642 366h0M643 350h0M640 346h0M643 366h0M644 360h0M644 367h0M646 370h0M649 359h0M653 367h0M656 370h0M651 363h0M644 372h0M651 364h0M657 371h0M657 361h0M659 379h0M662 381h0M662 377h0M658 381h0M660 370h0M659 394h0M668 371h0M662 384h0M663 387h0M670 389h0M671 384h0M666 386h0M671 403h0M671 385h0M679 392h0M666 382h0M679 396h0M675 390h0M682 393h0M678 405h0M672 387h0M674 400h0M680 402h0M676 408h0M679 392h0M677 398h0M686 401h0M682 400h0M684 399h0M685 394h0M682 401h0M684 411h0M691 399h0M680 404h0M687 404h0M691 410h0M693 405h0M684 400h0M686 415h0M690 404h0M685 407h0M689 411h0M688 412h0M693 405h0M694 415h0M697 412h0M698 424h0M701 418h0M705 429h0M708 433h0M708 426h0M698 412h0M711 428h0M713 431h0M708 429h0M718 429h0M706 424h0M711 440h0M716 449h0M709 443h0M719 438h0M716 445h0M724 430h0M719 449h0M718 431h0M727 453h0M710 444h0M712 445h0M718 449h0M722 444h0M728 449h0M728 443h0M732 458h0M725 456h0M725 453h0M727 463h0M735 461h0M726 465h0M728 462h0M730 455h0M729 467h0M734 471h0M729 456h0M735 457h0M741 471h0M742 473h0M743 481h0M731 475h0M739 465h0M740 482h0M739 462h0M750 481h0M745 480h0M745 478h0M748 484h0M751 484h0M748 494h0M745 487h0M752 480h0M753 488h0M751 477h0M753 485h0M754 478h0M753 495h0M757 482h0M750 482h0M750 491h0M759 494h0M754 486h0M757 501h0M759 490h0M759 489h0M753 489h0M765 494h0M766 501h0M770 496h0M762 489h0M771 506h0M768 506h0M767 510h0M766 494h0M774 504h0M767 517h0M770 494h0M773 506h0M774 503h0M771 504h0M769 515h0M766 500h0M770 499h0M776 507h0M777 512h0M784 525h0M779 518h0M778 519h0M780 517h0M778 522h0M782 516h0M779 518h0M783 510h0M782 520h0M784 522h0M784 528h0M777 529h0M788 541h0M793 537h0M791 541h0M791 543h0M797 534h0M790 549h0M798 552h0M796 535h0M796 543h0M790 554h0M803 550h0M799 548h0M800 558h0M803 539h0M799 535h0M800 545h0M792 565h0M801 561h0M798 555h0M796 558h0M792 557h0M802 555h0M797 550h0M796 559h0M822 635h0M819 643h0M819 639h0M817 633h0M824 650h0M823 644h0M822 640h0M828 645h0M827 647h0M824 658h0M831 652h0M831 653h0M827 664h0M833 651h0M839 668h0M838 671h0M835 661h0M836 667h0M837 668h0M842 673h0M837 663h0M838 668h0M842 680h0M842 671h0M838 678h0M837 676h0M848 681h0M851 682h0M847 676h0M854 687h0M851 680h0M856 682h0M854 687h0M852 612h0M852 615h0M858 629h0M853 622h0M849 621h0M853 600h0M854 627h0M859 611h0M852 616h0M858 619h0M860 626h0M859 628h0M860 634h0M866 618h0M857 626h0M860 628h0M862 636h0M864 633h0M864 634h0M864 643h0M871 645h0M863 636h0M871 650h0M870 645h0M871 645h0M873 638h0M870 640h0M868 651h0M877 655h0M876 649h0M874 648h0M878 660h0M875 657h0M881 664h0M886 661h0M872 659h0M885 676h0M878 678h0M883 672h0M923 719h0M926 734h0M928 726h0M928 730h0M926 750h0M930 728h0M937 737h0M934 733h0M931 733h0M943 735h0M934 737h0M944 735h0M946 726h0M938 741h0M941 745h0M945 736h0M941 747h0M949 753h0M943 742h0M936 742h0M945 745h0M942 747h0M946 757h0M946 749h0M952 751h0M954 755h0M954 744h0M958 747h0M955 751h0M952 747h0M957 754h0M957 752h0M958 760h0M954 752h0M964 757h0M963 764h0M962 754h0M963 766h0M970 771h0M970 768h0M971 768h0M965 767h0M971 758h0M972 757h0M969 754h0M971 755h0M972 770h0M970 760h0M966 750h0M966 759h0M966 753h0M961 746h0M967 749h0M968 770h0M970 759h0M970 762h0M969 754h0M967 760h0M969 765h0M971 755h0M968 762h0M976 777h0M976 761h0M972 766h0M978 780h0M977 776h0M974 772h0M978 772h0M981 784h0M987 793h0M984 779h0M991 789h0M994 783h0M996 792h0M996 795h0M1007 795h0M999 794h0M1008 784h0M1005 791h0M999 789h0M996 788h0M1006 790h0M1007 796h0M1011 795h0M1008 793h0M1007 792h0M1007 808h0M1010 792h0M1009 801h0M1009 790h0M1005 794h0M1014 808h0M976 764h0M983 784h0M981 781h0M974 770h0M976 782h0M976 775h0M974 774h0M982 777h0M980 770h0M977 790h0M981 774h0M980 784h0M981 795h0M993 775h0M977 782h0M987 789h0M984 787h0M990 804h0M992 798h0M988 792h0M996 792h0M1002 788h0M993 803h0M995 793h0M995 804h0M1005 812h0M1003 808h0M1001 796h0M1005 805h0M1003 797h0M1004 805h0M1005 804h0M1012 809h0M1004 797h0M1003 812h0M1008 803h0M1014 807h0M1011 811h0M1016 812h0M1012 816h0M1020 828h0M1019 808h0M1026 810h0M1026 810h0M1020 821h0M1023 816h0M1025 823h0M1017 824h0M1028 826h0M1024 820h0M1023 821h0M1029 821h0M1029 819h0M1034 819h0M1035 821h0M1035 818h0M1036 829h0M1038 826h0M1040 834h0M1041 846h0M1035 827h0M1038 820h0M1037 832h0M1039 820h0M1044 839h0M1041 833h0M1044 831h0M1045 824h0M1044 835h0M1050 837h0M1043 848h0M1044 821h0M1048 853h0M1050 823h0M1055 839h0M1058 845h0M1040 835h0M1048 831h0M1052 836h0M1062 841h0M1052 828h0M1049 838h0M1057 832h0M1055 845h0M1053 834h0M1069 841h0M1059 837h0M1060 839h0M1072 848h0M1065 850h0M1071 840h0M1070 842h0M1067 842h0M1073 837h0M1072 854h0M1073 844h0M1080 854h0M1074 846h0M1077 846h0M1076 856h0M1081 847h0M1073 851h0M1084 845h0M1083 857h0M1085 851h0M1076 846h0M1078 850h0M1091 853h0M1089 852h0M1085 858h0M1079 863h0M1089 855h0M1079 858h0M1090 854h0M1091 839h0M1087 849h0M1083 857h0M1090 865h0M1090 864h0M1087 857h0M1091 849h0M1093 818h0M1093 816h0M1097 824h0M1095 830h0M1097 827h0M1096 830h0M1100 835h0M1099 833h0M1100 833h0M1098 836h0M1099 839h0M1101 843h0M1103 843h0M1105 870h0M1090 868h0M1101 873h0M1096 879h0M1101 862h0M1101 856h0M1097 887h0M1100 885h0M1101 880h0M1103 893h0M1106 870h0M1105 887h0M1114 885h0M1108 894h0M1115 884h0M1109 896h0M1108 885h0M1111 894h0M1117 880h0M1119 885h0M1118 901h0M1115 907h0M1119 907h0M1114 889h0M1123 885h0M1128 901h0M1131 895h0M1120 912h0M1127 908h0M1127 900h0M1136 914h0M1142 908h0M1134 907h0M1133 910h0M1130 916h0M1137 924h0M1140 912h0M1131 909h0M1146 925h0M1132 919h0M1144 922h0M1137 921h0M1145 910h0M1137 922h0M1153 923h0M1140 921h0M1135 917h0M1148 869h0M1143 860h0M1140 873h0M1142 864h0M1146 876h0M1141 870h0M1144 868h0M1146 871h0M1148 863h0M1150 871h0M1154 864h0M1155 869h0M1153 874h0M1154 872h0M1156 875h0M1157 869h0M1163 867h0M1167 856h0M1169 854h0M1170 864h0M1173 862h0M1173 867h0M1173 866h0M1174 870h0M1176 873h0M1177 872h0M1178 879h0M1181 878h0M1179 877h0M1180 877h0M1180 884h0M1181 882h0M1167 903h0M1162 913h0M1165 913h0M1165 899h0M1165 912h0M1168 921h0M1167 913h0M1163 911h0M1165 913h0M1167 915h0M1165 910h0M1171 925h0M1175 920h0M1173 915h0M1170 919h0M1171 912h0M1167 920h0M1171 918h0M1169 916h0M1171 914h0M1173 922h0M1177 930h0M1177 928h0M1185 930h0M1181 927h0M1184 929h0M1184 933h0M1183 931h0M1182 938h0M1185 940h0M1183 941h0M1184 934h0M1186 947h0M1191 947h0M1185 952h0M1190 948h0M1192 952h0M1191 949h0M1185 957h0M1189 870h0M1195 885h0M1207 891h0M1201 885h0M1201 880h0M1205 875h0M1204 889h0M1211 889h0M1203 889h0M1208 887h0M1211 883h0M1214 901h0M1210 906h0M1211 891h0M1213 901h0M1219 895h0M1208 902h0M1218 900h0M1221 887h0M1220 895h0M1223 888h0M1218 897h0M1220 899h0M1217 904h0M1218 896h0M1218 909h0M1230 915h0M1226 905h0M1228 897h0M1223 896h0M1227 904h0M1224 912h0M1225 910h0M1229 909h0M1233 902h0M1233 916h0M1244 920h0M1234 907h0M1229 904h0M1232 919h0M1234 916h0M1228 913h0M1238 912h0M1240 922h0M1237 922h0M1234 905h0M1231 925h0M1238 932h0M1232 919h0M1250 910h0M1242 928h0M1244 912h0M1242 915h0M1246 916h0M1245 920h0M1242 929h0M1242 921h0M1248 934h0M1254 917h0M1251 903h0M1259 912h0M1263 904h0M1264 910h0M1260 913h0M1267 907h0M1266 923h0M1263 904h0M1270 912h0M1270 910h0M1264 918h0M1268 914h0M1267 914h0M1274 920h0M1271 917h0M1268 912h0M1274 915h0M1268 929h0M1267 919h0M1275 917h0M1274 925h0M1278 918h0M1277 919h0M1276 915h0M1276 926h0M1277 921h0M1276 922h0M1277 923h0M1276 925h0M1282 931h0M1284 924h0M1283 926h0M1286 928h0M1287 929h0M1293 937h0M1286 940h0M1290 936h0M1289 935h0M1286 936h0M1291 936h0M1289 932h0M1289 946h0M1288 939h0M1288 945h0M1290 957h0M1289 946h0M1292 934h0M1295 950h0M1294 946h0M1295 946h0M1290 944h0M1301 939h0M1248 962h0M1244 960h0M1247 952h0M1246 954h0M1246 956h0M1252 951h0M1253 954h0M1251 957h0M1252 964h0M1253 961h0M1257 963h0M1255 964h0M1257 973h0M1261 970h0M1260 971h0M1261 967h0M1259 972h0M1352 955h0M1350 945h0M1350 944h0M1348 968h0M1351 945h0M1355 955h0M1353 957h0M1350 962h0M1359 956h0M1364 959h0M1359 956h0M1350 964h0M1358 961h0M1367 960h0M1366 979h0M1364 963h0M1369 962h0M1368 974h0M1367 968h0M1364 967h0M1364 972h0M1368 975h0M1369 961h0M1371 973h0M1371 956h0M1372 974h0M1372 975h0M1372 962h0M1373 976h0M1372 974h0M1379 973h0M1376 973h0M1372 982h0M1383 997h0M1381 985h0M1381 970h0M1378 987h0M1378 974h0M1382 985h0M1379 987h0M1387 980h0M1394 994h0M1389 986h0M1292 990h0M1301 989h0M1304 997h0M1302 996h0M1302 1001h0M1302 1005h0M1309 1004h0M1314 991h0M1313 1004h0M1307 1002h0M1308 998h0M1315 1007h0M1310 1007h0M1310 1005h0M1312 1001h0M1317 1012h0M1310 1003h0M1318 1012h0M1315 995h0M1310 1002h0M1317 1011h0M1316 1011h0M1327 1017h0M1323 1011h0M1319 1011h0M1328 1009h0M1322 1013h0M1323 1014h0M1331 1015h0M1331 1023h0M1334 1015h0M1332 1021h0M1339 1018h0M1330 1026h0M1338 1017h0M1334 1013h0M1335 1024h0M1342 1029h0M1346 1021h0M1342 1030h0M1344 1034h0M1347 1017h0M1350 1037h0M1347 1024h0M1356 1033h0M1347 1031h0M1347 1031h0M1388 1008h0M1395 1025h0M1393 1016h0M1401 1015h0M1391 1019h0M1391 1015h0M1397 1018h0M1394 1027h0M1393 1022h0M1394 1030h0M1398 1024h0M1397 1021h0M1400 1022h0M1395 1018h0M1400 1023h0M1407 1025h0M1392 1006h0M1398 1029h0M1403 1019h0M1402 1025h0M1401 1020h0M1399 1034h0M1408 1041h0M1403 1018h0M1409 1027h0M1406 1019h0M1408 1041h0M1406 1034h0M1416 1026h0M1403 1026h0M1412 1031h0M1414 1028h0M1420 1035h0M1414 1039h0M1416 1021h0M1425 1032h0M1417 1020h0M1422 1041h0M1417 1027h0M1421 1044h0M1418 1030h0M1416 1030h0M1424 1033h0M1425 1033h0M1424 1034h0M1425 1029h0M1428 1039h0M1425 1050h0M1422 1038h0M1431 1055h0M1427 1050h0M1425 1046h0M1427 1036h0M1430 1046h0M1431 1039h0M1437 1045h0M1431 1045h0M1430 1043h0M1429 1035h0M1436 1040h0M1429 1040h0M1433 1048h0M1436 1050h0M1432 1042h0M1437 1050h0M1438 1049h0M1442 1047h0M1444 1052h0M1443 1044h0M1442 1057h0M1442 1056h0M1447 1055h0M1446 1054h0M1450 1053h0M1449 1061h0M1448 1058h0M1454 1060h0M1454 1067h0M1454 1071h0M1459 1075h0M1462 1065h0M1465 1071h0M1472 1069h0M1469 1081h0M1481 1073h0M1477 1072h0M1483 1075h0M1486 1079h0M1492 1078h0M1493 1066h0M1498 1077h0M1496 1075h0M1504 1068h0M1508 1067h0M1509 1066h0M1508 1065h0M1512 1067h0M1510 1069h0M1515 1073h0M1520 1060h0M1521 1072h0M1514 1076h0M1518 1074h0M1517 1072h0M1523 1069h0M1524 1064h0M1523 1076h0M1526 1079h0M1521 1072h0M1536 1070h0M1527 1072h0M1534 1066h0M1533 1085h0M1533 1083h0M1537 1083h0M1543 1078h0M1541 1081h0M1538 1076h0M1560 1050h0M1561 1045h0M1566 1058h0M1561 1051h0M1567 1054h0M1571 1056h0M1568 1063h0M1571 1068h0M1568 1105h0M1576 1103h0M1575 1110h0M1579 1107h0M1581 1111h0M1580 1114h0M1579 1115h0M1581 1121h0M1583 1120h0M1585 1127h0M1597 1121h0M1599 1049h0M1592 1068h0M1601 1061h0M1594 1069h0M1599 1060h0M1598 1071h0M1604 1066h0M1597 1067h0M1600 1065h0M1603 1062h0M1594 1070h0M1605 1055h0M1607 1070h0M1607 1055h0M1606 1072h0M1607 1074h0M1608 1068h0M1605 1070h0M1608 1069h0M1607 1069h0M1609 1073h0M1607 1067h0M1613 1070h0M1616 1069h0M1621 1077h0M1623 1071h0M1615 1060h0M1621 1057h0M1631 1079h0M1621 1075h0M1631 1078h0M1634 1076h0M1641 1074h0M1632 1065h0M1633 1081h0M1630 1077h0M1634 1084h0M1630 1075h0M1644 1080h0M1645 1074h0M1637 1073h0M1641 1076h0M1642 1077h0M1634 1088h0M1646 1084h0M1648 1084h0M1648 1083h0M1646 1086h0M1652 1081h0M1650 1084h0M1653 1084h0M1652 1078h0M1647 1085h0M1653 1082h0M1657 1072h0M1658 1081h0M1664 1076h0M1663 1080h0M1669 1089h0M1665 1093h0M1669 1083h0M1669 1092h0M1665 1079h0M1665 1087h0M1661 1091h0M1662 1084h0M1671 1091h0M1674 1078h0M1674 1085h0M1671 1085h0M1670 1095h0M1673 1088h0M1673 1101h0M1679 1083h0M1684 1088h0M1669 1100h0M1681 1095h0M1676 1101h0M1683 1093h0M1685 1097h0M1677 1107h0M1688 1108h0M1692 1121h0M1694 1108h0M1694 1109h0M1689 1110h0M1689 1104h0M1694 1111h0M1699 1111h0M1694 1103h0M1710 1122h0M1702 1122h0M1712 1116h0M1699 1106h0M1712 1104h0M1706 1113h0M1708 1123h0M1714 1117h0M1712 1115h0M1712 1111h0M1715 1111h0M1711 1108h0M1713 1124h0M1712 1101h0M1715 1129h0M1721 1126h0M1723 1124h0M1719 1132h0M1727 1120h0M1719 1112h0M1726 1113h0M1727 1128h0M1727 1120h0M1725 1117h0M1741 1116h0M1736 1113h0M1733 1113h0M1734 1112h0M1737 1119h0M1729 1126h0M1736 1122h0M1739 1132h0M1736 1123h0M1737 1131h0M1741 1109h0M1740 1121h0M1749 1122h0M1747 1127h0M1744 1118h0M1740 1125h0M1752 1119h0M1745 1126h0M1756 1132h0M1744 1121h0M1761 1126h0M1749 1134h0M1760 1126h0M1754 1123h0M1754 1130h0M1752 1133h0M1755 1132h0M1768 1122h0M1767 1132h0M1767 1127h0M1765 1128h0M1761 1128h0M1767 1124h0M1763 1126h0M1765 1144h0M1766 1140h0M1772 1130h0M1758 1134h0M1344 940h0M1350 946h0M1349 952h0M1347 950h0M1346 948h0M1354 954h0M1351 962h0M1350 961h0M1350 961h0M1355 962h0M1357 973h0M1358 966h0M1354 971h0M1353 969h0M1354 970h0M1360 969h0M1356 978h0M1357 981h0" stroke="#d62728" stroke-opacity="0.42" stroke-width="7.4" stroke-linecap="round" fill="none"/><path d="M375 165h0M377 174h0M376 171h0M376 177h0M374 177h0M372 173h0M378 179h0M375 177h0M373 178h0M375 180h0M377 176h0M374 191h0M375 189h0M377 188h0M378 188h0M380 193h0M379 187h0M381 192h0M377 195h0M382 192h0M381 191h0M377 191h0M381 198h0M380 201h0M377 202h0M378 198h0M382 206h0M384 203h0M386 201h0M386 207h0M387 195h0M387 209h0M389 201h0M389 212h0M387 219h0M381 207h0M384 209h0M383 204h0M381 217h0M391 218h0M383 222h0M386 219h0M392 217h0M390 227h0M387 232h0M385 213h0M390 235h0M385 224h0M400 166h0M400 163h0M402 160h0M407 164h0M410 167h0M413 164h0M413 173h0M412 172h0M417 170h0M421 187h0M425 186h0M430 188h0M430 189h0M425 189h0M431 224h0M430 233h0M431 238h0M433 234h0M433 222h0M436 221h0M430 243h0M438 230h0M428 230h0M436 228h0M428 227h0M434 227h0M434 236h0M438 248h0M441 237h0M443 236h0M442 251h0M447 250h0M457 258h0M452 245h0M451 239h0M453 252h0M457 243h0M460 255h0M451 238h0M454 250h0M468 250h0M456 261h0M466 259h0M460 266h0M464 259h0M469 261h0M469 258h0M475 262h0M478 253h0M470 264h0M475 258h0M472 253h0M478 264h0M480 274h0M474 264h0M478 270h0M477 273h0M485 273h0M477 265h0M482 274h0M485 266h0M489 265h0M484 267h0M483 271h0M493 270h0M493 282h0M493 279h0M495 284h0M497 280h0M497 281h0M499 277h0M501 284h0M502 283h0M504 284h0M503 279h0M506 283h0M509 283h0M503 277h0M504 291h0M511 289h0M510 281h0M512 294h0M510 283h0M518 302h0M512 298h0M518 296h0M514 299h0M518 296h0M521 292h0M518 291h0M519 313h0M520 308h0M530 309h0M523 309h0M526 321h0M525 307h0M533 316h0M532 328h0M536 323h0M540 326h0M535 331h0M540 330h0M540 332h0M537 324h0M542 324h0M539 327h0M541 324h0M548 345h0M536 329h0M547 327h0M541 333h0M548 338h0M544 335h0M544 333h0M554 329h0M551 340h0M549 347h0M558 338h0M556 357h0M557 350h0M552 347h0M552 341h0M554 341h0M560 356h0M561 276h0M558 277h0M563 284h0M567 287h0M562 280h0M563 274h0M561 278h0M566 278h0M568 282h0M570 275h0M569 283h0M570 293h0M572 293h0M581 284h0M579 294h0M583 349h0M576 359h0M584 355h0M585 359h0M589 350h0M589 370h0M604 380h0M586 360h0M582 359h0M592 351h0M587 365h0M591 364h0M593 359h0M591 358h0M594 360h0M598 368h0M604 367h0M593 365h0M601 373h0M600 382h0M601 382h0M601 377h0M602 372h0M610 395h0M609 386h0M613 397h0M614 399h0M614 397h0M613 402h0M607 390h0M613 408h0M618 405h0M619 406h0M616 408h0M619 414h0M623 412h0M624 410h0M624 419h0M627 420h0M623 419h0M627 420h0M598 323h0M604 322h0M613 330h0M621 330h0M613 337h0M617 341h0M622 331h0M620 339h0M619 331h0M624 342h0M623 342h0M618 345h0M618 346h0M619 335h0M624 340h0M629 344h0M631 335h0M622 339h0M629 342h0M637 339h0M637 346h0M642 359h0M645 362h0M639 354h0M646 348h0M647 357h0M635 357h0M640 363h0M641 350h0M642 352h0M637 365h0M642 362h0M643 366h0M645 363h0M652 366h0M647 374h0M654 373h0M650 373h0M664 372h0M658 374h0M657 378h0M661 377h0M658 372h0M664 374h0M659 377h0M656 388h0M665 377h0M661 370h0M663 383h0M665 376h0M665 371h0M665 374h0M665 382h0M667 391h0M666 385h0M666 394h0M661 390h0M675 389h0M673 387h0M680 388h0M673 386h0M676 397h0M680 400h0M684 405h0M687 390h0M676 395h0M681 407h0M686 406h0M690 396h0M683 413h0M686 394h0M687 415h0M688 410h0M686 413h0M695 408h0M692 391h0M684 416h0M696 430h0M691 411h0M689 415h0M695 409h0M698 417h0M697 410h0M701 412h0M705 418h0M694 429h0M701 437h0M703 437h0M702 423h0M704 424h0M710 434h0M711 434h0M708 437h0M712 439h0M704 430h0M707 433h0M716 436h0M715 431h0M719 442h0M714 448h0M720 446h0M718 448h0M715 432h0M709 440h0M722 438h0M713 444h0M727 433h0M722 449h0M723 460h0M720 455h0M720 453h0M718 448h0M722 451h0M723 457h0M720 469h0M728 456h0M722 459h0M723 462h0M724 455h0M726 443h0M733 445h0M732 463h0M732 466h0M737 466h0M736 462h0M741 466h0M735 453h0M735 469h0M734 473h0M734 457h0M738 478h0M741 468h0M737 467h0M735 463h0M741 476h0M745 470h0M742 473h0M743 477h0M744 478h0M740 462h0M748 479h0M744 462h0M746 474h0M733 477h0M751 477h0M745 493h0M746 499h0M757 473h0M755 486h0M748 485h0M759 499h0M752 478h0M760 504h0M758 488h0M758 484h0M759 489h0M761 502h0M752 497h0M757 494h0M765 510h0M767 509h0M769 500h0M769 499h0M773 496h0M769 508h0M776 513h0M777 518h0M770 510h0M777 517h0M778 516h0M783 519h0M784 523h0M782 516h0M784 518h0M783 520h0M795 520h0M794 508h0M782 528h0M791 512h0M778 525h0M787 532h0M792 535h0M781 528h0M781 529h0M792 521h0M795 539h0M789 533h0M792 526h0M800 535h0M788 536h0M794 539h0M785 524h0M793 533h0M802 526h0M796 546h0M798 551h0M798 542h0M787 551h0M795 538h0M799 554h0M797 538h0M803 550h0M798 544h0M800 550h0M799 547h0M799 560h0M798 558h0M799 573h0M795 561h0M801 564h0M790 558h0M800 569h0M801 563h0M813 634h0M816 633h0M819 637h0M824 648h0M832 640h0M824 640h0M819 648h0M826 652h0M824 642h0M829 664h0M825 648h0M832 655h0M831 649h0M834 660h0M830 646h0M829 668h0M839 659h0M836 659h0M834 659h0M839 662h0M839 680h0M842 677h0M842 680h0M844 680h0M843 686h0M849 684h0M848 680h0M845 686h0M851 688h0M846 678h0M850 679h0M855 675h0M855 699h0M852 701h0M854 676h0M854 695h0M849 609h0M852 616h0M847 625h0M854 613h0M853 614h0M857 622h0M850 614h0M854 617h0M859 622h0M861 625h0M863 633h0M870 640h0M866 646h0M867 629h0M867 643h0M867 642h0M870 639h0M868 632h0M869 633h0M869 631h0M863 642h0M864 642h0M869 651h0M871 651h0M866 649h0M869 646h0M871 650h0M869 645h0M875 646h0M870 645h0M879 649h0M880 654h0M870 649h0M876 657h0M880 656h0M879 667h0M876 666h0M881 657h0M886 672h0M882 669h0M928 733h0M929 728h0M928 726h0M927 734h0M929 738h0M933 740h0M927 733h0M935 746h0M933 734h0M936 744h0M936 730h0M943 737h0M937 741h0M939 735h0M948 746h0M941 755h0M954 739h0M949 759h0M958 746h0M950 748h0M950 743h0M956 737h0M952 759h0M956 763h0M952 750h0M961 756h0M956 751h0M959 756h0M963 759h0M966 755h0M961 763h0M963 752h0M963 755h0M965 757h0M970 756h0M967 752h0M973 750h0M961 751h0M962 757h0M960 755h0M961 758h0M967 749h0M962 756h0M971 760h0M970 763h0M965 764h0M972 767h0M975 763h0M977 771h0M975 773h0M974 768h0M979 773h0M974 781h0M980 769h0M982 774h0M980 781h0M984 781h0M982 781h0M983 782h0M986 783h0M987 777h0M984 775h0M985 790h0M988 779h0M986 778h0M988 785h0M984 782h0M987 784h0M982 786h0M986 780h0M989 785h0M996 795h0M998 789h0M991 790h0M994 791h0M996 795h0M998 792h0M1010 791h0M1004 794h0M1012 796h0M1011 806h0M976 776h0M977 785h0M973 780h0M975 775h0M981 779h0M975 781h0M982 792h0M982 788h0M986 796h0M985 778h0M984 788h0M980 780h0M993 790h0M987 783h0M997 784h0M992 798h0M994 783h0M996 797h0M989 805h0M984 790h0M995 801h0M989 791h0M998 802h0M994 800h0M998 796h0M1000 801h0M991 805h0M1013 803h0M1000 790h0M1007 801h0M1003 804h0M998 805h0M1005 794h0M1011 804h0M1011 800h0M1011 800h0M1014 809h0M1015 811h0M1014 801h0M1018 808h0M1007 802h0M1016 815h0M1017 808h0M1022 810h0M1021 813h0M1018 816h0M1024 822h0M1025 814h0M1030 826h0M1026 811h0M1033 821h0M1033 815h0M1025 813h0M1034 824h0M1029 820h0M1031 826h0M1020 825h0M1033 818h0M1035 817h0M1037 824h0M1033 826h0M1030 820h0M1041 830h0M1033 832h0M1043 830h0M1033 846h0M1039 816h0M1043 840h0M1052 843h0M1046 842h0M1047 826h0M1051 831h0M1051 833h0M1048 835h0M1052 837h0M1053 833h0M1073 854h0M1055 848h0M1068 848h0M1065 839h0M1056 848h0M1075 843h0M1064 835h0M1065 850h0M1067 848h0M1072 857h0M1079 848h0M1077 836h0M1087 860h0M1084 863h0M1078 840h0M1093 845h0M1089 845h0M1089 845h0M1083 869h0M1085 853h0M1086 860h0M1097 857h0M1092 849h0M1088 857h0M1098 862h0M1094 860h0M1096 843h0M1094 814h0M1094 816h0M1096 818h0M1095 822h0M1097 831h0M1100 829h0M1097 836h0M1100 837h0M1102 842h0M1102 836h0M1100 870h0M1099 881h0M1097 878h0M1106 875h0M1097 868h0M1099 876h0M1112 881h0M1102 874h0M1102 888h0M1111 874h0M1109 881h0M1106 902h0M1123 910h0M1119 897h0M1111 912h0M1123 885h0M1117 899h0M1120 891h0M1116 901h0M1127 903h0M1121 905h0M1119 889h0M1125 903h0M1130 886h0M1125 912h0M1130 902h0M1125 906h0M1119 896h0M1141 913h0M1132 915h0M1136 887h0M1132 934h0M1134 902h0M1128 891h0M1138 896h0M1132 897h0M1135 902h0M1136 918h0M1130 915h0M1139 925h0M1140 910h0M1147 929h0M1140 920h0M1140 915h0M1147 917h0M1140 914h0M1143 935h0M1143 919h0M1144 924h0M1143 863h0M1144 867h0M1144 870h0M1150 871h0M1148 864h0M1147 869h0M1150 871h0M1149 875h0M1151 869h0M1148 865h0M1153 867h0M1151 869h0M1151 875h0M1152 879h0M1157 874h0M1159 878h0M1155 869h0M1158 876h0M1169 859h0M1168 857h0M1170 864h0M1173 868h0M1172 870h0M1177 878h0M1180 879h0M1176 880h0M1180 883h0M1178 880h0M1158 898h0M1167 905h0M1163 917h0M1166 918h0M1166 905h0M1162 913h0M1166 907h0M1166 907h0M1172 920h0M1175 914h0M1168 907h0M1169 917h0M1171 916h0M1170 917h0M1170 922h0M1174 915h0M1174 907h0M1178 930h0M1176 922h0M1174 920h0M1174 917h0M1182 938h0M1182 929h0M1178 929h0M1176 935h0M1186 933h0M1180 928h0M1183 939h0M1182 940h0M1190 934h0M1188 942h0M1188 938h0M1183 946h0M1189 942h0M1183 933h0M1187 941h0M1193 948h0M1185 950h0M1183 951h0M1191 954h0M1185 956h0M1190 945h0M1190 950h0M1188 949h0M1196 945h0M1202 869h0M1202 875h0M1193 883h0M1200 878h0M1200 880h0M1201 891h0M1209 886h0M1206 867h0M1205 889h0M1207 897h0M1201 894h0M1219 876h0M1208 895h0M1216 897h0M1202 894h0M1219 891h0M1216 887h0M1215 885h0M1215 903h0M1212 902h0M1215 898h0M1222 886h0M1217 893h0M1222 907h0M1216 903h0M1224 906h0M1218 890h0M1224 903h0M1223 920h0M1227 918h0M1226 899h0M1228 897h0M1228 905h0M1225 908h0M1232 894h0M1230 914h0M1228 903h0M1227 907h0M1232 911h0M1236 901h0M1237 915h0M1233 903h0M1241 916h0M1240 918h0M1230 920h0M1240 913h0M1243 914h0M1233 917h0M1243 904h0M1243 922h0M1236 928h0M1245 923h0M1244 924h0M1246 928h0M1250 940h0M1234 929h0M1243 926h0M1240 925h0M1261 905h0M1254 908h0M1264 905h0M1262 907h0M1262 921h0M1266 908h0M1269 913h0M1262 914h0M1264 921h0M1256 914h0M1276 919h0M1268 925h0M1271 919h0M1273 915h0M1276 920h0M1273 929h0M1274 942h0M1276 917h0M1275 928h0M1280 936h0M1279 921h0M1280 921h0M1277 924h0M1270 931h0M1286 927h0M1287 929h0M1289 938h0M1285 941h0M1288 930h0M1283 952h0M1290 936h0M1297 942h0M1290 946h0M1295 945h0M1297 950h0M1298 948h0M1296 955h0M1247 950h0M1252 960h0M1256 965h0M1252 961h0M1257 964h0M1253 967h0M1256 971h0M1258 969h0M1254 965h0M1262 968h0M1259 977h0M1348 942h0M1347 945h0M1348 940h0M1354 947h0M1347 948h0M1350 951h0M1356 941h0M1353 942h0M1354 953h0M1356 947h0M1355 945h0M1355 955h0M1363 960h0M1364 964h0M1362 968h0M1369 973h0M1366 961h0M1365 975h0M1368 969h0M1367 971h0M1374 963h0M1377 964h0M1372 978h0M1374 967h0M1376 974h0M1371 976h0M1375 977h0M1373 977h0M1371 981h0M1381 974h0M1376 979h0M1379 975h0M1374 976h0M1376 982h0M1381 985h0M1380 981h0M1389 987h0M1390 982h0M1294 1002h0M1299 1002h0M1295 993h0M1300 987h0M1298 989h0M1302 985h0M1302 996h0M1300 982h0M1306 1006h0M1297 1007h0M1308 995h0M1299 1000h0M1303 996h0M1305 995h0M1308 1012h0M1306 1002h0M1311 1007h0M1301 1009h0M1304 999h0M1306 1001h0M1313 1006h0M1317 1002h0M1317 1013h0M1316 1011h0M1312 1016h0M1328 1021h0M1315 1005h0M1317 1015h0M1317 1019h0M1329 1021h0M1327 1022h0M1334 1016h0M1331 1007h0M1334 1017h0M1337 1035h0M1335 1028h0M1341 1018h0M1338 1013h0M1340 1025h0M1341 1026h0M1340 1033h0M1329 1032h0M1347 1031h0M1344 1034h0M1345 1031h0M1339 1039h0M1350 1029h0M1344 1029h0M1346 1032h0M1348 1031h0M1354 1027h0M1355 1027h0M1350 1032h0M1348 1033h0M1383 1004h0M1388 1017h0M1392 1017h0M1398 1024h0M1391 1015h0M1391 1021h0M1400 1015h0M1389 1024h0M1397 1019h0M1394 1027h0M1400 1024h0M1399 1038h0M1398 1020h0M1407 1033h0M1406 1029h0M1409 1031h0M1416 1028h0M1411 1038h0M1408 1029h0M1412 1029h0M1406 1021h0M1417 1036h0M1414 1036h0M1419 1036h0M1421 1037h0M1418 1039h0M1420 1045h0M1426 1043h0M1423 1037h0M1426 1038h0M1426 1040h0M1431 1037h0M1432 1041h0M1438 1051h0M1437 1064h0M1440 1040h0M1435 1048h0M1440 1044h0M1441 1051h0M1438 1054h0M1438 1051h0M1433 1066h0M1444 1063h0M1451 1052h0M1450 1056h0M1454 1055h0M1462 1063h0M1475 1065h0M1471 1074h0M1479 1075h0M1472 1076h0M1476 1079h0M1484 1083h0M1498 1076h0M1492 1083h0M1497 1065h0M1490 1078h0M1496 1081h0M1500 1053h0M1497 1067h0M1500 1079h0M1495 1061h0M1507 1076h0M1504 1064h0M1512 1079h0M1520 1076h0M1522 1070h0M1522 1076h0M1527 1068h0M1521 1073h0M1533 1074h0M1533 1082h0M1539 1076h0M1534 1082h0M1536 1066h0M1535 1074h0M1540 1083h0M1551 1043h0M1549 1053h0M1558 1053h0M1561 1049h0M1558 1051h0M1562 1056h0M1558 1049h0M1565 1057h0M1561 1056h0M1563 1056h0M1566 1056h0M1571 1064h0M1565 1058h0M1567 1055h0M1568 1063h0M1567 1058h0M1565 1067h0M1569 1066h0M1574 1063h0M1574 1072h0M1571 1070h0M1570 1061h0M1569 1106h0M1578 1103h0M1573 1111h0M1570 1102h0M1577 1104h0M1576 1113h0M1580 1110h0M1584 1109h0M1580 1118h0M1582 1125h0M1584 1118h0M1588 1120h0M1584 1125h0M1582 1123h0M1583 1126h0M1585 1120h0M1591 1129h0M1589 1060h0M1589 1069h0M1589 1070h0M1592 1062h0M1594 1050h0M1595 1065h0M1598 1067h0M1595 1062h0M1598 1064h0M1593 1066h0M1598 1069h0M1598 1061h0M1610 1069h0M1603 1060h0M1606 1070h0M1611 1070h0M1619 1068h0M1616 1073h0M1621 1070h0M1618 1070h0M1610 1072h0M1619 1065h0M1626 1061h0M1623 1075h0M1628 1083h0M1623 1070h0M1630 1075h0M1632 1070h0M1638 1066h0M1641 1070h0M1634 1076h0M1635 1075h0M1640 1076h0M1632 1085h0M1641 1071h0M1649 1071h0M1644 1085h0M1644 1087h0M1645 1086h0M1654 1083h0M1646 1085h0M1646 1091h0M1659 1074h0M1658 1076h0M1659 1087h0M1665 1086h0M1670 1096h0M1661 1077h0M1663 1084h0M1668 1071h0M1670 1087h0M1670 1081h0M1672 1091h0M1667 1089h0M1674 1085h0M1673 1087h0M1667 1088h0M1678 1088h0M1676 1095h0M1671 1094h0M1681 1091h0M1674 1097h0M1671 1093h0M1676 1088h0M1680 1097h0M1686 1085h0M1677 1087h0M1679 1087h0M1675 1094h0M1681 1096h0M1678 1098h0M1678 1091h0M1682 1091h0M1681 1100h0M1689 1087h0M1682 1100h0M1684 1101h0M1682 1102h0M1696 1107h0M1693 1113h0M1711 1097h0M1701 1107h0M1697 1117h0M1699 1111h0M1706 1113h0M1701 1105h0M1698 1120h0M1702 1106h0M1696 1113h0M1701 1115h0M1704 1112h0M1708 1121h0M1706 1117h0M1705 1117h0M1709 1114h0M1709 1127h0M1719 1111h0M1717 1122h0M1711 1120h0M1724 1105h0M1719 1114h0M1725 1116h0M1725 1130h0M1725 1130h0M1731 1108h0M1731 1121h0M1730 1102h0M1734 1124h0M1735 1122h0M1743 1123h0M1742 1121h0M1744 1120h0M1749 1122h0M1738 1122h0M1743 1119h0M1743 1134h0M1748 1125h0M1744 1118h0M1748 1117h0M1756 1120h0M1745 1125h0M1740 1130h0M1750 1107h0M1754 1124h0M1754 1128h0M1754 1116h0M1755 1127h0M1757 1123h0M1755 1133h0M1759 1129h0M1757 1133h0M1758 1123h0M1767 1123h0M1764 1121h0M1765 1151h0M1769 1137h0M1773 1121h0M1764 1145h0M1776 1135h0M1346 939h0M1345 943h0M1346 946h0M1347 947h0M1351 949h0M1350 956h0M1352 963h0M1353 966h0M1355 968h0M1359 972h0M1359 974h0M1356 976h0M1356 977h0M1358 972h0M1355 975h0" stroke="#d62728" stroke-opacity="0.42" stroke-width="7.4" stroke-linecap="round" fill="none"/><path d="M372 160h0M377 166h0M373 169h0M373 165h0M373 171h0M374 173h0M374 173h0M372 172h0M376 175h0M373 180h0M377 181h0M372 183h0M373 183h0M373 185h0M374 198h0M378 191h0M379 203h0M379 197h0M384 202h0M388 202h0M386 190h0M390 209h0M381 198h0M383 214h0M389 208h0M389 202h0M390 202h0M389 203h0M388 208h0M387 221h0M387 208h0M386 224h0M391 217h0M390 214h0M390 202h0M386 226h0M389 212h0M385 223h0M392 231h0M392 220h0M385 225h0M391 230h0M393 153h0M397 155h0M396 161h0M391 165h0M401 161h0M403 164h0M405 166h0M402 162h0M406 172h0M411 178h0M407 173h0M407 169h0M411 171h0M412 169h0M414 168h0M413 165h0M415 169h0M413 176h0M423 177h0M420 175h0M430 177h0M428 184h0M428 228h0M428 224h0M437 231h0M436 226h0M431 230h0M433 245h0M444 232h0M430 234h0M439 240h0M437 238h0M441 224h0M437 245h0M435 238h0M438 233h0M441 235h0M436 236h0M448 242h0M435 240h0M442 247h0M447 239h0M446 253h0M437 254h0M450 238h0M443 238h0M453 253h0M447 246h0M449 246h0M453 259h0M454 244h0M446 260h0M460 255h0M448 241h0M459 244h0M457 260h0M457 248h0M460 255h0M452 263h0M456 251h0M458 266h0M461 258h0M466 258h0M455 255h0M464 267h0M459 253h0M464 272h0M466 261h0M459 262h0M471 259h0M465 275h0M472 261h0M468 269h0M473 267h0M477 269h0M479 271h0M484 267h0M475 266h0M483 260h0M478 262h0M496 271h0M487 280h0M482 274h0M488 271h0M497 274h0M490 272h0M493 271h0M494 268h0M502 275h0M502 278h0M501 286h0M499 279h0M499 275h0M507 290h0M500 280h0M509 282h0M510 278h0M510 285h0M507 292h0M513 286h0M508 297h0M513 286h0M511 300h0M518 294h0M513 298h0M516 298h0M515 298h0M514 285h0M514 296h0M517 300h0M517 295h0M528 303h0M521 310h0M530 306h0M518 295h0M511 301h0M513 308h0M520 302h0M519 313h0M520 296h0M524 297h0M519 308h0M521 299h0M524 317h0M524 302h0M528 309h0M531 314h0M524 311h0M529 327h0M528 318h0M536 313h0M535 319h0M536 315h0M544 315h0M537 320h0M528 323h0M538 325h0M539 335h0M540 327h0M538 325h0M533 335h0M538 330h0M537 320h0M538 341h0M544 339h0M544 333h0M539 336h0M543 346h0M548 331h0M548 332h0M544 330h0M545 327h0M545 338h0M543 324h0M543 325h0M542 348h0M543 342h0M554 343h0M545 347h0M544 343h0M549 343h0M551 348h0M559 350h0M547 343h0M553 354h0M554 276h0M557 272h0M560 275h0M564 276h0M567 283h0M562 281h0M563 282h0M570 283h0M574 284h0M570 295h0M587 351h0M583 351h0M581 352h0M583 363h0M583 356h0M587 362h0M588 354h0M586 354h0M589 360h0M592 363h0M592 359h0M593 360h0M594 364h0M592 365h0M593 368h0M599 366h0M600 370h0M580 347h0M578 351h0M577 359h0M585 356h0M582 356h0M592 354h0M586 351h0M593 358h0M591 356h0M591 359h0M592 359h0M589 361h0M588 348h0M592 361h0M593 358h0M592 356h0M601 368h0M594 373h0M596 375h0M595 368h0M594 367h0M597 374h0M602 369h0M607 393h0M612 391h0M607 398h0M612 399h0M609 401h0M616 398h0M616 397h0M615 407h0M619 405h0M615 411h0M622 419h0M619 407h0M620 406h0M621 403h0M620 414h0M620 416h0M619 414h0M620 414h0M623 418h0M625 413h0M624 423h0M626 414h0M628 421h0M626 420h0M605 334h0M613 326h0M597 331h0M619 332h0M615 326h0M604 324h0M611 334h0M612 333h0M621 329h0M617 342h0M620 344h0M616 328h0M621 337h0M609 336h0M620 348h0M627 349h0M620 348h0M621 333h0M623 357h0M622 326h0M627 338h0M631 351h0M627 338h0M630 345h0M629 332h0M636 344h0M637 345h0M636 343h0M637 340h0M641 356h0M635 355h0M632 349h0M636 362h0M642 349h0M630 367h0M638 358h0M639 359h0M644 357h0M646 353h0M646 366h0M631 352h0M643 355h0M645 360h0M652 352h0M646 362h0M650 364h0M646 351h0M654 362h0M647 356h0M656 369h0M652 352h0M655 369h0M664 370h0M660 365h0M656 379h0M664 382h0M661 380h0M661 361h0M659 366h0M662 369h0M659 375h0M663 370h0M664 367h0M664 380h0M663 380h0M666 384h0M664 396h0M666 386h0M662 384h0M668 393h0M662 388h0M667 393h0M665 395h0M668 385h0M669 396h0M667 373h0M669 390h0M668 391h0M666 396h0M679 404h0M680 385h0M675 390h0M672 385h0M676 378h0M683 398h0M669 403h0M682 394h0M681 389h0M679 390h0M683 396h0M678 390h0M687 398h0M693 414h0M691 401h0M686 426h0M689 403h0M691 394h0M684 396h0M688 408h0M688 412h0M690 411h0M695 411h0M685 419h0M691 421h0M695 404h0M692 410h0M686 395h0M691 415h0M689 415h0M700 417h0M696 417h0M692 423h0M701 426h0M694 416h0M712 416h0M698 425h0M704 406h0M701 419h0M703 425h0M710 426h0M706 432h0M699 422h0M700 424h0M698 416h0M703 427h0M703 424h0M710 432h0M714 428h0M701 422h0M714 426h0M711 434h0M703 433h0M711 424h0M711 436h0M711 430h0M711 436h0M718 446h0M717 430h0M717 430h0M718 450h0M718 453h0M730 452h0M724 430h0M719 453h0M716 461h0M722 439h0M724 456h0M733 469h0M721 453h0M734 458h0M736 449h0M742 464h0M733 470h0M736 458h0M736 470h0M737 468h0M747 473h0M731 463h0M735 477h0M745 495h0M742 470h0M742 468h0M747 476h0M741 481h0M751 476h0M746 473h0M744 473h0M750 480h0M750 487h0M748 477h0M751 495h0M746 483h0M748 486h0M749 484h0M747 489h0M749 483h0M752 479h0M754 499h0M758 490h0M761 494h0M753 505h0M750 495h0M759 491h0M751 506h0M755 481h0M761 489h0M763 496h0M757 500h0M761 499h0M765 508h0M758 489h0M762 502h0M764 503h0M771 508h0M762 504h0M760 499h0M767 497h0M767 499h0M763 507h0M772 506h0M764 507h0M777 513h0M769 516h0M768 520h0M776 506h0M777 504h0M774 509h0M770 509h0M782 508h0M787 511h0M778 525h0M780 520h0M782 518h0M785 525h0M783 523h0M779 526h0M784 525h0M780 527h0M789 523h0M786 515h0M785 516h0M787 528h0M789 528h0M794 518h0M790 535h0M789 525h0M790 529h0M786 532h0M794 524h0M789 533h0M794 538h0M793 542h0M787 526h0M798 540h0M799 549h0M797 542h0M787 543h0M797 538h0M795 539h0M797 542h0M795 544h0M801 551h0M793 553h0M800 561h0M802 562h0M802 543h0M796 557h0M806 558h0M798 556h0M814 631h0M809 638h0M814 641h0M814 641h0M828 649h0M831 661h0M832 673h0M842 661h0M834 656h0M832 671h0M836 666h0M846 678h0M846 674h0M836 671h0M838 673h0M836 676h0M841 677h0M839 684h0M840 668h0M847 692h0M856 684h0M848 616h0M850 623h0M848 605h0M866 627h0M851 613h0M854 623h0M853 615h0M852 626h0M851 612h0M851 612h0M854 627h0M855 610h0M857 626h0M857 628h0M856 621h0M857 632h0M859 622h0M860 633h0M864 633h0M859 641h0M864 637h0M863 639h0M868 640h0M867 653h0M864 648h0M864 628h0M865 654h0M867 642h0M868 652h0M878 640h0M863 640h0M877 650h0M875 647h0M873 664h0M879 660h0M879 649h0M871 649h0M872 656h0M873 663h0M870 657h0M883 659h0M879 665h0M875 659h0M885 665h0M882 666h0M884 664h0M885 665h0M883 664h0M894 675h0M884 673h0M882 673h0M888 674h0M886 673h0M928 732h0M926 739h0M921 724h0M920 730h0M926 738h0M932 730h0M926 734h0M929 737h0M931 744h0M929 734h0M926 729h0M937 734h0M933 735h0M933 749h0M937 738h0M941 738h0M936 748h0M935 749h0M944 744h0M943 740h0M946 747h0M939 737h0M953 746h0M948 745h0M947 746h0M954 745h0M949 748h0M953 756h0M953 757h0M956 760h0M953 745h0M957 764h0M958 753h0M964 757h0M958 751h0M956 754h0M959 759h0M963 749h0M964 766h0M970 764h0M970 752h0M973 766h0M973 766h0M974 763h0M973 762h0M972 759h0M976 768h0M979 762h0M975 769h0M979 759h0M973 760h0M966 752h0M963 743h0M964 752h0M971 758h0M971 762h0M972 754h0M967 764h0M975 764h0M970 777h0M973 773h0M971 762h0M964 764h0M968 768h0M970 774h0M975 773h0M977 771h0M976 769h0M986 769h0M977 777h0M977 772h0M983 772h0M980 775h0M975 774h0M981 774h0M980 783h0M986 773h0M983 781h0M984 784h0M988 779h0M986 788h0M987 795h0M983 786h0M990 792h0M995 783h0M998 797h0M1001 792h0M1009 790h0M1009 783h0M1011 795h0M1013 799h0M1009 799h0M1011 794h0M1018 796h0M1011 793h0M971 769h0M977 770h0M980 767h0M976 781h0M984 774h0M979 783h0M985 792h0M981 777h0M982 784h0M987 785h0M987 786h0M982 780h0M981 795h0M986 788h0M989 789h0M990 789h0M994 792h0M999 796h0M1002 798h0M996 807h0M1002 792h0M1004 795h0M1005 804h0M1000 804h0M1005 813h0M1002 808h0M1009 810h0M1007 798h0M1012 816h0M1007 796h0M1007 813h0M1018 814h0M1016 815h0M1018 818h0M1018 811h0M1018 818h0M1020 812h0M1019 815h0M1022 817h0M1020 797h0M1017 813h0M1021 812h0M1020 820h0M1024 824h0M1029 823h0M1028 817h0M1029 826h0M1024 810h0M1032 834h0M1033 822h0M1036 825h0M1034 824h0M1030 831h0M1036 830h0M1043 831h0M1041 829h0M1053 843h0M1048 831h0M1051 849h0M1057 847h0M1045 828h0M1055 828h0M1053 836h0M1050 836h0M1048 825h0M1050 833h0M1054 833h0M1052 831h0M1056 834h0M1056 841h0M1068 831h0M1053 846h0M1066 829h0M1056 844h0M1061 849h0M1066 845h0M1063 838h0M1070 845h0M1063 846h0M1073 838h0M1065 849h0M1072 842h0M1065 845h0M1064 843h0M1072 836h0M1075 855h0M1080 849h0M1085 864h0M1078 852h0M1071 858h0M1079 847h0M1083 841h0M1088 850h0M1079 859h0M1086 865h0M1083 859h0M1099 862h0M1083 860h0M1078 857h0M1091 844h0M1082 860h0M1084 852h0M1098 871h0M1095 820h0M1094 814h0M1095 821h0M1092 816h0M1093 822h0M1096 823h0M1096 823h0M1097 824h0M1098 828h0M1099 828h0M1098 836h0M1100 833h0M1100 831h0M1102 837h0M1102 837h0M1103 846h0M1107 840h0M1102 852h0M1096 872h0M1095 875h0M1104 873h0M1107 877h0M1099 876h0M1108 882h0M1102 886h0M1106 871h0M1102 889h0M1101 891h0M1111 889h0M1106 885h0M1113 882h0M1118 887h0M1113 892h0M1113 885h0M1121 893h0M1116 899h0M1114 908h0M1110 888h0M1118 887h0M1114 890h0M1123 894h0M1124 900h0M1124 915h0M1121 912h0M1126 896h0M1129 900h0M1125 895h0M1134 896h0M1130 906h0M1127 908h0M1135 906h0M1134 903h0M1130 910h0M1136 905h0M1140 922h0M1134 909h0M1145 915h0M1143 920h0M1141 912h0M1139 906h0M1144 905h0M1134 922h0M1146 918h0M1144 912h0M1137 918h0M1150 862h0M1143 880h0M1145 864h0M1143 866h0M1154 870h0M1146 864h0M1152 868h0M1153 856h0M1151 868h0M1152 870h0M1153 872h0M1154 874h0M1155 876h0M1153 871h0M1155 872h0M1157 870h0M1149 876h0M1153 874h0M1152 869h0M1153 878h0M1151 879h0M1155 875h0M1158 878h0M1151 872h0M1171 856h0M1168 857h0M1172 862h0M1171 864h0M1172 862h0M1175 864h0M1171 866h0M1169 869h0M1174 868h0M1172 865h0M1177 878h0M1176 873h0M1179 874h0M1178 880h0M1179 876h0M1179 883h0M1164 900h0M1160 896h0M1160 902h0M1160 905h0M1161 911h0M1165 916h0M1166 906h0M1170 910h0M1167 916h0M1176 912h0M1167 906h0M1170 915h0M1169 913h0M1170 908h0M1171 925h0M1165 926h0M1168 917h0M1167 910h0M1179 916h0M1168 917h0M1176 916h0M1172 921h0M1174 923h0M1177 920h0M1174 925h0M1176 928h0M1178 935h0M1172 929h0M1186 928h0M1180 931h0M1182 929h0M1178 930h0M1183 931h0M1177 945h0M1183 936h0M1181 946h0M1184 942h0M1178 938h0M1184 932h0M1184 947h0M1186 932h0M1189 938h0M1192 944h0M1191 941h0M1192 934h0M1188 950h0M1182 946h0M1187 941h0M1183 945h0M1187 951h0M1188 945h0M1188 953h0M1189 953h0M1191 953h0M1187 945h0M1190 961h0M1194 943h0M1190 953h0M1197 885h0M1208 877h0M1190 884h0M1194 882h0M1195 884h0M1190 876h0M1203 882h0M1207 881h0M1202 898h0M1207 899h0M1204 889h0M1207 889h0M1206 898h0M1214 890h0M1209 898h0M1216 895h0M1223 900h0M1214 891h0M1220 904h0M1219 894h0M1221 913h0M1216 902h0M1227 904h0M1226 899h0M1233 896h0M1230 914h0M1236 893h0M1234 914h0M1236 901h0M1232 914h0M1229 915h0M1231 918h0M1225 910h0M1237 913h0M1237 916h0M1238 912h0M1245 925h0M1235 905h0M1243 904h0M1248 920h0M1246 922h0M1243 923h0M1248 915h0M1252 927h0M1264 906h0M1264 908h0M1262 889h0M1260 905h0M1264 903h0M1268 914h0M1259 904h0M1262 902h0M1269 894h0M1266 910h0M1262 889h0M1265 906h0M1271 911h0M1260 918h0M1263 914h0M1268 928h0M1266 908h0M1272 923h0M1274 916h0M1274 922h0M1277 923h0M1281 934h0M1284 937h0M1286 931h0M1288 930h0M1287 921h0M1285 928h0M1293 940h0M1294 934h0M1284 939h0M1288 943h0M1286 934h0M1295 947h0M1292 933h0M1292 945h0M1296 940h0M1284 944h0M1290 971h0M1301 955h0M1297 941h0M1247 950h0M1252 955h0M1250 954h0M1248 958h0M1254 960h0M1256 969h0M1262 960h0M1255 960h0M1256 973h0M1255 972h0M1259 971h0M1258 969h0M1260 979h0M1261 962h0M1354 944h0M1355 941h0M1351 950h0M1352 949h0M1354 938h0M1355 956h0M1353 937h0M1355 963h0M1356 950h0M1356 957h0M1360 953h0M1353 959h0M1359 967h0M1364 958h0M1359 966h0M1360 959h0M1362 967h0M1358 960h0M1363 962h0M1364 971h0M1368 966h0M1365 979h0M1372 961h0M1375 964h0M1373 971h0M1373 962h0M1370 973h0M1379 975h0M1376 981h0M1370 975h0M1379 981h0M1372 970h0M1385 985h0M1372 972h0M1371 980h0M1384 985h0M1376 986h0M1382 981h0M1393 977h0M1382 991h0M1389 990h0M1295 995h0M1296 986h0M1298 995h0M1303 991h0M1299 1002h0M1301 1003h0M1302 1002h0M1309 992h0M1310 1000h0M1309 1009h0M1310 1004h0M1314 1011h0M1312 1009h0M1320 1010h0M1308 1008h0M1318 1003h0M1319 1009h0M1316 1007h0M1323 1013h0M1316 1017h0M1316 1006h0M1318 1013h0M1324 1008h0M1318 1009h0M1331 1026h0M1325 1019h0M1328 1018h0M1330 1020h0M1331 1017h0M1328 1020h0M1338 1025h0M1341 1030h0M1342 1021h0M1339 1023h0M1339 1022h0M1344 1025h0M1348 1023h0M1348 1026h0M1343 1020h0M1342 1020h0M1342 1033h0M1339 1020h0M1350 1040h0M1346 1024h0M1355 1032h0M1391 1007h0M1394 1017h0M1387 1014h0M1390 1024h0M1390 1024h0M1392 1017h0M1390 1010h0M1401 1016h0M1392 1019h0M1398 1018h0M1400 1023h0M1399 1023h0M1400 1019h0M1399 1025h0M1400 1026h0M1401 1032h0M1401 1026h0M1408 1034h0M1404 1031h0M1403 1037h0M1410 1029h0M1409 1035h0M1408 1040h0M1415 1011h0M1410 1033h0M1410 1039h0M1413 1025h0M1409 1029h0M1412 1041h0M1419 1030h0M1414 1029h0M1415 1029h0M1423 1031h0M1429 1041h0M1433 1040h0M1426 1033h0M1429 1040h0M1427 1037h0M1431 1046h0M1429 1043h0M1427 1044h0M1436 1042h0M1428 1035h0M1432 1055h0M1433 1047h0M1440 1052h0M1435 1059h0M1435 1054h0M1444 1048h0M1447 1058h0M1440 1052h0M1439 1048h0M1451 1055h0M1453 1049h0M1453 1065h0M1463 1068h0M1458 1075h0M1464 1072h0M1463 1067h0M1460 1069h0M1465 1056h0M1465 1072h0M1461 1060h0M1469 1069h0M1476 1074h0M1471 1075h0M1469 1070h0M1468 1077h0M1473 1080h0M1472 1079h0M1475 1075h0M1476 1082h0M1485 1075h0M1484 1081h0M1484 1075h0M1496 1071h0M1492 1073h0M1499 1068h0M1503 1077h0M1501 1080h0M1495 1076h0M1503 1071h0M1503 1079h0M1507 1071h0M1498 1068h0M1497 1066h0M1511 1063h0M1511 1084h0M1513 1069h0M1511 1061h0M1517 1066h0M1518 1063h0M1518 1065h0M1523 1075h0M1527 1073h0M1535 1076h0M1528 1073h0M1533 1080h0M1540 1069h0M1536 1070h0M1537 1071h0M1539 1078h0M1540 1083h0M1551 1048h0M1554 1048h0M1560 1054h0M1561 1051h0M1560 1055h0M1561 1051h0M1567 1052h0M1563 1052h0M1564 1052h0M1565 1057h0M1566 1063h0M1568 1062h0M1567 1064h0M1570 1067h0M1572 1072h0M1568 1111h0M1568 1116h0M1572 1108h0M1578 1115h0M1581 1114h0M1584 1117h0M1580 1124h0M1586 1120h0M1583 1116h0M1584 1126h0M1589 1124h0M1591 1127h0M1588 1138h0M1588 1059h0M1595 1058h0M1593 1061h0M1594 1064h0M1590 1071h0M1591 1072h0M1599 1060h0M1591 1067h0M1591 1057h0M1601 1068h0M1602 1067h0M1603 1056h0M1602 1065h0M1607 1063h0M1609 1075h0M1611 1061h0M1602 1073h0M1609 1069h0M1607 1078h0M1615 1065h0M1621 1082h0M1616 1071h0M1613 1060h0M1611 1063h0M1619 1065h0M1619 1070h0M1629 1069h0M1620 1063h0M1622 1078h0M1621 1069h0M1621 1077h0M1627 1060h0M1630 1071h0M1634 1072h0M1635 1078h0M1636 1081h0M1631 1067h0M1639 1077h0M1637 1075h0M1640 1077h0M1644 1083h0M1648 1083h0M1646 1076h0M1648 1073h0M1647 1081h0M1648 1090h0M1646 1083h0M1649 1079h0M1647 1083h0M1648 1085h0M1648 1075h0M1656 1075h0M1658 1082h0M1653 1081h0M1661 1076h0M1657 1075h0M1660 1094h0M1659 1086h0M1672 1089h0M1679 1090h0M1676 1090h0M1672 1073h0M1685 1093h0M1686 1090h0M1688 1099h0M1686 1099h0M1681 1089h0M1682 1107h0M1679 1105h0M1685 1115h0M1693 1110h0M1694 1111h0M1691 1109h0M1701 1105h0M1694 1113h0M1699 1106h0M1691 1107h0M1690 1117h0M1699 1121h0M1705 1131h0M1706 1131h0M1715 1116h0M1719 1116h0M1722 1117h0M1722 1126h0M1723 1114h0M1719 1112h0M1726 1124h0M1726 1114h0M1726 1114h0M1721 1122h0M1718 1111h0M1722 1112h0M1727 1121h0M1735 1122h0M1733 1125h0M1741 1119h0M1736 1124h0M1733 1115h0M1729 1124h0M1734 1132h0M1740 1119h0M1752 1117h0M1742 1120h0M1739 1125h0M1748 1134h0M1748 1137h0M1757 1127h0M1760 1120h0M1746 1124h0M1764 1124h0M1757 1130h0M1755 1122h0M1759 1126h0M1771 1122h0M1772 1131h0M1767 1116h0M1761 1122h0M1773 1128h0M1770 1146h0M1771 1132h0M1350 944h0M1347 943h0M1342 949h0M1351 947h0M1347 953h0M1349 953h0M1351 963h0M1353 960h0M1350 963h0M1355 970h0M1352 972h0M1357 973h0M1354 972h0" stroke="#d62728" stroke-opacity="0.42" stroke-width="7.4" stroke-linecap="round" fill="none"/><path d="M378 177h0M373 178h0M376 172h0M376 177h0M376 185h0M380 204h0M381 198h0M380 199h0M377 205h0M384 204h0M383 210h0M382 195h0M387 190h0M385 208h0M388 205h0M391 207h0M383 216h0M385 211h0M382 219h0M385 207h0M385 210h0M387 208h0M385 217h0M386 209h0M389 218h0M390 211h0M387 223h0M391 216h0M390 227h0M387 226h0M389 223h0M387 222h0M386 232h0M392 159h0M392 161h0M399 166h0M394 164h0M402 163h0M404 166h0M405 173h0M402 169h0M417 173h0M411 170h0M417 173h0M429 181h0M429 187h0M435 227h0M430 232h0M431 233h0M425 229h0M434 217h0M428 234h0M435 225h0M432 239h0M440 233h0M443 242h0M436 235h0M442 240h0M442 226h0M442 247h0M434 255h0M443 244h0M441 240h0M441 241h0M443 248h0M447 253h0M444 241h0M450 252h0M447 256h0M452 247h0M447 263h0M447 255h0M455 251h0M443 256h0M454 239h0M454 262h0M449 249h0M454 252h0M456 257h0M461 250h0M464 258h0M463 258h0M470 255h0M468 261h0M467 251h0M464 262h0M470 257h0M466 258h0M468 267h0M471 267h0M478 256h0M476 265h0M479 268h0M479 266h0M484 267h0M483 266h0M484 257h0M489 274h0M486 265h0M484 282h0M487 274h0M492 280h0M493 275h0M491 278h0M495 275h0M495 280h0M493 277h0M493 278h0M493 277h0M497 286h0M505 276h0M508 294h0M501 283h0M506 264h0M507 277h0M512 296h0M511 309h0M510 285h0M508 291h0M516 298h0M512 288h0M510 290h0M508 290h0M514 294h0M516 294h0M514 307h0M519 308h0M518 300h0M515 304h0M518 314h0M530 298h0M521 302h0M517 301h0M518 299h0M527 299h0M517 315h0M521 299h0M525 301h0M529 315h0M532 320h0M524 313h0M534 306h0M533 304h0M528 311h0M531 305h0M532 324h0M532 325h0M530 319h0M536 320h0M536 315h0M540 324h0M540 330h0M536 320h0M544 326h0M539 331h0M541 335h0M542 327h0M542 321h0M546 340h0M543 338h0M550 341h0M552 338h0M550 339h0M552 340h0M555 351h0M555 344h0M557 349h0M565 283h0M574 286h0M576 288h0M573 285h0M582 360h0M580 349h0M580 356h0M582 357h0M582 349h0M583 351h0M589 360h0M585 355h0M590 368h0M595 361h0M594 367h0M591 362h0M594 364h0M591 368h0M594 370h0M597 370h0M602 378h0M599 369h0M578 337h0M586 349h0M580 358h0M586 355h0M581 349h0M582 356h0M585 359h0M588 352h0M589 360h0M589 359h0M589 349h0M589 364h0M592 357h0M595 361h0M591 357h0M587 367h0M588 358h0M589 367h0M595 365h0M595 361h0M592 362h0M596 369h0M602 375h0M600 385h0M602 379h0M597 377h0M605 396h0M616 403h0M612 405h0M613 396h0M614 403h0M611 400h0M616 399h0M617 406h0M618 396h0M615 405h0M615 412h0M615 417h0M620 422h0M621 420h0M623 413h0M620 410h0M616 417h0M625 424h0M630 424h0M625 426h0M629 426h0M606 318h0M609 331h0M601 329h0M613 322h0M618 330h0M605 322h0M609 331h0M609 320h0M612 334h0M606 330h0M614 333h0M612 328h0M615 345h0M619 332h0M622 340h0M621 339h0M617 335h0M623 335h0M627 343h0M625 334h0M627 330h0M624 338h0M627 348h0M624 341h0M635 350h0M629 329h0M630 350h0M636 344h0M630 350h0M630 352h0M626 359h0M621 348h0M638 360h0M643 360h0M640 355h0M645 355h0M642 357h0M650 357h0M651 345h0M647 363h0M641 364h0M651 365h0M661 361h0M646 366h0M653 367h0M644 364h0M659 368h0M655 374h0M658 371h0M654 377h0M660 377h0M657 381h0M665 374h0M666 380h0M655 382h0M665 387h0M661 391h0M660 390h0M663 390h0M670 381h0M665 386h0M669 390h0M672 391h0M675 388h0M668 390h0M675 391h0M680 399h0M669 390h0M675 385h0M681 391h0M677 392h0M672 391h0M679 392h0M675 399h0M673 384h0M685 398h0M677 397h0M678 392h0M686 397h0M680 395h0M678 395h0M685 404h0M689 395h0M687 395h0M679 396h0M686 405h0M684 404h0M687 406h0M693 414h0M692 423h0M682 408h0M688 405h0M684 416h0M692 404h0M698 415h0M695 417h0M691 428h0M691 407h0M701 401h0M699 422h0M698 434h0M699 416h0M701 420h0M703 429h0M700 427h0M701 423h0M703 440h0M707 427h0M706 433h0M705 432h0M707 426h0M702 425h0M705 448h0M706 423h0M708 429h0M712 434h0M715 439h0M708 438h0M711 433h0M710 443h0M716 438h0M712 432h0M715 443h0M713 452h0M718 442h0M717 426h0M717 448h0M714 450h0M714 438h0M714 443h0M724 452h0M728 449h0M724 444h0M718 456h0M718 458h0M725 448h0M718 443h0M727 453h0M728 445h0M728 465h0M726 460h0M736 458h0M726 451h0M725 460h0M726 448h0M734 469h0M727 466h0M730 466h0M732 471h0M735 451h0M738 472h0M739 467h0M736 442h0M735 464h0M732 473h0M735 464h0M737 475h0M737 471h0M737 469h0M738 473h0M742 463h0M744 480h0M734 467h0M747 477h0M745 469h0M741 481h0M749 481h0M748 484h0M742 480h0M747 487h0M747 476h0M752 481h0M747 492h0M750 482h0M756 481h0M752 486h0M758 502h0M758 481h0M752 499h0M756 492h0M757 501h0M762 502h0M768 489h0M756 506h0M758 498h0M759 486h0M758 500h0M761 499h0M751 512h0M772 510h0M761 499h0M761 505h0M770 514h0M767 524h0M770 506h0M774 511h0M771 499h0M772 506h0M771 506h0M770 503h0M765 509h0M775 514h0M780 506h0M776 515h0M780 507h0M774 515h0M777 521h0M779 514h0M786 522h0M787 512h0M776 515h0M784 515h0M790 526h0M784 524h0M784 521h0M788 525h0M784 533h0M787 530h0M784 525h0M784 535h0M785 529h0M792 532h0M792 525h0M793 528h0M794 533h0M785 530h0M795 524h0M789 532h0M791 543h0M786 542h0M796 526h0M795 541h0M794 538h0M801 531h0M793 524h0M799 543h0M790 548h0M785 537h0M802 546h0M798 546h0M799 543h0M795 557h0M800 561h0M804 554h0M797 532h0M794 553h0M791 547h0M803 562h0M798 549h0M804 539h0M800 549h0M795 554h0M807 549h0M798 551h0M798 560h0M795 561h0M799 541h0M818 637h0M815 632h0M819 636h0M821 647h0M827 647h0M821 645h0M822 638h0M825 647h0M825 655h0M831 662h0M835 658h0M834 672h0M836 657h0M836 669h0M835 663h0M839 668h0M840 670h0M840 665h0M839 673h0M842 683h0M848 687h0M852 685h0M852 610h0M853 620h0M852 619h0M853 622h0M848 616h0M858 615h0M850 626h0M858 620h0M865 643h0M857 634h0M861 629h0M859 631h0M857 625h0M858 630h0M865 625h0M857 618h0M857 632h0M858 623h0M861 641h0M866 649h0M866 632h0M865 639h0M861 633h0M865 649h0M867 641h0M869 655h0M869 644h0M871 647h0M863 647h0M865 655h0M871 642h0M879 646h0M876 655h0M876 649h0M880 650h0M872 663h0M871 663h0M876 652h0M879 663h0M876 661h0M877 671h0M878 661h0M881 664h0M884 682h0M884 674h0M888 672h0M882 662h0M919 725h0M926 732h0M921 741h0M934 721h0M930 729h0M931 732h0M933 731h0M935 738h0M934 740h0M938 736h0M933 733h0M941 738h0M937 753h0M940 739h0M939 748h0M938 741h0M941 736h0M945 752h0M945 749h0M944 748h0M943 744h0M949 741h0M952 748h0M949 746h0M947 757h0M957 751h0M949 759h0M957 763h0M965 758h0M958 768h0M964 763h0M964 752h0M962 752h0M961 750h0M961 756h0M963 760h0M964 763h0M960 759h0M962 755h0M972 763h0M960 760h0M970 768h0M966 753h0M966 762h0M972 751h0M970 758h0M971 762h0M981 765h0M972 769h0M960 753h0M964 757h0M969 749h0M959 749h0M967 753h0M974 762h0M974 763h0M972 762h0M973 772h0M973 774h0M973 771h0M976 774h0M978 772h0M972 773h0M981 779h0M978 783h0M981 779h0M979 777h0M984 770h0M980 780h0M987 779h0M984 781h0M982 784h0M983 776h0M980 782h0M983 779h0M995 785h0M990 782h0M998 793h0M996 794h0M1003 791h0M1000 780h0M1003 793h0M1000 794h0M1002 789h0M1007 797h0M1011 795h0M1008 797h0M1015 796h0M1010 796h0M1016 798h0M972 776h0M981 776h0M979 767h0M976 777h0M976 775h0M976 769h0M981 787h0M977 790h0M973 773h0M973 791h0M984 780h0M991 784h0M992 783h0M991 788h0M985 785h0M983 799h0M992 790h0M994 791h0M994 802h0M985 793h0M986 786h0M986 789h0M988 790h0M997 796h0M997 787h0M996 802h0M992 798h0M1002 804h0M1005 807h0M1001 808h0M1007 815h0M1002 800h0M1012 805h0M1004 805h0M1012 801h0M1014 803h0M1011 819h0M1011 813h0M1014 807h0M1014 810h0M1016 810h0M1016 809h0M1020 804h0M1023 816h0M1022 820h0M1020 823h0M1026 817h0M1022 816h0M1022 822h0M1025 835h0M1022 831h0M1025 818h0M1027 828h0M1028 822h0M1036 827h0M1028 820h0M1034 834h0M1033 829h0M1033 826h0M1031 829h0M1036 832h0M1036 837h0M1045 827h0M1042 829h0M1038 837h0M1038 833h0M1054 837h0M1046 833h0M1042 844h0M1046 843h0M1056 834h0M1057 829h0M1050 842h0M1058 831h0M1062 835h0M1067 836h0M1062 849h0M1057 835h0M1066 842h0M1069 855h0M1072 847h0M1060 848h0M1066 842h0M1072 848h0M1072 854h0M1073 852h0M1072 848h0M1080 842h0M1078 851h0M1086 834h0M1083 853h0M1074 865h0M1082 839h0M1090 846h0M1089 850h0M1087 861h0M1082 846h0M1084 849h0M1086 845h0M1093 852h0M1093 875h0M1094 858h0M1087 867h0M1092 858h0M1094 863h0M1092 865h0M1089 844h0M1094 859h0M1094 816h0M1096 817h0M1091 823h0M1096 820h0M1092 826h0M1097 822h0M1095 826h0M1099 830h0M1102 839h0M1102 841h0M1100 844h0M1085 864h0M1095 868h0M1100 879h0M1100 869h0M1104 871h0M1097 872h0M1105 873h0M1102 882h0M1101 876h0M1104 871h0M1103 873h0M1109 882h0M1108 878h0M1102 890h0M1115 885h0M1113 892h0M1110 883h0M1122 879h0M1121 896h0M1119 894h0M1112 889h0M1115 897h0M1114 889h0M1123 898h0M1117 895h0M1124 895h0M1131 905h0M1127 898h0M1121 893h0M1122 898h0M1128 910h0M1130 893h0M1133 892h0M1134 916h0M1134 913h0M1137 908h0M1135 902h0M1135 893h0M1132 914h0M1129 909h0M1130 911h0M1138 903h0M1141 913h0M1128 913h0M1135 925h0M1140 913h0M1134 923h0M1143 914h0M1144 912h0M1135 862h0M1146 868h0M1145 864h0M1150 866h0M1151 872h0M1151 874h0M1148 866h0M1145 867h0M1156 870h0M1153 873h0M1155 871h0M1153 873h0M1157 873h0M1171 857h0M1169 855h0M1169 865h0M1171 857h0M1172 865h0M1172 865h0M1172 868h0M1174 870h0M1174 871h0M1176 874h0M1165 904h0M1160 911h0M1163 909h0M1170 913h0M1171 907h0M1170 912h0M1169 919h0M1175 920h0M1173 925h0M1172 921h0M1176 920h0M1170 921h0M1176 926h0M1178 933h0M1182 930h0M1180 925h0M1181 937h0M1185 936h0M1185 938h0M1185 943h0M1183 940h0M1185 942h0M1185 944h0M1190 941h0M1188 944h0M1186 939h0M1184 935h0M1190 951h0M1189 949h0M1187 958h0M1188 957h0M1186 951h0M1191 877h0M1196 893h0M1195 870h0M1188 874h0M1197 891h0M1205 875h0M1196 876h0M1198 873h0M1204 889h0M1204 899h0M1212 889h0M1201 891h0M1206 897h0M1204 880h0M1212 885h0M1208 881h0M1211 899h0M1216 908h0M1211 899h0M1218 891h0M1217 903h0M1206 894h0M1216 904h0M1221 893h0M1228 896h0M1222 912h0M1220 882h0M1231 912h0M1224 902h0M1219 901h0M1225 905h0M1223 890h0M1218 899h0M1221 904h0M1222 900h0M1228 909h0M1225 902h0M1226 900h0M1232 903h0M1237 911h0M1233 907h0M1237 910h0M1232 914h0M1234 919h0M1236 920h0M1238 910h0M1236 917h0M1233 918h0M1245 913h0M1239 931h0M1243 926h0M1241 928h0M1252 922h0M1241 913h0M1245 941h0M1253 927h0M1249 921h0M1251 915h0M1246 925h0M1256 908h0M1264 914h0M1268 907h0M1263 906h0M1264 911h0M1266 910h0M1269 912h0M1269 908h0M1276 919h0M1275 918h0M1275 914h0M1264 917h0M1271 916h0M1277 919h0M1279 921h0M1278 913h0M1273 919h0M1277 914h0M1273 925h0M1281 926h0M1273 934h0M1277 918h0M1277 927h0M1275 925h0M1277 921h0M1283 921h0M1275 925h0M1280 944h0M1281 932h0M1288 934h0M1290 924h0M1287 940h0M1286 931h0M1287 945h0M1289 931h0M1291 940h0M1293 938h0M1292 937h0M1286 941h0M1292 956h0M1289 939h0M1293 936h0M1292 951h0M1289 945h0M1293 938h0M1296 948h0M1291 943h0M1292 950h0M1250 951h0M1246 951h0M1248 953h0M1250 963h0M1246 951h0M1249 954h0M1255 956h0M1256 958h0M1256 963h0M1256 969h0M1257 968h0M1257 971h0M1259 976h0M1260 969h0M1256 973h0M1259 968h0M1345 938h0M1347 948h0M1354 940h0M1352 952h0M1353 949h0M1353 956h0M1358 954h0M1349 949h0M1356 952h0M1355 959h0M1358 955h0M1356 958h0M1357 958h0M1365 955h0M1356 965h0M1364 965h0M1363 956h0M1374 967h0M1365 975h0M1366 953h0M1363 965h0M1369 969h0M1372 970h0M1375 980h0M1377 980h0M1377 972h0M1376 970h0M1378 978h0M1376 975h0M1376 977h0M1383 978h0M1378 978h0M1383 981h0M1378 984h0M1383 989h0M1385 989h0M1386 976h0M1375 980h0M1385 980h0M1393 992h0M1389 993h0M1392 996h0M1387 984h0M1296 993h0M1295 985h0M1295 991h0M1292 1001h0M1295 1001h0M1305 993h0M1308 1001h0M1309 1002h0M1307 997h0M1309 997h0M1306 991h0M1305 1004h0M1312 996h0M1310 999h0M1307 1011h0M1322 1021h0M1315 1013h0M1312 1009h0M1315 1014h0M1321 1005h0M1310 1010h0M1316 1024h0M1322 1012h0M1325 1018h0M1325 1018h0M1327 1023h0M1335 1027h0M1340 1033h0M1335 1025h0M1338 1027h0M1336 1025h0M1333 1034h0M1343 1028h0M1348 1026h0M1349 1042h0M1345 1032h0M1384 1015h0M1394 1023h0M1392 1024h0M1393 1014h0M1388 1014h0M1398 1017h0M1396 1017h0M1393 1024h0M1398 1007h0M1401 1026h0M1400 1023h0M1406 1017h0M1414 1024h0M1410 1035h0M1409 1025h0M1415 1047h0M1411 1039h0M1416 1047h0M1418 1028h0M1414 1040h0M1434 1044h0M1423 1044h0M1431 1057h0M1432 1054h0M1434 1049h0M1428 1050h0M1425 1042h0M1434 1036h0M1430 1048h0M1434 1035h0M1431 1057h0M1427 1047h0M1441 1051h0M1441 1047h0M1440 1056h0M1450 1049h0M1442 1052h0M1442 1052h0M1447 1046h0M1445 1050h0M1447 1050h0M1451 1065h0M1449 1053h0M1459 1058h0M1462 1060h0M1462 1069h0M1465 1066h0M1466 1073h0M1469 1072h0M1478 1082h0M1473 1078h0M1474 1069h0M1475 1075h0M1474 1077h0M1475 1086h0M1480 1071h0M1480 1071h0M1477 1076h0M1478 1073h0M1486 1082h0M1486 1082h0M1492 1072h0M1494 1078h0M1495 1072h0M1498 1070h0M1502 1073h0M1498 1072h0M1504 1068h0M1501 1076h0M1501 1070h0M1507 1081h0M1517 1075h0M1511 1066h0M1511 1074h0M1508 1075h0M1514 1076h0M1509 1061h0M1513 1067h0M1509 1067h0M1513 1073h0M1511 1069h0M1515 1074h0M1518 1064h0M1527 1077h0M1522 1078h0M1521 1062h0M1524 1082h0M1523 1078h0M1523 1062h0M1523 1082h0M1526 1074h0M1539 1089h0M1537 1083h0M1535 1069h0M1540 1085h0M1538 1078h0M1560 1050h0M1560 1046h0M1559 1056h0M1566 1059h0M1564 1073h0M1569 1061h0M1567 1061h0M1567 1055h0M1568 1066h0M1569 1060h0M1571 1067h0M1572 1066h0M1576 1068h0M1567 1072h0M1570 1071h0M1575 1075h0M1576 1065h0M1572 1072h0M1573 1101h0M1572 1106h0M1571 1106h0M1573 1106h0M1573 1112h0M1576 1118h0M1578 1115h0M1577 1114h0M1577 1110h0M1581 1117h0M1578 1107h0M1580 1116h0M1578 1113h0M1582 1120h0M1585 1121h0M1583 1115h0M1587 1129h0M1586 1124h0M1587 1129h0M1592 1135h0M1591 1065h0M1591 1059h0M1591 1062h0M1604 1051h0M1602 1064h0M1597 1076h0M1602 1070h0M1605 1069h0M1605 1059h0M1608 1069h0M1601 1076h0M1612 1067h0M1616 1068h0M1607 1070h0M1614 1065h0M1610 1062h0M1610 1070h0M1609 1067h0M1613 1073h0M1612 1074h0M1621 1062h0M1620 1072h0M1614 1070h0M1617 1074h0M1619 1070h0M1616 1079h0M1622 1071h0M1619 1086h0M1623 1064h0M1622 1063h0M1629 1065h0M1632 1066h0M1629 1073h0M1627 1081h0M1632 1078h0M1632 1073h0M1626 1075h0M1631 1071h0M1626 1071h0M1635 1079h0M1627 1070h0M1635 1080h0M1640 1072h0M1637 1075h0M1641 1070h0M1640 1093h0M1648 1076h0M1641 1079h0M1640 1079h0M1648 1077h0M1645 1080h0M1644 1083h0M1645 1071h0M1641 1087h0M1647 1088h0M1654 1080h0M1653 1084h0M1648 1083h0M1650 1087h0M1655 1081h0M1653 1086h0M1659 1084h0M1657 1078h0M1660 1081h0M1658 1082h0M1658 1089h0M1664 1076h0M1662 1084h0M1680 1088h0M1674 1098h0M1677 1087h0M1677 1099h0M1667 1090h0M1670 1098h0M1683 1101h0M1673 1091h0M1680 1095h0M1676 1075h0M1685 1100h0M1682 1097h0M1680 1095h0M1679 1097h0M1681 1105h0M1690 1096h0M1686 1090h0M1684 1101h0M1681 1112h0M1679 1108h0M1691 1111h0M1694 1107h0M1688 1120h0M1695 1096h0M1689 1099h0M1699 1110h0M1694 1105h0M1701 1117h0M1698 1115h0M1695 1114h0M1694 1106h0M1704 1129h0M1699 1122h0M1695 1104h0M1699 1112h0M1697 1101h0M1703 1125h0M1705 1122h0M1702 1106h0M1708 1119h0M1716 1122h0M1708 1113h0M1711 1119h0M1708 1122h0M1713 1111h0M1711 1111h0M1703 1126h0M1704 1114h0M1707 1119h0M1712 1127h0M1712 1114h0M1710 1113h0M1712 1109h0M1721 1122h0M1723 1117h0M1712 1122h0M1724 1115h0M1713 1117h0M1719 1126h0M1724 1119h0M1729 1120h0M1729 1118h0M1732 1123h0M1727 1115h0M1726 1117h0M1726 1128h0M1727 1122h0M1731 1116h0M1736 1146h0M1733 1124h0M1735 1122h0M1742 1125h0M1738 1127h0M1741 1123h0M1745 1124h0M1750 1111h0M1748 1131h0M1750 1135h0M1751 1132h0M1751 1123h0M1752 1126h0M1752 1119h0M1751 1138h0M1755 1131h0M1761 1116h0M1765 1128h0M1754 1129h0M1763 1139h0M1764 1135h0M1763 1126h0M1765 1135h0M1769 1134h0M1762 1124h0M1774 1128h0M1771 1126h0M1763 1142h0M1346 943h0M1347 951h0M1344 947h0M1349 952h0M1347 950h0M1350 952h0M1351 954h0M1348 958h0M1353 961h0M1354 958h0M1348 961h0M1352 961h0M1352 964h0M1352 963h0M1354 967h0M1359 973h0M1355 973h0" stroke="#d62728" stroke-opacity="0.42" stroke-width="7.4" stroke-linecap="round" fill="none"/><path d="M372.8 139.4 L384.7 144.5 L396.6 150.4 L408.5 157.0 L420.4 164.3 L432.3 172.2 L444.2 180.8 L456.1 189.9 L468.0 199.6 L479.9 209.9 L491.8 220.6 L503.7 231.8 L515.6 243.5 L527.5 255.6 L539.4 268.1 L551.3 280.9 L563.2 294.1 L575.1 307.6 L587.0 321.3 L598.9 335.4 L610.8 349.6 L622.7 364.1 L634.6 378.8 L646.5 393.6 L658.4 408.6 L670.3 423.8 L682.2 439.0 L694.1 454.3 L706.0 469.7 L717.9 485.1 L729.9 500.5 L741.8 516.0 L753.7 531.4 L765.6 546.8 L777.5 562.2 L789.4 577.5 L801.3 592.7 L813.2 607.8 L825.1 622.8 L837.0 637.8 L848.9 652.5 L860.8 667.1 L872.7 681.6 L884.6 695.9 L896.5 710.0 L908.4 723.9 L920.3 737.6 L932.2 751.1 L944.1 764.3 L956.0 777.4 L967.9 790.1 L979.8 802.7 L991.7 814.9 L1003.6 826.9 L1015.5 838.7 L1027.4 850.1 L1039.3 861.3 L1051.2 872.2 L1063.1 882.7 L1075.0 893.0 L1086.9 903.0 L1098.8 912.7 L1110.7 922.1 L1122.6 931.2 L1134.5 940.0 L1146.4 948.4 L1158.3 956.6 L1170.2 964.4 L1182.1 971.9 L1194.0 979.2 L1205.9 986.1 L1217.8 992.7 L1229.7 999.1 L1241.6 1005.1 L1253.5 1010.8 L1265.4 1016.3 L1277.3 1021.5 L1289.2 1026.4 L1301.1 1031.0 L1313.0 1035.4 L1324.9 1039.5 L1336.8 1043.3 L1348.7 1047.0 L1360.6 1050.3 L1372.5 1053.5 L1384.4 1056.5 L1396.3 1059.2 L1408.2 1061.8 L1420.1 1064.2 L1432.0 1066.4 L1444.0 1068.4 L1455.9 1070.4 L1467.8 1072.1 L1479.7 1073.8 L1491.6 1075.4 L1503.5 1076.9 L1515.4 1078.3 L1527.3 1079.6 L1539.2 1080.9 L1551.1 1082.2 L1563.0 1083.5 L1574.9 1084.8 L1586.8 1086.2 L1598.7 1087.6 L1610.6 1089.0 L1622.5 1090.6 L1634.4 1092.2 L1646.3 1094.0 L1658.2 1096.0 L1670.1 1098.1 L1682.0 1100.5 L1693.9 1103.0 L1705.8 1105.8 L1717.7 1108.9 L1729.6 1112.3 L1741.5 1116.0 L1753.4 1120.0 L1765.3 1124.4 L1777.2 1129.2 L1789.1 1134.5" fill="none" stroke="#000" stroke-width="13.5" stroke-linecap="square" stroke-linejoin="round"/><rect x="303.5" y="30.7" width="1558.3" height="1162.3" fill="none" stroke="#1a1a1a" stroke-width="3.6" stroke-linejoin="miter"/><path d="M372.8 1193.0v14.6M656.1 1193.0v14.6M939.3 1193.0v14.6M1222.6 1193.0v14.6M1505.8 1193.0v14.6M1789.1 1193.0v14.6M303.5 1142.7h-14.6M303.5 982.5h-14.6M303.5 822.4h-14.6M303.5 662.2h-14.6M303.5 502.1h-14.6M303.5 342.0h-14.6M303.5 181.8h-14.6" stroke="#000" stroke-width="3.3"/><g font-family="'DejaVu Sans', 'Liberation Sans', sans-serif" font-size="86" fill="#000"><text x="372.8" y="1290.1" text-anchor="middle">0</text><text x="656.1" y="1290.1" text-anchor="middle">500</text><text x="939.3" y="1290.1" text-anchor="middle">1000</text><text x="1222.6" y="1290.1" text-anchor="middle">1500</text><text x="1505.8" y="1290.1" text-anchor="middle">2000</text><text x="1789.1" y="1290.1" text-anchor="middle">2500</text><text x="271" y="1176.5" text-anchor="end">0.0</text><text x="271" y="1016.3" text-anchor="end">0.1</text><text x="271" y="856.2" text-anchor="end">0.2</text><text x="271" y="696.0" text-anchor="end">0.3</text><text x="271" y="535.9" text-anchor="end">0.4</text><text x="271" y="375.8" text-anchor="end">0.5</text><text x="271" y="215.6" text-anchor="end">0.6</text><text x="1081" y="1395.6" text-anchor="middle">Time/min</text><text transform="translate(89.5 614) rotate(-90)" text-anchor="middle">Tem-Diff/°C</text></g><rect x="1390.9" y="56" width="441.4" height="430.3" rx="10" fill="#fff" fill-opacity="0.8" stroke="#ccc" stroke-width="3"/><g font-family="'DejaVu Sans', 'Liberation Sans', sans-serif" font-size="52" fill="#000"><text x="1558" y="124.1">Data04</text><text x="1558" y="206.1">Data1</text><text x="1558" y="288.1">Data3600</text><text x="1558" y="370.1">Data9</text><text x="1558" y="452.1">Fit</text></g><circle cx="1462.5" cy="108.6" r="13.5" fill="#1f77b4"/><circle cx="1462.5" cy="190.6" r="13.5" fill="#ff7f0e"/><circle cx="1462.5" cy="272.6" r="13.5" fill="#2ca02c"/><circle cx="1462.5" cy="356.6" r="13.5" fill="#d62728"/><path d="M1401 434.3H1521" stroke="#000" stroke-width="12.8"/></svg>
</body></html>
